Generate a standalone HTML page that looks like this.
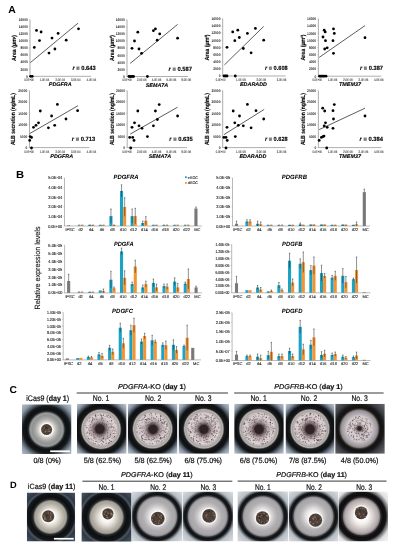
<!DOCTYPE html>
<html><head><meta charset="utf-8"><style>
html,body{margin:0;padding:0;background:#fff;}
svg{display:block;will-change:transform;}
text{font-family:"Liberation Sans", sans-serif;text-rendering:geometricPrecision;}
</style></head><body>
<svg width="397" height="550" viewBox="0 0 397 550">
<defs><filter id="soft" x="-10%" y="-10%" width="120%" height="120%"><feGaussianBlur stdDeviation="0.35"/></filter><radialGradient id="gc1" cx="46.60" cy="429.60" r="35.14" gradientUnits="userSpaceOnUse"><stop offset="0.0000" stop-color="#f8f6f4"/><stop offset="0.1268" stop-color="#f6f4f0"/><stop offset="0.1972" stop-color="#e6e4e0"/><stop offset="0.2676" stop-color="#c0beba"/><stop offset="0.3380" stop-color="#a2a2a0"/><stop offset="0.4085" stop-color="#909292"/><stop offset="0.4577" stop-color="#9c9e9e"/><stop offset="0.4930" stop-color="#6a6e70"/><stop offset="0.5211" stop-color="#222426"/><stop offset="0.5775" stop-color="#0c0e10"/><stop offset="0.6690" stop-color="#16191c"/><stop offset="0.7324" stop-color="#46505a"/><stop offset="0.8310" stop-color="#8a96a4"/><stop offset="1.0000" stop-color="#b8c4d0"/></radialGradient><clipPath id="clipc1"><rect x="22" y="404.3" width="49.50" height="49.70"/></clipPath><radialGradient id="gc2" cx="101.00" cy="429.20" r="35.22" gradientUnits="userSpaceOnUse"><stop offset="0.0000" stop-color="#b8acac"/><stop offset="0.1761" stop-color="#d4c8c8"/><stop offset="0.4225" stop-color="#dcd2d2"/><stop offset="0.4648" stop-color="#c0b8b6"/><stop offset="0.5070" stop-color="#a8a2a0"/><stop offset="0.5423" stop-color="#b8b4b2"/><stop offset="0.5634" stop-color="#5a5a5a"/><stop offset="0.5845" stop-color="#1a1b1c"/><stop offset="0.6690" stop-color="#0e0f10"/><stop offset="0.7183" stop-color="#16191c"/><stop offset="0.7746" stop-color="#4a525c"/><stop offset="0.8592" stop-color="#8a96a4"/><stop offset="1.0000" stop-color="#c0c8d0"/></radialGradient><clipPath id="clipc2"><rect x="77" y="403.8" width="49.60" height="50.00"/></clipPath><radialGradient id="hc2" cx="99.80" cy="429.00" r="12.32" gradientUnits="userSpaceOnUse"><stop offset="0" stop-color="#3a2e2e" stop-opacity="1"/><stop offset="0.4" stop-color="#4a3c3c" stop-opacity="0.9"/><stop offset="0.7" stop-color="#7a6868" stop-opacity="0.35"/><stop offset="1" stop-color="#8a7a7a" stop-opacity="0"/></radialGradient><radialGradient id="gc3" cx="152.60" cy="428.80" r="35.22" gradientUnits="userSpaceOnUse"><stop offset="0.0000" stop-color="#b8acac"/><stop offset="0.1761" stop-color="#d4c8c8"/><stop offset="0.4225" stop-color="#dcd2d2"/><stop offset="0.4648" stop-color="#c0b8b6"/><stop offset="0.5070" stop-color="#a8a2a0"/><stop offset="0.5423" stop-color="#b8b4b2"/><stop offset="0.5634" stop-color="#5a5a5a"/><stop offset="0.5845" stop-color="#1a1b1c"/><stop offset="0.6690" stop-color="#0e0f10"/><stop offset="0.7183" stop-color="#16191c"/><stop offset="0.7746" stop-color="#4a525c"/><stop offset="0.8592" stop-color="#8a96a4"/><stop offset="1.0000" stop-color="#c0c8d0"/></radialGradient><clipPath id="clipc3"><rect x="127.8" y="403.8" width="49.60" height="50.00"/></clipPath><radialGradient id="hc3" cx="153.00" cy="429.30" r="11.88" gradientUnits="userSpaceOnUse"><stop offset="0" stop-color="#3a2e2e" stop-opacity="1"/><stop offset="0.4" stop-color="#4a3c3c" stop-opacity="0.9"/><stop offset="0.7" stop-color="#7a6868" stop-opacity="0.35"/><stop offset="1" stop-color="#8a7a7a" stop-opacity="0"/></radialGradient><radialGradient id="gc4" cx="203.80" cy="428.80" r="35.50" gradientUnits="userSpaceOnUse"><stop offset="0.0000" stop-color="#b8acac"/><stop offset="0.1761" stop-color="#d4c8c8"/><stop offset="0.4225" stop-color="#dcd2d2"/><stop offset="0.4648" stop-color="#c0b8b6"/><stop offset="0.5070" stop-color="#a8a2a0"/><stop offset="0.5423" stop-color="#b8b4b2"/><stop offset="0.5634" stop-color="#5a5a5a"/><stop offset="0.5845" stop-color="#1a1b1c"/><stop offset="0.6690" stop-color="#0e0f10"/><stop offset="0.7183" stop-color="#16191c"/><stop offset="0.7746" stop-color="#4a525c"/><stop offset="0.8592" stop-color="#8a96a4"/><stop offset="1.0000" stop-color="#c0c8d0"/></radialGradient><clipPath id="clipc4"><rect x="178.6" y="403.8" width="50.40" height="50.00"/></clipPath><radialGradient id="hc4" cx="203.80" cy="429.30" r="11.88" gradientUnits="userSpaceOnUse"><stop offset="0" stop-color="#3a2e2e" stop-opacity="1"/><stop offset="0.4" stop-color="#4a3c3c" stop-opacity="0.9"/><stop offset="0.7" stop-color="#7a6868" stop-opacity="0.35"/><stop offset="1" stop-color="#8a7a7a" stop-opacity="0"/></radialGradient><radialGradient id="gc5" cx="259.00" cy="428.80" r="35.22" gradientUnits="userSpaceOnUse"><stop offset="0.0000" stop-color="#b8acac"/><stop offset="0.1761" stop-color="#d4c8c8"/><stop offset="0.4225" stop-color="#dcd2d2"/><stop offset="0.4648" stop-color="#c0b8b6"/><stop offset="0.5070" stop-color="#a8a2a0"/><stop offset="0.5423" stop-color="#b8b4b2"/><stop offset="0.5634" stop-color="#5a5a5a"/><stop offset="0.5845" stop-color="#1a1b1c"/><stop offset="0.6690" stop-color="#0e0f10"/><stop offset="0.7183" stop-color="#16191c"/><stop offset="0.7746" stop-color="#4a525c"/><stop offset="0.8592" stop-color="#8a96a4"/><stop offset="1.0000" stop-color="#c0c8d0"/></radialGradient><clipPath id="clipc5"><rect x="234.2" y="403.8" width="49.60" height="50.00"/></clipPath><radialGradient id="hc5" cx="259.00" cy="429.30" r="12.32" gradientUnits="userSpaceOnUse"><stop offset="0" stop-color="#3a2e2e" stop-opacity="1"/><stop offset="0.4" stop-color="#4a3c3c" stop-opacity="0.9"/><stop offset="0.7" stop-color="#7a6868" stop-opacity="0.35"/><stop offset="1" stop-color="#8a7a7a" stop-opacity="0"/></radialGradient><radialGradient id="gc6" cx="310.00" cy="428.80" r="34.79" gradientUnits="userSpaceOnUse"><stop offset="0.0000" stop-color="#b8acac"/><stop offset="0.1761" stop-color="#d4c8c8"/><stop offset="0.4225" stop-color="#dcd2d2"/><stop offset="0.4648" stop-color="#c0b8b6"/><stop offset="0.5070" stop-color="#a8a2a0"/><stop offset="0.5423" stop-color="#b8b4b2"/><stop offset="0.5634" stop-color="#5a5a5a"/><stop offset="0.5845" stop-color="#1a1b1c"/><stop offset="0.6690" stop-color="#0e0f10"/><stop offset="0.7183" stop-color="#16191c"/><stop offset="0.7746" stop-color="#4a525c"/><stop offset="0.8592" stop-color="#8a96a4"/><stop offset="1.0000" stop-color="#c0c8d0"/></radialGradient><clipPath id="clipc6"><rect x="285.5" y="403.8" width="49.00" height="50.00"/></clipPath><radialGradient id="hc6" cx="310.00" cy="429.30" r="12.32" gradientUnits="userSpaceOnUse"><stop offset="0" stop-color="#3a2e2e" stop-opacity="1"/><stop offset="0.4" stop-color="#4a3c3c" stop-opacity="0.9"/><stop offset="0.7" stop-color="#7a6868" stop-opacity="0.35"/><stop offset="1" stop-color="#8a7a7a" stop-opacity="0"/></radialGradient><radialGradient id="gc7" cx="359.30" cy="428.80" r="35.22" gradientUnits="userSpaceOnUse"><stop offset="0.0000" stop-color="#c8c0c0"/><stop offset="0.2113" stop-color="#dcd4d4"/><stop offset="0.3521" stop-color="#d6cece"/><stop offset="0.4085" stop-color="#bab4b8"/><stop offset="0.4789" stop-color="#a29eaa"/><stop offset="0.5282" stop-color="#8e8884"/><stop offset="0.5634" stop-color="#3a3430"/><stop offset="0.6056" stop-color="#121110"/><stop offset="0.6901" stop-color="#1a1a1c"/><stop offset="0.7746" stop-color="#3a3c40"/><stop offset="1.0000" stop-color="#6a6c70"/></radialGradient><clipPath id="clipc7"><rect x="335.2" y="403.8" width="49.60" height="50.00"/></clipPath><radialGradient id="hc7" cx="359.50" cy="428.50" r="5.50" gradientUnits="userSpaceOnUse"><stop offset="0" stop-color="#3a2e2e" stop-opacity="1"/><stop offset="0.4" stop-color="#4a3c3c" stop-opacity="0.9"/><stop offset="0.7" stop-color="#7a6868" stop-opacity="0.35"/><stop offset="1" stop-color="#8a7a7a" stop-opacity="0"/></radialGradient><radialGradient id="gd1" cx="50.50" cy="516.90" r="34.36" gradientUnits="userSpaceOnUse"><stop offset="0.0000" stop-color="#fafafa"/><stop offset="0.1549" stop-color="#f6f4f0"/><stop offset="0.2394" stop-color="#e2ded6"/><stop offset="0.3239" stop-color="#c8c2b8"/><stop offset="0.4085" stop-color="#aca89e"/><stop offset="0.4507" stop-color="#a8a49c"/><stop offset="0.4789" stop-color="#7a7a76"/><stop offset="0.5070" stop-color="#2a2c2e"/><stop offset="0.5775" stop-color="#0c0e10"/><stop offset="0.6901" stop-color="#15191d"/><stop offset="0.7394" stop-color="#4c5560"/><stop offset="0.8028" stop-color="#2e3844"/><stop offset="1.0000" stop-color="#485868"/></radialGradient><clipPath id="clipd1"><rect x="26.8" y="492.5" width="48.40" height="49.00"/></clipPath><radialGradient id="gd2" cx="106.50" cy="517.20" r="34.93" gradientUnits="userSpaceOnUse"><stop offset="0.0000" stop-color="#fafafa"/><stop offset="0.1549" stop-color="#f6f4f0"/><stop offset="0.2394" stop-color="#e2ded6"/><stop offset="0.3239" stop-color="#c8c2b8"/><stop offset="0.4085" stop-color="#aca89e"/><stop offset="0.4507" stop-color="#a8a49c"/><stop offset="0.4789" stop-color="#7a7a76"/><stop offset="0.5070" stop-color="#2a2c2e"/><stop offset="0.5775" stop-color="#0c0e10"/><stop offset="0.6901" stop-color="#15191d"/><stop offset="0.7394" stop-color="#4c5560"/><stop offset="0.8028" stop-color="#2e3844"/><stop offset="1.0000" stop-color="#485868"/></radialGradient><clipPath id="clipd2"><rect x="81.4" y="492.5" width="50.20" height="49.20"/></clipPath><radialGradient id="gd3" cx="157.10" cy="516.45" r="35.43" gradientUnits="userSpaceOnUse"><stop offset="0.0000" stop-color="#fafafa"/><stop offset="0.1408" stop-color="#f4f2f2"/><stop offset="0.2254" stop-color="#e2e0e0"/><stop offset="0.3169" stop-color="#c4c2c2"/><stop offset="0.4085" stop-color="#aeacae"/><stop offset="0.5070" stop-color="#a8a6a8"/><stop offset="0.5493" stop-color="#8a8a8c"/><stop offset="0.5775" stop-color="#3a3c3e"/><stop offset="0.6197" stop-color="#0e1012"/><stop offset="0.6761" stop-color="#1a1d20"/><stop offset="0.7183" stop-color="#6a7078"/><stop offset="0.7746" stop-color="#b8bec4"/><stop offset="1.0000" stop-color="#dcdfe2"/></radialGradient><clipPath id="clipd3"><rect x="131.8" y="491.5" width="50.60" height="49.90"/></clipPath><radialGradient id="gd4" cx="207.80" cy="516.45" r="35.43" gradientUnits="userSpaceOnUse"><stop offset="0.0000" stop-color="#fafafa"/><stop offset="0.1408" stop-color="#f4f2f2"/><stop offset="0.2254" stop-color="#e2e0e0"/><stop offset="0.3169" stop-color="#c4c2c2"/><stop offset="0.4085" stop-color="#aeacae"/><stop offset="0.5070" stop-color="#a8a6a8"/><stop offset="0.5493" stop-color="#8a8a8c"/><stop offset="0.5775" stop-color="#3a3c3e"/><stop offset="0.6197" stop-color="#0e1012"/><stop offset="0.6761" stop-color="#1a1d20"/><stop offset="0.7183" stop-color="#6a7078"/><stop offset="0.7746" stop-color="#b8bec4"/><stop offset="1.0000" stop-color="#dcdfe2"/></radialGradient><clipPath id="clipd4"><rect x="182.6" y="491.5" width="50.40" height="49.90"/></clipPath><radialGradient id="gd5" cx="262.80" cy="516.45" r="35.71" gradientUnits="userSpaceOnUse"><stop offset="0.0000" stop-color="#fafafa"/><stop offset="0.1408" stop-color="#f4f2f2"/><stop offset="0.2254" stop-color="#e2e0e0"/><stop offset="0.3169" stop-color="#c4c2c2"/><stop offset="0.4085" stop-color="#aeacae"/><stop offset="0.5070" stop-color="#a8a6a8"/><stop offset="0.5493" stop-color="#8a8a8c"/><stop offset="0.5775" stop-color="#3a3c3e"/><stop offset="0.6197" stop-color="#0e1012"/><stop offset="0.6761" stop-color="#1a1d20"/><stop offset="0.7183" stop-color="#6a7078"/><stop offset="0.7746" stop-color="#b8bec4"/><stop offset="1.0000" stop-color="#dcdfe2"/></radialGradient><clipPath id="clipd5"><rect x="237.4" y="491.3" width="50.80" height="50.30"/></clipPath><radialGradient id="gd6" cx="313.50" cy="516.45" r="35.36" gradientUnits="userSpaceOnUse"><stop offset="0.0000" stop-color="#fafafa"/><stop offset="0.1408" stop-color="#f4f2f2"/><stop offset="0.2254" stop-color="#e2e0e0"/><stop offset="0.3169" stop-color="#c4c2c2"/><stop offset="0.4085" stop-color="#aeacae"/><stop offset="0.5070" stop-color="#a8a6a8"/><stop offset="0.5493" stop-color="#8a8a8c"/><stop offset="0.5775" stop-color="#3a3c3e"/><stop offset="0.6197" stop-color="#0e1012"/><stop offset="0.6761" stop-color="#1a1d20"/><stop offset="0.7183" stop-color="#6a7078"/><stop offset="0.7746" stop-color="#b8bec4"/><stop offset="1.0000" stop-color="#dcdfe2"/></radialGradient><clipPath id="clipd6"><rect x="288.6" y="491.3" width="49.80" height="50.30"/></clipPath><radialGradient id="gd7" cx="361.60" cy="516.40" r="35.22" gradientUnits="userSpaceOnUse"><stop offset="0.0000" stop-color="#ffffff"/><stop offset="0.1972" stop-color="#f6f4f2"/><stop offset="0.2958" stop-color="#e0dad6"/><stop offset="0.3944" stop-color="#c6bebe"/><stop offset="0.4789" stop-color="#aea6a8"/><stop offset="0.5211" stop-color="#7a7476"/><stop offset="0.5493" stop-color="#2a2628"/><stop offset="0.6056" stop-color="#0e0d0e"/><stop offset="0.6901" stop-color="#151516"/><stop offset="0.7394" stop-color="#6a6a6e"/><stop offset="0.8451" stop-color="#e0e0e2"/><stop offset="1.0000" stop-color="#f4f4f6"/></radialGradient><clipPath id="clipd7"><rect x="338.4" y="491.5" width="49.60" height="50.00"/></clipPath></defs>
<rect width="397" height="550" fill="#fff"/>
<text x="8.2" y="13.0" font-size="10.2" text-anchor="start" font-weight="bold" font-style="normal" fill="#000" textLength="7.5" lengthAdjust="spacingAndGlyphs" >A</text>
<text x="15.9" y="178.3" font-size="10.2" text-anchor="start" font-weight="bold" font-style="normal" fill="#000" textLength="8.1" lengthAdjust="spacingAndGlyphs" >B</text>
<text x="9.6" y="392.7" font-size="9.92" text-anchor="start" font-weight="bold" font-style="normal" fill="#000" textLength="7.4" lengthAdjust="spacingAndGlyphs" >C</text>
<text x="10.0" y="488.1" font-size="9.22" text-anchor="start" font-weight="bold" font-style="normal" fill="#000" textLength="6.7" lengthAdjust="spacingAndGlyphs" >D</text>
<line x1="30" y1="19.6" x2="30" y2="76.3" stroke="#777" stroke-width="0.6"/>
<line x1="30" y1="76.3" x2="91.2" y2="76.3" stroke="#777" stroke-width="0.6"/>
<line x1="29" y1="19.60" x2="30" y2="19.60" stroke="#999" stroke-width="0.4"/>
<text x="27.8" y="20.95" font-size="3.8" text-anchor="end" font-weight="bold" font-style="normal" fill="#2a2a2a" textLength="9.1" lengthAdjust="spacingAndGlyphs" >16000</text>
<line x1="29" y1="26.69" x2="30" y2="26.69" stroke="#999" stroke-width="0.4"/>
<text x="27.8" y="28.04" font-size="3.8" text-anchor="end" font-weight="bold" font-style="normal" fill="#2a2a2a" textLength="9.1" lengthAdjust="spacingAndGlyphs" >14000</text>
<line x1="29" y1="33.77" x2="30" y2="33.77" stroke="#999" stroke-width="0.4"/>
<text x="27.8" y="35.12" font-size="3.8" text-anchor="end" font-weight="bold" font-style="normal" fill="#2a2a2a" textLength="9.1" lengthAdjust="spacingAndGlyphs" >12000</text>
<line x1="29" y1="40.86" x2="30" y2="40.86" stroke="#999" stroke-width="0.4"/>
<text x="27.8" y="42.21" font-size="3.8" text-anchor="end" font-weight="bold" font-style="normal" fill="#2a2a2a" textLength="9.1" lengthAdjust="spacingAndGlyphs" >10000</text>
<line x1="29" y1="47.95" x2="30" y2="47.95" stroke="#999" stroke-width="0.4"/>
<text x="27.8" y="49.3" font-size="3.8" text-anchor="end" font-weight="bold" font-style="normal" fill="#2a2a2a" textLength="7.28" lengthAdjust="spacingAndGlyphs" >8000</text>
<line x1="29" y1="55.04" x2="30" y2="55.04" stroke="#999" stroke-width="0.4"/>
<text x="27.8" y="56.39" font-size="3.8" text-anchor="end" font-weight="bold" font-style="normal" fill="#2a2a2a" textLength="7.28" lengthAdjust="spacingAndGlyphs" >6000</text>
<line x1="29" y1="62.12" x2="30" y2="62.12" stroke="#999" stroke-width="0.4"/>
<text x="27.8" y="63.48" font-size="3.8" text-anchor="end" font-weight="bold" font-style="normal" fill="#2a2a2a" textLength="7.28" lengthAdjust="spacingAndGlyphs" >4000</text>
<line x1="29" y1="69.21" x2="30" y2="69.21" stroke="#999" stroke-width="0.4"/>
<text x="27.8" y="70.56" font-size="3.8" text-anchor="end" font-weight="bold" font-style="normal" fill="#2a2a2a" textLength="7.28" lengthAdjust="spacingAndGlyphs" >2000</text>
<line x1="29" y1="76.30" x2="30" y2="76.30" stroke="#999" stroke-width="0.4"/>
<text x="27.8" y="77.65" font-size="3.8" text-anchor="end" font-weight="bold" font-style="normal" fill="#2a2a2a" textLength="1.82" lengthAdjust="spacingAndGlyphs" >0</text>
<text x="29.0" y="81.2" font-size="3.7" text-anchor="middle" font-weight="normal" font-style="normal" fill="#333" textLength="9.6" lengthAdjust="spacingAndGlyphs" stroke="#333" stroke-width="0.08">0.0E+00</text>
<text x="44.6" y="81.2" font-size="3.7" text-anchor="middle" font-weight="normal" font-style="normal" fill="#333" textLength="9.6" lengthAdjust="spacingAndGlyphs" stroke="#333" stroke-width="0.08">1.0E-04</text>
<text x="60.2" y="81.2" font-size="3.7" text-anchor="middle" font-weight="normal" font-style="normal" fill="#333" textLength="9.6" lengthAdjust="spacingAndGlyphs" stroke="#333" stroke-width="0.08">2.0E-04</text>
<text x="75.8" y="81.2" font-size="3.7" text-anchor="middle" font-weight="normal" font-style="normal" fill="#333" textLength="9.6" lengthAdjust="spacingAndGlyphs" stroke="#333" stroke-width="0.08">3.0E-04</text>
<text x="91.4" y="81.2" font-size="3.7" text-anchor="middle" font-weight="normal" font-style="normal" fill="#333" textLength="9.6" lengthAdjust="spacingAndGlyphs" stroke="#333" stroke-width="0.08">4.0E-04</text>
<line x1="30.4" y1="62.6" x2="78" y2="23.2" stroke="#333" stroke-width="0.8"/>
<circle cx="36.5" cy="30.4" r="1.4" fill="#000"/>
<circle cx="41.1" cy="32" r="1.4" fill="#000"/>
<circle cx="34.3" cy="47.4" r="1.4" fill="#000"/>
<circle cx="39.5" cy="40.6" r="1.4" fill="#000"/>
<circle cx="52" cy="38.1" r="1.4" fill="#000"/>
<circle cx="58.1" cy="33.4" r="1.4" fill="#000"/>
<circle cx="49" cy="53.1" r="1.4" fill="#000"/>
<circle cx="54.9" cy="49" r="1.4" fill="#000"/>
<circle cx="66.2" cy="40.2" r="1.4" fill="#000"/>
<circle cx="78.5" cy="28.8" r="1.4" fill="#000"/>
<circle cx="30.6" cy="76.3" r="1.4" fill="#000"/>
<circle cx="32.2" cy="76.3" r="1.4" fill="#000"/>
<text x="72.4" y="70.3" font-size="6.0" text-anchor="start" font-weight="bold" font-style="normal" fill="#000" textLength="23.3" lengthAdjust="spacingAndGlyphs" stroke="#000" stroke-width="0.12"><tspan font-style="italic">r</tspan> = 0.643</text>
<text x="60.2" y="86.3" font-size="5.4" text-anchor="middle" font-weight="bold" font-style="italic" fill="#000" stroke="#000" stroke-width="0.1">PDGFRA</text>
<text transform="translate(14.2,47.95) rotate(-90)" x="0" y="2.1" font-size="6.0" text-anchor="middle" font-weight="bold" fill="#000" stroke="#000" stroke-width="0.12" textLength="26" lengthAdjust="spacingAndGlyphs">Area (&#956;m<tspan font-size="3" dy="-1.5">2</tspan><tspan dy="1.5">)</tspan></text>
<line x1="127" y1="19.6" x2="127" y2="76.5" stroke="#777" stroke-width="0.6"/>
<line x1="127" y1="76.5" x2="188" y2="76.5" stroke="#777" stroke-width="0.6"/>
<line x1="126" y1="19.60" x2="127" y2="19.60" stroke="#999" stroke-width="0.4"/>
<text x="124.8" y="20.95" font-size="3.8" text-anchor="end" font-weight="bold" font-style="normal" fill="#2a2a2a" textLength="9.1" lengthAdjust="spacingAndGlyphs" >16000</text>
<line x1="126" y1="26.71" x2="127" y2="26.71" stroke="#999" stroke-width="0.4"/>
<text x="124.8" y="28.06" font-size="3.8" text-anchor="end" font-weight="bold" font-style="normal" fill="#2a2a2a" textLength="9.1" lengthAdjust="spacingAndGlyphs" >14000</text>
<line x1="126" y1="33.83" x2="127" y2="33.83" stroke="#999" stroke-width="0.4"/>
<text x="124.8" y="35.18" font-size="3.8" text-anchor="end" font-weight="bold" font-style="normal" fill="#2a2a2a" textLength="9.1" lengthAdjust="spacingAndGlyphs" >12000</text>
<line x1="126" y1="40.94" x2="127" y2="40.94" stroke="#999" stroke-width="0.4"/>
<text x="124.8" y="42.29" font-size="3.8" text-anchor="end" font-weight="bold" font-style="normal" fill="#2a2a2a" textLength="9.1" lengthAdjust="spacingAndGlyphs" >10000</text>
<line x1="126" y1="48.05" x2="127" y2="48.05" stroke="#999" stroke-width="0.4"/>
<text x="124.8" y="49.4" font-size="3.8" text-anchor="end" font-weight="bold" font-style="normal" fill="#2a2a2a" textLength="7.28" lengthAdjust="spacingAndGlyphs" >8000</text>
<line x1="126" y1="55.16" x2="127" y2="55.16" stroke="#999" stroke-width="0.4"/>
<text x="124.8" y="56.51" font-size="3.8" text-anchor="end" font-weight="bold" font-style="normal" fill="#2a2a2a" textLength="7.28" lengthAdjust="spacingAndGlyphs" >6000</text>
<line x1="126" y1="62.27" x2="127" y2="62.27" stroke="#999" stroke-width="0.4"/>
<text x="124.8" y="63.62" font-size="3.8" text-anchor="end" font-weight="bold" font-style="normal" fill="#2a2a2a" textLength="7.28" lengthAdjust="spacingAndGlyphs" >4000</text>
<line x1="126" y1="69.39" x2="127" y2="69.39" stroke="#999" stroke-width="0.4"/>
<text x="124.8" y="70.74" font-size="3.8" text-anchor="end" font-weight="bold" font-style="normal" fill="#2a2a2a" textLength="7.28" lengthAdjust="spacingAndGlyphs" >2000</text>
<line x1="126" y1="76.50" x2="127" y2="76.50" stroke="#999" stroke-width="0.4"/>
<text x="124.8" y="77.85" font-size="3.8" text-anchor="end" font-weight="bold" font-style="normal" fill="#2a2a2a" textLength="1.82" lengthAdjust="spacingAndGlyphs" >0</text>
<text x="127.0" y="81.4" font-size="3.7" text-anchor="middle" font-weight="normal" font-style="normal" fill="#333" textLength="9.6" lengthAdjust="spacingAndGlyphs" stroke="#333" stroke-width="0.08">0.0E+00</text>
<text x="141.8" y="81.4" font-size="3.7" text-anchor="middle" font-weight="normal" font-style="normal" fill="#333" textLength="9.6" lengthAdjust="spacingAndGlyphs" stroke="#333" stroke-width="0.08">2.0E-06</text>
<text x="156.6" y="81.4" font-size="3.7" text-anchor="middle" font-weight="normal" font-style="normal" fill="#333" textLength="9.6" lengthAdjust="spacingAndGlyphs" stroke="#333" stroke-width="0.08">4.0E-06</text>
<text x="171.4" y="81.4" font-size="3.7" text-anchor="middle" font-weight="normal" font-style="normal" fill="#333" textLength="9.6" lengthAdjust="spacingAndGlyphs" stroke="#333" stroke-width="0.08">6.0E-06</text>
<text x="186.2" y="81.4" font-size="3.7" text-anchor="middle" font-weight="normal" font-style="normal" fill="#333" textLength="9.6" lengthAdjust="spacingAndGlyphs" stroke="#333" stroke-width="0.08">8.0E-06</text>
<line x1="130.2" y1="63.4" x2="177.6" y2="24.4" stroke="#333" stroke-width="0.8"/>
<circle cx="132" cy="48.3" r="1.4" fill="#000"/>
<circle cx="134.5" cy="41" r="1.4" fill="#000"/>
<circle cx="137.8" cy="32.2" r="1.4" fill="#000"/>
<circle cx="139" cy="49" r="1.4" fill="#000"/>
<circle cx="141.6" cy="53.3" r="1.4" fill="#000"/>
<circle cx="153.4" cy="30.7" r="1.4" fill="#000"/>
<circle cx="155.4" cy="28.9" r="1.4" fill="#000"/>
<circle cx="159.7" cy="33.9" r="1.4" fill="#000"/>
<circle cx="157.2" cy="40.2" r="1.4" fill="#000"/>
<circle cx="177.6" cy="38.2" r="1.4" fill="#000"/>
<circle cx="129" cy="76.5" r="1.4" fill="#000"/>
<circle cx="130.5" cy="76.5" r="1.4" fill="#000"/>
<circle cx="132" cy="76.5" r="1.4" fill="#000"/>
<circle cx="133.5" cy="76.5" r="1.4" fill="#000"/>
<circle cx="147.4" cy="76.5" r="1.4" fill="#000"/>
<text x="168.5" y="71.1" font-size="6.0" text-anchor="start" font-weight="bold" font-style="normal" fill="#000" textLength="23.5" lengthAdjust="spacingAndGlyphs" stroke="#000" stroke-width="0.12"><tspan font-style="italic">r</tspan> = 0.587</text>
<text x="157" y="86.5" font-size="5.4" text-anchor="middle" font-weight="bold" font-style="italic" fill="#000" stroke="#000" stroke-width="0.1">SEMA7A</text>
<text transform="translate(111.5,48.05) rotate(-90)" x="0" y="2.1" font-size="6.0" text-anchor="middle" font-weight="bold" fill="#000" stroke="#000" stroke-width="0.12" textLength="26" lengthAdjust="spacingAndGlyphs">Area (&#956;m<tspan font-size="3" dy="-1.5">2</tspan><tspan dy="1.5">)</tspan></text>
<line x1="222.7" y1="18.8" x2="222.7" y2="76.0" stroke="#777" stroke-width="0.6"/>
<line x1="222.7" y1="76.0" x2="285.6" y2="76.0" stroke="#777" stroke-width="0.6"/>
<line x1="221.7" y1="18.80" x2="222.7" y2="18.80" stroke="#999" stroke-width="0.4"/>
<text x="220.5" y="20.15" font-size="3.8" text-anchor="end" font-weight="bold" font-style="normal" fill="#2a2a2a" textLength="9.1" lengthAdjust="spacingAndGlyphs" >16000</text>
<line x1="221.7" y1="25.95" x2="222.7" y2="25.95" stroke="#999" stroke-width="0.4"/>
<text x="220.5" y="27.3" font-size="3.8" text-anchor="end" font-weight="bold" font-style="normal" fill="#2a2a2a" textLength="9.1" lengthAdjust="spacingAndGlyphs" >14000</text>
<line x1="221.7" y1="33.10" x2="222.7" y2="33.10" stroke="#999" stroke-width="0.4"/>
<text x="220.5" y="34.45" font-size="3.8" text-anchor="end" font-weight="bold" font-style="normal" fill="#2a2a2a" textLength="9.1" lengthAdjust="spacingAndGlyphs" >12000</text>
<line x1="221.7" y1="40.25" x2="222.7" y2="40.25" stroke="#999" stroke-width="0.4"/>
<text x="220.5" y="41.6" font-size="3.8" text-anchor="end" font-weight="bold" font-style="normal" fill="#2a2a2a" textLength="9.1" lengthAdjust="spacingAndGlyphs" >10000</text>
<line x1="221.7" y1="47.40" x2="222.7" y2="47.40" stroke="#999" stroke-width="0.4"/>
<text x="220.5" y="48.75" font-size="3.8" text-anchor="end" font-weight="bold" font-style="normal" fill="#2a2a2a" textLength="7.28" lengthAdjust="spacingAndGlyphs" >8000</text>
<line x1="221.7" y1="54.55" x2="222.7" y2="54.55" stroke="#999" stroke-width="0.4"/>
<text x="220.5" y="55.9" font-size="3.8" text-anchor="end" font-weight="bold" font-style="normal" fill="#2a2a2a" textLength="7.28" lengthAdjust="spacingAndGlyphs" >6000</text>
<line x1="221.7" y1="61.70" x2="222.7" y2="61.70" stroke="#999" stroke-width="0.4"/>
<text x="220.5" y="63.05" font-size="3.8" text-anchor="end" font-weight="bold" font-style="normal" fill="#2a2a2a" textLength="7.28" lengthAdjust="spacingAndGlyphs" >4000</text>
<line x1="221.7" y1="68.85" x2="222.7" y2="68.85" stroke="#999" stroke-width="0.4"/>
<text x="220.5" y="70.2" font-size="3.8" text-anchor="end" font-weight="bold" font-style="normal" fill="#2a2a2a" textLength="7.28" lengthAdjust="spacingAndGlyphs" >2000</text>
<line x1="221.7" y1="76.00" x2="222.7" y2="76.00" stroke="#999" stroke-width="0.4"/>
<text x="220.5" y="77.35" font-size="3.8" text-anchor="end" font-weight="bold" font-style="normal" fill="#2a2a2a" textLength="1.82" lengthAdjust="spacingAndGlyphs" >0</text>
<text x="220.6" y="80.9" font-size="3.7" text-anchor="middle" font-weight="normal" font-style="normal" fill="#333" textLength="9.6" lengthAdjust="spacingAndGlyphs" stroke="#333" stroke-width="0.08">0.0E+00</text>
<text x="240.9" y="80.9" font-size="3.7" text-anchor="middle" font-weight="normal" font-style="normal" fill="#333" textLength="9.6" lengthAdjust="spacingAndGlyphs" stroke="#333" stroke-width="0.08">1.0E-05</text>
<text x="261.2" y="80.9" font-size="3.7" text-anchor="middle" font-weight="normal" font-style="normal" fill="#333" textLength="9.6" lengthAdjust="spacingAndGlyphs" stroke="#333" stroke-width="0.08">2.0E-05</text>
<text x="281.5" y="80.9" font-size="3.7" text-anchor="middle" font-weight="normal" font-style="normal" fill="#333" textLength="9.6" lengthAdjust="spacingAndGlyphs" stroke="#333" stroke-width="0.08">3.0E-05</text>
<line x1="224.4" y1="64.9" x2="263.7" y2="26.4" stroke="#333" stroke-width="0.8"/>
<circle cx="227" cy="47.3" r="1.4" fill="#000"/>
<circle cx="232.7" cy="31.9" r="1.4" fill="#000"/>
<circle cx="234.8" cy="40.7" r="1.4" fill="#000"/>
<circle cx="237.8" cy="30.2" r="1.4" fill="#000"/>
<circle cx="239.3" cy="37.5" r="1.4" fill="#000"/>
<circle cx="243.3" cy="48.5" r="1.4" fill="#000"/>
<circle cx="247.4" cy="33.4" r="1.4" fill="#000"/>
<circle cx="251.1" cy="52.8" r="1.4" fill="#000"/>
<circle cx="255.4" cy="28.4" r="1.4" fill="#000"/>
<circle cx="263.7" cy="40.2" r="1.4" fill="#000"/>
<circle cx="224" cy="76" r="1.4" fill="#000"/>
<circle cx="225.5" cy="76" r="1.4" fill="#000"/>
<circle cx="227" cy="76" r="1.4" fill="#000"/>
<circle cx="235.3" cy="76" r="1.4" fill="#000"/>
<text x="265" y="70.1" font-size="6.0" text-anchor="start" font-weight="bold" font-style="normal" fill="#000" textLength="22.7" lengthAdjust="spacingAndGlyphs" stroke="#000" stroke-width="0.12"><tspan font-style="italic">r</tspan> = 0.608</text>
<text x="253.5" y="86.0" font-size="5.4" text-anchor="middle" font-weight="bold" font-style="italic" fill="#000" stroke="#000" stroke-width="0.1">EDARADD</text>
<text transform="translate(206.8,47.40) rotate(-90)" x="0" y="2.1" font-size="6.0" text-anchor="middle" font-weight="bold" fill="#000" stroke="#000" stroke-width="0.12" textLength="26" lengthAdjust="spacingAndGlyphs">Area (&#956;m<tspan font-size="3" dy="-1.5">2</tspan><tspan dy="1.5">)</tspan></text>
<line x1="318.4" y1="18.8" x2="318.4" y2="76.2" stroke="#777" stroke-width="0.6"/>
<line x1="318.4" y1="76.2" x2="381.4" y2="76.2" stroke="#777" stroke-width="0.6"/>
<line x1="317.4" y1="18.80" x2="318.4" y2="18.80" stroke="#999" stroke-width="0.4"/>
<text x="316.2" y="20.15" font-size="3.8" text-anchor="end" font-weight="bold" font-style="normal" fill="#2a2a2a" textLength="9.1" lengthAdjust="spacingAndGlyphs" >16000</text>
<line x1="317.4" y1="25.98" x2="318.4" y2="25.98" stroke="#999" stroke-width="0.4"/>
<text x="316.2" y="27.33" font-size="3.8" text-anchor="end" font-weight="bold" font-style="normal" fill="#2a2a2a" textLength="9.1" lengthAdjust="spacingAndGlyphs" >14000</text>
<line x1="317.4" y1="33.15" x2="318.4" y2="33.15" stroke="#999" stroke-width="0.4"/>
<text x="316.2" y="34.5" font-size="3.8" text-anchor="end" font-weight="bold" font-style="normal" fill="#2a2a2a" textLength="9.1" lengthAdjust="spacingAndGlyphs" >12000</text>
<line x1="317.4" y1="40.33" x2="318.4" y2="40.33" stroke="#999" stroke-width="0.4"/>
<text x="316.2" y="41.68" font-size="3.8" text-anchor="end" font-weight="bold" font-style="normal" fill="#2a2a2a" textLength="9.1" lengthAdjust="spacingAndGlyphs" >10000</text>
<line x1="317.4" y1="47.50" x2="318.4" y2="47.50" stroke="#999" stroke-width="0.4"/>
<text x="316.2" y="48.85" font-size="3.8" text-anchor="end" font-weight="bold" font-style="normal" fill="#2a2a2a" textLength="7.28" lengthAdjust="spacingAndGlyphs" >8000</text>
<line x1="317.4" y1="54.67" x2="318.4" y2="54.67" stroke="#999" stroke-width="0.4"/>
<text x="316.2" y="56.02" font-size="3.8" text-anchor="end" font-weight="bold" font-style="normal" fill="#2a2a2a" textLength="7.28" lengthAdjust="spacingAndGlyphs" >6000</text>
<line x1="317.4" y1="61.85" x2="318.4" y2="61.85" stroke="#999" stroke-width="0.4"/>
<text x="316.2" y="63.2" font-size="3.8" text-anchor="end" font-weight="bold" font-style="normal" fill="#2a2a2a" textLength="7.28" lengthAdjust="spacingAndGlyphs" >4000</text>
<line x1="317.4" y1="69.03" x2="318.4" y2="69.03" stroke="#999" stroke-width="0.4"/>
<text x="316.2" y="70.38" font-size="3.8" text-anchor="end" font-weight="bold" font-style="normal" fill="#2a2a2a" textLength="7.28" lengthAdjust="spacingAndGlyphs" >2000</text>
<line x1="317.4" y1="76.20" x2="318.4" y2="76.20" stroke="#999" stroke-width="0.4"/>
<text x="316.2" y="77.55" font-size="3.8" text-anchor="end" font-weight="bold" font-style="normal" fill="#2a2a2a" textLength="1.82" lengthAdjust="spacingAndGlyphs" >0</text>
<text x="317.2" y="81.10000000000001" font-size="3.7" text-anchor="middle" font-weight="normal" font-style="normal" fill="#333" textLength="9.6" lengthAdjust="spacingAndGlyphs" stroke="#333" stroke-width="0.08">0.0E+00</text>
<text x="332.6" y="81.10000000000001" font-size="3.7" text-anchor="middle" font-weight="normal" font-style="normal" fill="#333" textLength="9.6" lengthAdjust="spacingAndGlyphs" stroke="#333" stroke-width="0.08">1.0E-06</text>
<text x="348.0" y="81.10000000000001" font-size="3.7" text-anchor="middle" font-weight="normal" font-style="normal" fill="#333" textLength="9.6" lengthAdjust="spacingAndGlyphs" stroke="#333" stroke-width="0.08">2.0E-06</text>
<text x="363.4" y="81.10000000000001" font-size="3.7" text-anchor="middle" font-weight="normal" font-style="normal" fill="#333" textLength="9.6" lengthAdjust="spacingAndGlyphs" stroke="#333" stroke-width="0.08">3.0E-06</text>
<text x="378.8" y="81.10000000000001" font-size="3.7" text-anchor="middle" font-weight="normal" font-style="normal" fill="#333" textLength="9.6" lengthAdjust="spacingAndGlyphs" stroke="#333" stroke-width="0.08">4.0E-06</text>
<line x1="319.2" y1="57.4" x2="365" y2="25.6" stroke="#333" stroke-width="0.8"/>
<circle cx="323" cy="37" r="1.4" fill="#000"/>
<circle cx="324.2" cy="30.2" r="1.4" fill="#000"/>
<circle cx="325.2" cy="31.9" r="1.4" fill="#000"/>
<circle cx="325.5" cy="40.7" r="1.4" fill="#000"/>
<circle cx="324.7" cy="49" r="1.4" fill="#000"/>
<circle cx="327.2" cy="47.8" r="1.4" fill="#000"/>
<circle cx="333.5" cy="28.9" r="1.4" fill="#000"/>
<circle cx="334.3" cy="33.4" r="1.4" fill="#000"/>
<circle cx="333" cy="40.7" r="1.4" fill="#000"/>
<circle cx="333.5" cy="53.3" r="1.4" fill="#000"/>
<circle cx="365" cy="37.7" r="1.4" fill="#000"/>
<circle cx="319.5" cy="76.2" r="1.4" fill="#000"/>
<circle cx="321" cy="76.2" r="1.4" fill="#000"/>
<circle cx="322.5" cy="76.2" r="1.4" fill="#000"/>
<circle cx="324" cy="76.2" r="1.4" fill="#000"/>
<circle cx="326" cy="76.2" r="1.4" fill="#000"/>
<text x="360" y="70.1" font-size="6.0" text-anchor="start" font-weight="bold" font-style="normal" fill="#000" textLength="23" lengthAdjust="spacingAndGlyphs" stroke="#000" stroke-width="0.12"><tspan font-style="italic">r</tspan> = 0.387</text>
<text x="350" y="86.2" font-size="5.4" text-anchor="middle" font-weight="bold" font-style="italic" fill="#000" stroke="#000" stroke-width="0.1">TMEM37</text>
<text transform="translate(302.8,47.50) rotate(-90)" x="0" y="2.1" font-size="6.0" text-anchor="middle" font-weight="bold" fill="#000" stroke="#000" stroke-width="0.12" textLength="26" lengthAdjust="spacingAndGlyphs">Area (&#956;m<tspan font-size="3" dy="-1.5">2</tspan><tspan dy="1.5">)</tspan></text>
<line x1="29.5" y1="90.6" x2="29.5" y2="147.6" stroke="#777" stroke-width="0.6"/>
<line x1="29.5" y1="147.6" x2="89.4" y2="147.6" stroke="#777" stroke-width="0.6"/>
<line x1="28.5" y1="90.60" x2="29.5" y2="90.60" stroke="#999" stroke-width="0.4"/>
<text x="27.3" y="91.95" font-size="3.8" text-anchor="end" font-weight="bold" font-style="normal" fill="#2a2a2a" textLength="9.1" lengthAdjust="spacingAndGlyphs" >25000</text>
<line x1="28.5" y1="102.00" x2="29.5" y2="102.00" stroke="#999" stroke-width="0.4"/>
<text x="27.3" y="103.35" font-size="3.8" text-anchor="end" font-weight="bold" font-style="normal" fill="#2a2a2a" textLength="9.1" lengthAdjust="spacingAndGlyphs" >20000</text>
<line x1="28.5" y1="113.40" x2="29.5" y2="113.40" stroke="#999" stroke-width="0.4"/>
<text x="27.3" y="114.75" font-size="3.8" text-anchor="end" font-weight="bold" font-style="normal" fill="#2a2a2a" textLength="9.1" lengthAdjust="spacingAndGlyphs" >15000</text>
<line x1="28.5" y1="124.80" x2="29.5" y2="124.80" stroke="#999" stroke-width="0.4"/>
<text x="27.3" y="126.15" font-size="3.8" text-anchor="end" font-weight="bold" font-style="normal" fill="#2a2a2a" textLength="9.1" lengthAdjust="spacingAndGlyphs" >10000</text>
<line x1="28.5" y1="136.20" x2="29.5" y2="136.20" stroke="#999" stroke-width="0.4"/>
<text x="27.3" y="137.55" font-size="3.8" text-anchor="end" font-weight="bold" font-style="normal" fill="#2a2a2a" textLength="7.28" lengthAdjust="spacingAndGlyphs" >5000</text>
<line x1="28.5" y1="147.60" x2="29.5" y2="147.60" stroke="#999" stroke-width="0.4"/>
<text x="27.3" y="148.95" font-size="3.8" text-anchor="end" font-weight="bold" font-style="normal" fill="#2a2a2a" textLength="1.82" lengthAdjust="spacingAndGlyphs" >0</text>
<text x="29.0" y="152.5" font-size="3.7" text-anchor="middle" font-weight="normal" font-style="normal" fill="#333" textLength="9.6" lengthAdjust="spacingAndGlyphs" stroke="#333" stroke-width="0.08">0.0E+00</text>
<text x="44.6" y="152.5" font-size="3.7" text-anchor="middle" font-weight="normal" font-style="normal" fill="#333" textLength="9.6" lengthAdjust="spacingAndGlyphs" stroke="#333" stroke-width="0.08">1.0E-04</text>
<text x="60.2" y="152.5" font-size="3.7" text-anchor="middle" font-weight="normal" font-style="normal" fill="#333" textLength="9.6" lengthAdjust="spacingAndGlyphs" stroke="#333" stroke-width="0.08">2.0E-04</text>
<text x="75.8" y="152.5" font-size="3.7" text-anchor="middle" font-weight="normal" font-style="normal" fill="#333" textLength="9.6" lengthAdjust="spacingAndGlyphs" stroke="#333" stroke-width="0.08">3.0E-04</text>
<text x="91.4" y="152.5" font-size="3.7" text-anchor="middle" font-weight="normal" font-style="normal" fill="#333" textLength="9.6" lengthAdjust="spacingAndGlyphs" stroke="#333" stroke-width="0.08">4.0E-04</text>
<line x1="29.7" y1="133.6" x2="78" y2="105.7" stroke="#333" stroke-width="0.8"/>
<circle cx="30.2" cy="136.6" r="1.4" fill="#000"/>
<circle cx="31.5" cy="137.4" r="1.4" fill="#000"/>
<circle cx="29.7" cy="140.4" r="1.4" fill="#000"/>
<circle cx="31.5" cy="148" r="1.4" fill="#000"/>
<circle cx="33.5" cy="127.3" r="1.4" fill="#000"/>
<circle cx="36" cy="125.3" r="1.4" fill="#000"/>
<circle cx="38.5" cy="122.8" r="1.4" fill="#000"/>
<circle cx="40.3" cy="111" r="1.4" fill="#000"/>
<circle cx="48.4" cy="127.8" r="1.4" fill="#000"/>
<circle cx="51.6" cy="116" r="1.4" fill="#000"/>
<circle cx="54.7" cy="125.3" r="1.4" fill="#000"/>
<circle cx="57.4" cy="104.4" r="1.4" fill="#000"/>
<circle cx="66" cy="119" r="1.4" fill="#000"/>
<circle cx="77.6" cy="110.7" r="1.4" fill="#000"/>
<text x="71.8" y="140.79999999999998" font-size="6.0" text-anchor="start" font-weight="bold" font-style="normal" fill="#000" textLength="23.4" lengthAdjust="spacingAndGlyphs" stroke="#000" stroke-width="0.12"><tspan font-style="italic">r</tspan> = 0.713</text>
<text x="61.7" y="157.6" font-size="5.4" text-anchor="middle" font-weight="bold" font-style="italic" fill="#000" stroke="#000" stroke-width="0.1">PDGFRA</text>
<text transform="translate(13.3,119.10) rotate(-90)" x="0" y="2.1" font-size="6.0" text-anchor="middle" font-weight="bold" fill="#000" stroke="#000" stroke-width="0.12" textLength="52" lengthAdjust="spacingAndGlyphs">ALB secretion (ng/mL)</text>
<line x1="127.2" y1="90.6" x2="127.2" y2="147.6" stroke="#777" stroke-width="0.6"/>
<line x1="127.2" y1="147.6" x2="187" y2="147.6" stroke="#777" stroke-width="0.6"/>
<line x1="126.2" y1="90.60" x2="127.2" y2="90.60" stroke="#999" stroke-width="0.4"/>
<text x="125.0" y="91.95" font-size="3.8" text-anchor="end" font-weight="bold" font-style="normal" fill="#2a2a2a" textLength="9.1" lengthAdjust="spacingAndGlyphs" >25000</text>
<line x1="126.2" y1="102.00" x2="127.2" y2="102.00" stroke="#999" stroke-width="0.4"/>
<text x="125.0" y="103.35" font-size="3.8" text-anchor="end" font-weight="bold" font-style="normal" fill="#2a2a2a" textLength="9.1" lengthAdjust="spacingAndGlyphs" >20000</text>
<line x1="126.2" y1="113.40" x2="127.2" y2="113.40" stroke="#999" stroke-width="0.4"/>
<text x="125.0" y="114.75" font-size="3.8" text-anchor="end" font-weight="bold" font-style="normal" fill="#2a2a2a" textLength="9.1" lengthAdjust="spacingAndGlyphs" >15000</text>
<line x1="126.2" y1="124.80" x2="127.2" y2="124.80" stroke="#999" stroke-width="0.4"/>
<text x="125.0" y="126.15" font-size="3.8" text-anchor="end" font-weight="bold" font-style="normal" fill="#2a2a2a" textLength="9.1" lengthAdjust="spacingAndGlyphs" >10000</text>
<line x1="126.2" y1="136.20" x2="127.2" y2="136.20" stroke="#999" stroke-width="0.4"/>
<text x="125.0" y="137.55" font-size="3.8" text-anchor="end" font-weight="bold" font-style="normal" fill="#2a2a2a" textLength="7.28" lengthAdjust="spacingAndGlyphs" >5000</text>
<line x1="126.2" y1="147.60" x2="127.2" y2="147.60" stroke="#999" stroke-width="0.4"/>
<text x="125.0" y="148.95" font-size="3.8" text-anchor="end" font-weight="bold" font-style="normal" fill="#2a2a2a" textLength="1.82" lengthAdjust="spacingAndGlyphs" >0</text>
<text x="127.0" y="152.5" font-size="3.7" text-anchor="middle" font-weight="normal" font-style="normal" fill="#333" textLength="9.6" lengthAdjust="spacingAndGlyphs" stroke="#333" stroke-width="0.08">0.0E+00</text>
<text x="141.8" y="152.5" font-size="3.7" text-anchor="middle" font-weight="normal" font-style="normal" fill="#333" textLength="9.6" lengthAdjust="spacingAndGlyphs" stroke="#333" stroke-width="0.08">2.0E-06</text>
<text x="156.6" y="152.5" font-size="3.7" text-anchor="middle" font-weight="normal" font-style="normal" fill="#333" textLength="9.6" lengthAdjust="spacingAndGlyphs" stroke="#333" stroke-width="0.08">4.0E-06</text>
<text x="171.4" y="152.5" font-size="3.7" text-anchor="middle" font-weight="normal" font-style="normal" fill="#333" textLength="9.6" lengthAdjust="spacingAndGlyphs" stroke="#333" stroke-width="0.08">6.0E-06</text>
<text x="186.2" y="152.5" font-size="3.7" text-anchor="middle" font-weight="normal" font-style="normal" fill="#333" textLength="9.6" lengthAdjust="spacingAndGlyphs" stroke="#333" stroke-width="0.08">8.0E-06</text>
<line x1="130.2" y1="134.1" x2="177.6" y2="107.2" stroke="#333" stroke-width="0.8"/>
<circle cx="129.7" cy="137.4" r="1.4" fill="#000"/>
<circle cx="132.7" cy="137.4" r="1.4" fill="#000"/>
<circle cx="134" cy="140.4" r="1.4" fill="#000"/>
<circle cx="130.7" cy="148" r="1.4" fill="#000"/>
<circle cx="132" cy="127.3" r="1.4" fill="#000"/>
<circle cx="134.5" cy="122.8" r="1.4" fill="#000"/>
<circle cx="137.8" cy="111" r="1.4" fill="#000"/>
<circle cx="139" cy="125.8" r="1.4" fill="#000"/>
<circle cx="142" cy="128.3" r="1.4" fill="#000"/>
<circle cx="147.4" cy="136.6" r="1.4" fill="#000"/>
<circle cx="153.4" cy="125.8" r="1.4" fill="#000"/>
<circle cx="155.4" cy="111" r="1.4" fill="#000"/>
<circle cx="157.4" cy="119.5" r="1.4" fill="#000"/>
<circle cx="159.2" cy="104.6" r="1.4" fill="#000"/>
<circle cx="177.6" cy="116" r="1.4" fill="#000"/>
<text x="169.3" y="141.29999999999998" font-size="6.0" text-anchor="start" font-weight="bold" font-style="normal" fill="#000" textLength="23.4" lengthAdjust="spacingAndGlyphs" stroke="#000" stroke-width="0.12"><tspan font-style="italic">r</tspan> = 0.635</text>
<text x="160" y="157.6" font-size="5.4" text-anchor="middle" font-weight="bold" font-style="italic" fill="#000" stroke="#000" stroke-width="0.1">SEMA7A</text>
<text transform="translate(111.5,119.10) rotate(-90)" x="0" y="2.1" font-size="6.0" text-anchor="middle" font-weight="bold" fill="#000" stroke="#000" stroke-width="0.12" textLength="52" lengthAdjust="spacingAndGlyphs">ALB secretion (ng/mL)</text>
<line x1="222.7" y1="90.6" x2="222.7" y2="147.6" stroke="#777" stroke-width="0.6"/>
<line x1="222.7" y1="147.6" x2="285.6" y2="147.6" stroke="#777" stroke-width="0.6"/>
<line x1="221.7" y1="90.60" x2="222.7" y2="90.60" stroke="#999" stroke-width="0.4"/>
<text x="220.5" y="91.95" font-size="3.8" text-anchor="end" font-weight="bold" font-style="normal" fill="#2a2a2a" textLength="9.1" lengthAdjust="spacingAndGlyphs" >25000</text>
<line x1="221.7" y1="102.00" x2="222.7" y2="102.00" stroke="#999" stroke-width="0.4"/>
<text x="220.5" y="103.35" font-size="3.8" text-anchor="end" font-weight="bold" font-style="normal" fill="#2a2a2a" textLength="9.1" lengthAdjust="spacingAndGlyphs" >20000</text>
<line x1="221.7" y1="113.40" x2="222.7" y2="113.40" stroke="#999" stroke-width="0.4"/>
<text x="220.5" y="114.75" font-size="3.8" text-anchor="end" font-weight="bold" font-style="normal" fill="#2a2a2a" textLength="9.1" lengthAdjust="spacingAndGlyphs" >15000</text>
<line x1="221.7" y1="124.80" x2="222.7" y2="124.80" stroke="#999" stroke-width="0.4"/>
<text x="220.5" y="126.15" font-size="3.8" text-anchor="end" font-weight="bold" font-style="normal" fill="#2a2a2a" textLength="9.1" lengthAdjust="spacingAndGlyphs" >10000</text>
<line x1="221.7" y1="136.20" x2="222.7" y2="136.20" stroke="#999" stroke-width="0.4"/>
<text x="220.5" y="137.55" font-size="3.8" text-anchor="end" font-weight="bold" font-style="normal" fill="#2a2a2a" textLength="7.28" lengthAdjust="spacingAndGlyphs" >5000</text>
<line x1="221.7" y1="147.60" x2="222.7" y2="147.60" stroke="#999" stroke-width="0.4"/>
<text x="220.5" y="148.95" font-size="3.8" text-anchor="end" font-weight="bold" font-style="normal" fill="#2a2a2a" textLength="1.82" lengthAdjust="spacingAndGlyphs" >0</text>
<text x="220.6" y="152.5" font-size="3.7" text-anchor="middle" font-weight="normal" font-style="normal" fill="#333" textLength="9.6" lengthAdjust="spacingAndGlyphs" stroke="#333" stroke-width="0.08">0.0E+00</text>
<text x="240.9" y="152.5" font-size="3.7" text-anchor="middle" font-weight="normal" font-style="normal" fill="#333" textLength="9.6" lengthAdjust="spacingAndGlyphs" stroke="#333" stroke-width="0.08">1.0E-05</text>
<text x="261.2" y="152.5" font-size="3.7" text-anchor="middle" font-weight="normal" font-style="normal" fill="#333" textLength="9.6" lengthAdjust="spacingAndGlyphs" stroke="#333" stroke-width="0.08">2.0E-05</text>
<text x="281.5" y="152.5" font-size="3.7" text-anchor="middle" font-weight="normal" font-style="normal" fill="#333" textLength="9.6" lengthAdjust="spacingAndGlyphs" stroke="#333" stroke-width="0.08">3.0E-05</text>
<line x1="224" y1="134.6" x2="264.2" y2="109.4" stroke="#333" stroke-width="0.8"/>
<circle cx="223.9" cy="137.4" r="1.4" fill="#000"/>
<circle cx="226" cy="137.4" r="1.4" fill="#000"/>
<circle cx="227.2" cy="140.4" r="1.4" fill="#000"/>
<circle cx="226" cy="148" r="1.4" fill="#000"/>
<circle cx="227" cy="127.3" r="1.4" fill="#000"/>
<circle cx="233.2" cy="111" r="1.4" fill="#000"/>
<circle cx="234.8" cy="122.8" r="1.4" fill="#000"/>
<circle cx="235.3" cy="136.6" r="1.4" fill="#000"/>
<circle cx="238.3" cy="125.3" r="1.4" fill="#000"/>
<circle cx="239.5" cy="116" r="1.4" fill="#000"/>
<circle cx="243.3" cy="125.8" r="1.4" fill="#000"/>
<circle cx="247.4" cy="104.4" r="1.4" fill="#000"/>
<circle cx="251.1" cy="127.8" r="1.4" fill="#000"/>
<circle cx="256" cy="110.7" r="1.4" fill="#000"/>
<circle cx="263.7" cy="119" r="1.4" fill="#000"/>
<text x="265" y="141.29999999999998" font-size="6.0" text-anchor="start" font-weight="bold" font-style="normal" fill="#000" textLength="22.7" lengthAdjust="spacingAndGlyphs" stroke="#000" stroke-width="0.12"><tspan font-style="italic">r</tspan> = 0.628</text>
<text x="252.9" y="157.6" font-size="5.4" text-anchor="middle" font-weight="bold" font-style="italic" fill="#000" stroke="#000" stroke-width="0.1">EDARADD</text>
<text transform="translate(207.3,119.10) rotate(-90)" x="0" y="2.1" font-size="6.0" text-anchor="middle" font-weight="bold" fill="#000" stroke="#000" stroke-width="0.12" textLength="52" lengthAdjust="spacingAndGlyphs">ALB secretion (ng/mL)</text>
<line x1="318.4" y1="90.6" x2="318.4" y2="147.6" stroke="#777" stroke-width="0.6"/>
<line x1="318.4" y1="147.6" x2="381.4" y2="147.6" stroke="#777" stroke-width="0.6"/>
<line x1="317.4" y1="90.60" x2="318.4" y2="90.60" stroke="#999" stroke-width="0.4"/>
<text x="316.2" y="91.95" font-size="3.8" text-anchor="end" font-weight="bold" font-style="normal" fill="#2a2a2a" textLength="9.1" lengthAdjust="spacingAndGlyphs" >25000</text>
<line x1="317.4" y1="102.00" x2="318.4" y2="102.00" stroke="#999" stroke-width="0.4"/>
<text x="316.2" y="103.35" font-size="3.8" text-anchor="end" font-weight="bold" font-style="normal" fill="#2a2a2a" textLength="9.1" lengthAdjust="spacingAndGlyphs" >20000</text>
<line x1="317.4" y1="113.40" x2="318.4" y2="113.40" stroke="#999" stroke-width="0.4"/>
<text x="316.2" y="114.75" font-size="3.8" text-anchor="end" font-weight="bold" font-style="normal" fill="#2a2a2a" textLength="9.1" lengthAdjust="spacingAndGlyphs" >15000</text>
<line x1="317.4" y1="124.80" x2="318.4" y2="124.80" stroke="#999" stroke-width="0.4"/>
<text x="316.2" y="126.15" font-size="3.8" text-anchor="end" font-weight="bold" font-style="normal" fill="#2a2a2a" textLength="9.1" lengthAdjust="spacingAndGlyphs" >10000</text>
<line x1="317.4" y1="136.20" x2="318.4" y2="136.20" stroke="#999" stroke-width="0.4"/>
<text x="316.2" y="137.55" font-size="3.8" text-anchor="end" font-weight="bold" font-style="normal" fill="#2a2a2a" textLength="7.28" lengthAdjust="spacingAndGlyphs" >5000</text>
<line x1="317.4" y1="147.60" x2="318.4" y2="147.60" stroke="#999" stroke-width="0.4"/>
<text x="316.2" y="148.95" font-size="3.8" text-anchor="end" font-weight="bold" font-style="normal" fill="#2a2a2a" textLength="1.82" lengthAdjust="spacingAndGlyphs" >0</text>
<text x="317.2" y="152.5" font-size="3.7" text-anchor="middle" font-weight="normal" font-style="normal" fill="#333" textLength="9.6" lengthAdjust="spacingAndGlyphs" stroke="#333" stroke-width="0.08">0.0E+00</text>
<text x="332.6" y="152.5" font-size="3.7" text-anchor="middle" font-weight="normal" font-style="normal" fill="#333" textLength="9.6" lengthAdjust="spacingAndGlyphs" stroke="#333" stroke-width="0.08">1.0E-06</text>
<text x="348.0" y="152.5" font-size="3.7" text-anchor="middle" font-weight="normal" font-style="normal" fill="#333" textLength="9.6" lengthAdjust="spacingAndGlyphs" stroke="#333" stroke-width="0.08">2.0E-06</text>
<text x="363.4" y="152.5" font-size="3.7" text-anchor="middle" font-weight="normal" font-style="normal" fill="#333" textLength="9.6" lengthAdjust="spacingAndGlyphs" stroke="#333" stroke-width="0.08">3.0E-06</text>
<text x="378.8" y="152.5" font-size="3.7" text-anchor="middle" font-weight="normal" font-style="normal" fill="#333" textLength="9.6" lengthAdjust="spacingAndGlyphs" stroke="#333" stroke-width="0.08">4.0E-06</text>
<line x1="319.2" y1="129.6" x2="365" y2="108.2" stroke="#333" stroke-width="0.8"/>
<circle cx="319.2" cy="140.4" r="1.4" fill="#000"/>
<circle cx="321.4" cy="137.4" r="1.4" fill="#000"/>
<circle cx="323" cy="136.6" r="1.4" fill="#000"/>
<circle cx="324" cy="136.1" r="1.4" fill="#000"/>
<circle cx="322.7" cy="108.2" r="1.4" fill="#000"/>
<circle cx="324.7" cy="111" r="1.4" fill="#000"/>
<circle cx="324.2" cy="125.8" r="1.4" fill="#000"/>
<circle cx="325.5" cy="122.8" r="1.4" fill="#000"/>
<circle cx="327.2" cy="127.3" r="1.4" fill="#000"/>
<circle cx="326.7" cy="148" r="1.4" fill="#000"/>
<circle cx="333" cy="110.7" r="1.4" fill="#000"/>
<circle cx="334.3" cy="104.6" r="1.4" fill="#000"/>
<circle cx="333.5" cy="119" r="1.4" fill="#000"/>
<circle cx="333" cy="128.3" r="1.4" fill="#000"/>
<circle cx="365" cy="116" r="1.4" fill="#000"/>
<text x="359.5" y="141.29999999999998" font-size="6.0" text-anchor="start" font-weight="bold" font-style="normal" fill="#000" textLength="23.5" lengthAdjust="spacingAndGlyphs" stroke="#000" stroke-width="0.12"><tspan font-style="italic">r</tspan> = 0.384</text>
<text x="350" y="157.6" font-size="5.4" text-anchor="middle" font-weight="bold" font-style="italic" fill="#000" stroke="#000" stroke-width="0.1">TMEM37</text>
<text transform="translate(303.3,119.10) rotate(-90)" x="0" y="2.1" font-size="6.0" text-anchor="middle" font-weight="bold" fill="#000" stroke="#000" stroke-width="0.12" textLength="52" lengthAdjust="spacingAndGlyphs">ALB secretion (ng/mL)</text>
<text x="113.6" y="178.9" font-size="6.1" text-anchor="start" font-weight="bold" font-style="italic" fill="#000" textLength="24.9" lengthAdjust="spacingAndGlyphs" >PDGFRA</text>
<line x1="64.5" y1="177.9" x2="64.5" y2="226.0" stroke="#777" stroke-width="0.5"/>
<line x1="64.5" y1="226.0" x2="202" y2="226.0" stroke="#777" stroke-width="0.5"/>
<line x1="63.5" y1="177.90" x2="64.5" y2="177.90" stroke="#888" stroke-width="0.4"/>
<text x="62.2" y="179.45" font-size="4.4" text-anchor="end" font-weight="normal" font-style="normal" fill="#222" textLength="14" lengthAdjust="spacingAndGlyphs" stroke="#222" stroke-width="0.12">5.0E-04</text>
<line x1="63.5" y1="187.52" x2="64.5" y2="187.52" stroke="#888" stroke-width="0.4"/>
<text x="62.2" y="189.07" font-size="4.4" text-anchor="end" font-weight="normal" font-style="normal" fill="#222" textLength="14" lengthAdjust="spacingAndGlyphs" stroke="#222" stroke-width="0.12">4.0E-04</text>
<line x1="63.5" y1="197.14" x2="64.5" y2="197.14" stroke="#888" stroke-width="0.4"/>
<text x="62.2" y="198.69" font-size="4.4" text-anchor="end" font-weight="normal" font-style="normal" fill="#222" textLength="14" lengthAdjust="spacingAndGlyphs" stroke="#222" stroke-width="0.12">3.0E-04</text>
<line x1="63.5" y1="206.76" x2="64.5" y2="206.76" stroke="#888" stroke-width="0.4"/>
<text x="62.2" y="208.31" font-size="4.4" text-anchor="end" font-weight="normal" font-style="normal" fill="#222" textLength="14" lengthAdjust="spacingAndGlyphs" stroke="#222" stroke-width="0.12">2.0E-04</text>
<line x1="63.5" y1="216.38" x2="64.5" y2="216.38" stroke="#888" stroke-width="0.4"/>
<text x="62.2" y="217.93" font-size="4.4" text-anchor="end" font-weight="normal" font-style="normal" fill="#222" textLength="14" lengthAdjust="spacingAndGlyphs" stroke="#222" stroke-width="0.12">1.0E-04</text>
<line x1="63.5" y1="226.00" x2="64.5" y2="226.00" stroke="#888" stroke-width="0.4"/>
<text x="62.2" y="227.55" font-size="4.4" text-anchor="end" font-weight="normal" font-style="normal" fill="#222" textLength="14" lengthAdjust="spacingAndGlyphs" stroke="#222" stroke-width="0.12">0.0E+00</text>
<text x="70.1" y="230.8" font-size="4.0" text-anchor="middle" font-weight="normal" font-style="normal" fill="#222" stroke="#222" stroke-width="0.1">iPSC</text>
<text x="80.7" y="230.8" font-size="4.0" text-anchor="middle" font-weight="normal" font-style="normal" fill="#222" stroke="#222" stroke-width="0.1">d2</text>
<text x="91.3" y="230.8" font-size="4.0" text-anchor="middle" font-weight="normal" font-style="normal" fill="#222" stroke="#222" stroke-width="0.1">d4</text>
<text x="101.9" y="230.8" font-size="4.0" text-anchor="middle" font-weight="normal" font-style="normal" fill="#222" stroke="#222" stroke-width="0.1">d6</text>
<text x="112.5" y="230.8" font-size="4.0" text-anchor="middle" font-weight="normal" font-style="normal" fill="#222" stroke="#222" stroke-width="0.1">d8</text>
<text x="123.1" y="230.8" font-size="4.0" text-anchor="middle" font-weight="normal" font-style="normal" fill="#222" stroke="#222" stroke-width="0.1">d10</text>
<text x="133.7" y="230.8" font-size="4.0" text-anchor="middle" font-weight="normal" font-style="normal" fill="#222" stroke="#222" stroke-width="0.1">d12</text>
<text x="144.3" y="230.8" font-size="4.0" text-anchor="middle" font-weight="normal" font-style="normal" fill="#222" stroke="#222" stroke-width="0.1">d14</text>
<text x="154.9" y="230.8" font-size="4.0" text-anchor="middle" font-weight="normal" font-style="normal" fill="#222" stroke="#222" stroke-width="0.1">d16</text>
<text x="165.5" y="230.8" font-size="4.0" text-anchor="middle" font-weight="normal" font-style="normal" fill="#222" stroke="#222" stroke-width="0.1">d18</text>
<text x="176.1" y="230.8" font-size="4.0" text-anchor="middle" font-weight="normal" font-style="normal" fill="#222" stroke="#222" stroke-width="0.1">d20</text>
<text x="186.7" y="230.8" font-size="4.0" text-anchor="middle" font-weight="normal" font-style="normal" fill="#222" stroke="#222" stroke-width="0.1">d22</text>
<text x="197.3" y="230.8" font-size="4.0" text-anchor="middle" font-weight="normal" font-style="normal" fill="#222" stroke="#222" stroke-width="0.1">MC</text>
<rect x="67.20" y="225.3" width="3.1" height="0.70" fill="#787878"/>
<rect x="194.40" y="208.5" width="3.1" height="17.50" fill="#787878"/>
<line x1="195.95" y1="207" x2="195.95" y2="208.5" stroke="#222" stroke-width="0.5"/>
<line x1="195.25" y1="207" x2="196.65" y2="207" stroke="#222" stroke-width="0.5"/>
<rect x="77.60" y="225.5" width="3.1" height="0.50" fill="#1ba3c6"/>
<rect x="78.10" y="224.70" width="2.10" height="0.7" fill="#222" opacity="0.7"/>
<rect x="80.70" y="225.5" width="3.1" height="0.50" fill="#f39433"/>
<rect x="81.20" y="224.70" width="2.10" height="0.7" fill="#222" opacity="0.7"/>
<rect x="88.20" y="224.9" width="3.1" height="1.10" fill="#1ba3c6"/>
<rect x="88.70" y="224.70" width="2.10" height="0.7" fill="#222" opacity="0.7"/>
<rect x="91.30" y="225.1" width="3.1" height="0.90" fill="#f39433"/>
<rect x="91.80" y="224.70" width="2.10" height="0.7" fill="#222" opacity="0.7"/>
<rect x="98.80" y="225.3" width="3.1" height="0.70" fill="#1ba3c6"/>
<rect x="99.30" y="224.70" width="2.10" height="0.7" fill="#222" opacity="0.7"/>
<rect x="101.90" y="225.4" width="3.1" height="0.60" fill="#f39433"/>
<rect x="102.40" y="224.70" width="2.10" height="0.7" fill="#222" opacity="0.7"/>
<rect x="109.40" y="216.1" width="3.1" height="9.90" fill="#1ba3c6"/>
<line x1="110.95" y1="209" x2="110.95" y2="223.20" stroke="#222" stroke-width="0.5"/>
<line x1="110.25" y1="209" x2="111.65" y2="209" stroke="#222" stroke-width="0.5"/>
<rect x="112.50" y="225.0" width="3.1" height="1.00" fill="#f39433"/>
<rect x="113.00" y="224.70" width="2.10" height="0.7" fill="#222" opacity="0.7"/>
<rect x="120.00" y="190.9" width="3.1" height="35.10" fill="#1ba3c6"/>
<line x1="121.55" y1="184.8" x2="121.55" y2="197.00" stroke="#222" stroke-width="0.5"/>
<line x1="120.85" y1="184.8" x2="122.25" y2="184.8" stroke="#222" stroke-width="0.5"/>
<rect x="123.10" y="207" width="3.1" height="19.00" fill="#f39433"/>
<line x1="124.65" y1="197.7" x2="124.65" y2="216.30" stroke="#222" stroke-width="0.5"/>
<line x1="123.95" y1="197.7" x2="125.35" y2="197.7" stroke="#222" stroke-width="0.5"/>
<rect x="130.60" y="216.1" width="3.1" height="9.90" fill="#1ba3c6"/>
<line x1="132.15" y1="209" x2="132.15" y2="223.20" stroke="#222" stroke-width="0.5"/>
<line x1="131.45" y1="209" x2="132.85" y2="209" stroke="#222" stroke-width="0.5"/>
<rect x="133.70" y="216.1" width="3.1" height="9.90" fill="#f39433"/>
<line x1="135.25" y1="208.3" x2="135.25" y2="223.90" stroke="#222" stroke-width="0.5"/>
<line x1="134.55" y1="208.3" x2="135.95" y2="208.3" stroke="#222" stroke-width="0.5"/>
<rect x="141.20" y="223" width="3.1" height="3.00" fill="#1ba3c6"/>
<line x1="142.75" y1="221" x2="142.75" y2="225.00" stroke="#222" stroke-width="0.5"/>
<line x1="142.05" y1="221" x2="143.45" y2="221" stroke="#222" stroke-width="0.5"/>
<rect x="144.30" y="220.7" width="3.1" height="5.30" fill="#f39433"/>
<line x1="145.85" y1="216.6" x2="145.85" y2="224.80" stroke="#222" stroke-width="0.5"/>
<line x1="145.15" y1="216.6" x2="146.55" y2="216.6" stroke="#222" stroke-width="0.5"/>
<rect x="151.80" y="225.3" width="3.1" height="0.70" fill="#1ba3c6"/>
<rect x="152.30" y="224.70" width="2.10" height="0.7" fill="#222" opacity="0.7"/>
<rect x="154.90" y="225.4" width="3.1" height="0.60" fill="#f39433"/>
<rect x="155.40" y="224.70" width="2.10" height="0.7" fill="#222" opacity="0.7"/>
<rect x="162.40" y="225.3" width="3.1" height="0.70" fill="#1ba3c6"/>
<rect x="162.90" y="224.70" width="2.10" height="0.7" fill="#222" opacity="0.7"/>
<rect x="165.50" y="225.4" width="3.1" height="0.60" fill="#f39433"/>
<rect x="166.00" y="224.70" width="2.10" height="0.7" fill="#222" opacity="0.7"/>
<rect x="173.00" y="225.4" width="3.1" height="0.60" fill="#1ba3c6"/>
<rect x="173.50" y="224.70" width="2.10" height="0.7" fill="#222" opacity="0.7"/>
<rect x="176.10" y="225.5" width="3.1" height="0.50" fill="#f39433"/>
<rect x="176.60" y="224.70" width="2.10" height="0.7" fill="#222" opacity="0.7"/>
<rect x="183.60" y="225.5" width="3.1" height="0.50" fill="#1ba3c6"/>
<rect x="184.10" y="224.70" width="2.10" height="0.7" fill="#222" opacity="0.7"/>
<rect x="186.70" y="225.5" width="3.1" height="0.50" fill="#f39433"/>
<rect x="187.20" y="224.70" width="2.10" height="0.7" fill="#222" opacity="0.7"/>
<text x="281.8" y="178.9" font-size="6.1" text-anchor="start" font-weight="bold" font-style="italic" fill="#000" textLength="25.2" lengthAdjust="spacingAndGlyphs" >PDGFRB</text>
<line x1="232.5" y1="177.9" x2="232.5" y2="226.0" stroke="#777" stroke-width="0.5"/>
<line x1="232.5" y1="226.0" x2="370" y2="226.0" stroke="#777" stroke-width="0.5"/>
<line x1="231.5" y1="177.90" x2="232.5" y2="177.90" stroke="#888" stroke-width="0.4"/>
<text x="230.2" y="179.45" font-size="4.4" text-anchor="end" font-weight="normal" font-style="normal" fill="#222" textLength="14" lengthAdjust="spacingAndGlyphs" stroke="#222" stroke-width="0.12">5.0E-05</text>
<line x1="231.5" y1="187.52" x2="232.5" y2="187.52" stroke="#888" stroke-width="0.4"/>
<text x="230.2" y="189.07" font-size="4.4" text-anchor="end" font-weight="normal" font-style="normal" fill="#222" textLength="14" lengthAdjust="spacingAndGlyphs" stroke="#222" stroke-width="0.12">4.0E-05</text>
<line x1="231.5" y1="197.14" x2="232.5" y2="197.14" stroke="#888" stroke-width="0.4"/>
<text x="230.2" y="198.69" font-size="4.4" text-anchor="end" font-weight="normal" font-style="normal" fill="#222" textLength="14" lengthAdjust="spacingAndGlyphs" stroke="#222" stroke-width="0.12">3.0E-05</text>
<line x1="231.5" y1="206.76" x2="232.5" y2="206.76" stroke="#888" stroke-width="0.4"/>
<text x="230.2" y="208.31" font-size="4.4" text-anchor="end" font-weight="normal" font-style="normal" fill="#222" textLength="14" lengthAdjust="spacingAndGlyphs" stroke="#222" stroke-width="0.12">2.0E-05</text>
<line x1="231.5" y1="216.38" x2="232.5" y2="216.38" stroke="#888" stroke-width="0.4"/>
<text x="230.2" y="217.93" font-size="4.4" text-anchor="end" font-weight="normal" font-style="normal" fill="#222" textLength="14" lengthAdjust="spacingAndGlyphs" stroke="#222" stroke-width="0.12">1.0E-05</text>
<line x1="231.5" y1="226.00" x2="232.5" y2="226.00" stroke="#888" stroke-width="0.4"/>
<text x="230.2" y="227.55" font-size="4.4" text-anchor="end" font-weight="normal" font-style="normal" fill="#222" textLength="14" lengthAdjust="spacingAndGlyphs" stroke="#222" stroke-width="0.12">0.0E+00</text>
<text x="237.85" y="230.8" font-size="4.0" text-anchor="middle" font-weight="normal" font-style="normal" fill="#222" stroke="#222" stroke-width="0.1">iPSC</text>
<text x="248.5" y="230.8" font-size="4.0" text-anchor="middle" font-weight="normal" font-style="normal" fill="#222" stroke="#222" stroke-width="0.1">d2</text>
<text x="259.15" y="230.8" font-size="4.0" text-anchor="middle" font-weight="normal" font-style="normal" fill="#222" stroke="#222" stroke-width="0.1">d4</text>
<text x="269.8" y="230.8" font-size="4.0" text-anchor="middle" font-weight="normal" font-style="normal" fill="#222" stroke="#222" stroke-width="0.1">d6</text>
<text x="280.45" y="230.8" font-size="4.0" text-anchor="middle" font-weight="normal" font-style="normal" fill="#222" stroke="#222" stroke-width="0.1">d8</text>
<text x="291.1" y="230.8" font-size="4.0" text-anchor="middle" font-weight="normal" font-style="normal" fill="#222" stroke="#222" stroke-width="0.1">d10</text>
<text x="301.75" y="230.8" font-size="4.0" text-anchor="middle" font-weight="normal" font-style="normal" fill="#222" stroke="#222" stroke-width="0.1">d12</text>
<text x="312.4" y="230.8" font-size="4.0" text-anchor="middle" font-weight="normal" font-style="normal" fill="#222" stroke="#222" stroke-width="0.1">d14</text>
<text x="323.05" y="230.8" font-size="4.0" text-anchor="middle" font-weight="normal" font-style="normal" fill="#222" stroke="#222" stroke-width="0.1">d16</text>
<text x="333.7" y="230.8" font-size="4.0" text-anchor="middle" font-weight="normal" font-style="normal" fill="#222" stroke="#222" stroke-width="0.1">d18</text>
<text x="344.35" y="230.8" font-size="4.0" text-anchor="middle" font-weight="normal" font-style="normal" fill="#222" stroke="#222" stroke-width="0.1">d20</text>
<text x="355.0" y="230.8" font-size="4.0" text-anchor="middle" font-weight="normal" font-style="normal" fill="#222" stroke="#222" stroke-width="0.1">d22</text>
<text x="365.65" y="230.8" font-size="4.0" text-anchor="middle" font-weight="normal" font-style="normal" fill="#222" stroke="#222" stroke-width="0.1">MC</text>
<rect x="234.95" y="223.8" width="3.1" height="2.20" fill="#787878"/>
<line x1="236.50" y1="221.1" x2="236.50" y2="223.8" stroke="#222" stroke-width="0.5"/>
<line x1="235.80" y1="221.1" x2="237.20" y2="221.1" stroke="#222" stroke-width="0.5"/>
<rect x="362.75" y="192.1" width="3.1" height="33.90" fill="#787878"/>
<line x1="364.30" y1="189.2" x2="364.30" y2="192.1" stroke="#222" stroke-width="0.5"/>
<line x1="363.60" y1="189.2" x2="365.00" y2="189.2" stroke="#222" stroke-width="0.5"/>
<rect x="245.40" y="221.5" width="3.1" height="4.50" fill="#1ba3c6"/>
<line x1="246.95" y1="219.7" x2="246.95" y2="223.30" stroke="#222" stroke-width="0.5"/>
<line x1="246.25" y1="219.7" x2="247.65" y2="219.7" stroke="#222" stroke-width="0.5"/>
<rect x="248.50" y="221.5" width="3.1" height="4.50" fill="#f39433"/>
<line x1="250.05" y1="219.7" x2="250.05" y2="223.30" stroke="#222" stroke-width="0.5"/>
<line x1="249.35" y1="219.7" x2="250.75" y2="219.7" stroke="#222" stroke-width="0.5"/>
<rect x="256.05" y="223.8" width="3.1" height="2.20" fill="#1ba3c6"/>
<line x1="257.60" y1="221.1" x2="257.60" y2="226.00" stroke="#222" stroke-width="0.5"/>
<line x1="256.90" y1="221.1" x2="258.30" y2="221.1" stroke="#222" stroke-width="0.5"/>
<rect x="259.15" y="224.3" width="3.1" height="1.70" fill="#f39433"/>
<line x1="260.70" y1="222" x2="260.70" y2="226.00" stroke="#222" stroke-width="0.5"/>
<line x1="260.00" y1="222" x2="261.40" y2="222" stroke="#222" stroke-width="0.5"/>
<rect x="266.70" y="225.3" width="3.1" height="0.70" fill="#1ba3c6"/>
<rect x="267.20" y="224.70" width="2.10" height="0.7" fill="#222" opacity="0.7"/>
<rect x="269.80" y="225.4" width="3.1" height="0.60" fill="#f39433"/>
<rect x="270.30" y="224.70" width="2.10" height="0.7" fill="#222" opacity="0.7"/>
<rect x="277.35" y="225.3" width="3.1" height="0.70" fill="#1ba3c6"/>
<rect x="277.85" y="224.70" width="2.10" height="0.7" fill="#222" opacity="0.7"/>
<rect x="280.45" y="225.4" width="3.1" height="0.60" fill="#f39433"/>
<rect x="280.95" y="224.70" width="2.10" height="0.7" fill="#222" opacity="0.7"/>
<rect x="288.00" y="225" width="3.1" height="1.00" fill="#1ba3c6"/>
<rect x="288.50" y="224.70" width="2.10" height="0.7" fill="#222" opacity="0.7"/>
<rect x="291.10" y="225.1" width="3.1" height="0.90" fill="#f39433"/>
<rect x="291.60" y="224.70" width="2.10" height="0.7" fill="#222" opacity="0.7"/>
<rect x="298.65" y="224.6" width="3.1" height="1.40" fill="#1ba3c6"/>
<rect x="299.15" y="224.70" width="2.10" height="0.7" fill="#222" opacity="0.7"/>
<line x1="300.20" y1="223" x2="300.20" y2="226.00" stroke="#222" stroke-width="0.5"/>
<line x1="299.50" y1="223" x2="300.90" y2="223" stroke="#222" stroke-width="0.5"/>
<rect x="301.75" y="225.1" width="3.1" height="0.90" fill="#f39433"/>
<rect x="302.25" y="224.70" width="2.10" height="0.7" fill="#222" opacity="0.7"/>
<rect x="309.30" y="224.6" width="3.1" height="1.40" fill="#1ba3c6"/>
<rect x="309.80" y="224.70" width="2.10" height="0.7" fill="#222" opacity="0.7"/>
<rect x="312.40" y="224.6" width="3.1" height="1.40" fill="#f39433"/>
<rect x="312.90" y="224.70" width="2.10" height="0.7" fill="#222" opacity="0.7"/>
<rect x="319.95" y="224.6" width="3.1" height="1.40" fill="#1ba3c6"/>
<rect x="320.45" y="224.70" width="2.10" height="0.7" fill="#222" opacity="0.7"/>
<rect x="323.05" y="224.6" width="3.1" height="1.40" fill="#f39433"/>
<rect x="323.55" y="224.70" width="2.10" height="0.7" fill="#222" opacity="0.7"/>
<rect x="330.60" y="225.1" width="3.1" height="0.90" fill="#1ba3c6"/>
<rect x="331.10" y="224.70" width="2.10" height="0.7" fill="#222" opacity="0.7"/>
<rect x="333.70" y="225.1" width="3.1" height="0.90" fill="#f39433"/>
<rect x="334.20" y="224.70" width="2.10" height="0.7" fill="#222" opacity="0.7"/>
<rect x="341.25" y="224.6" width="3.1" height="1.40" fill="#1ba3c6"/>
<rect x="341.75" y="224.70" width="2.10" height="0.7" fill="#222" opacity="0.7"/>
<rect x="344.35" y="224.8" width="3.1" height="1.20" fill="#f39433"/>
<rect x="344.85" y="224.70" width="2.10" height="0.7" fill="#222" opacity="0.7"/>
<rect x="351.90" y="225.0" width="3.1" height="1.00" fill="#1ba3c6"/>
<rect x="352.40" y="224.70" width="2.10" height="0.7" fill="#222" opacity="0.7"/>
<rect x="355.00" y="224.2" width="3.1" height="1.80" fill="#f39433"/>
<line x1="356.55" y1="222" x2="356.55" y2="226.00" stroke="#222" stroke-width="0.5"/>
<line x1="355.85" y1="222" x2="357.25" y2="222" stroke="#222" stroke-width="0.5"/>
<text x="113.9" y="245.8" font-size="6.1" text-anchor="start" font-weight="bold" font-style="italic" fill="#000" textLength="19.6" lengthAdjust="spacingAndGlyphs" >PDGFA</text>
<line x1="64.6" y1="245.1" x2="64.6" y2="292.9" stroke="#777" stroke-width="0.5"/>
<line x1="64.6" y1="292.9" x2="202" y2="292.9" stroke="#777" stroke-width="0.5"/>
<line x1="63.599999999999994" y1="245.10" x2="64.6" y2="245.10" stroke="#888" stroke-width="0.4"/>
<text x="62.3" y="246.65" font-size="4.4" text-anchor="end" font-weight="normal" font-style="normal" fill="#222" textLength="14" lengthAdjust="spacingAndGlyphs" stroke="#222" stroke-width="0.12">6.0E-05</text>
<line x1="63.599999999999994" y1="253.07" x2="64.6" y2="253.07" stroke="#888" stroke-width="0.4"/>
<text x="62.3" y="254.62" font-size="4.4" text-anchor="end" font-weight="normal" font-style="normal" fill="#222" textLength="14" lengthAdjust="spacingAndGlyphs" stroke="#222" stroke-width="0.12">5.0E-05</text>
<line x1="63.599999999999994" y1="261.03" x2="64.6" y2="261.03" stroke="#888" stroke-width="0.4"/>
<text x="62.3" y="262.58" font-size="4.4" text-anchor="end" font-weight="normal" font-style="normal" fill="#222" textLength="14" lengthAdjust="spacingAndGlyphs" stroke="#222" stroke-width="0.12">4.0E-05</text>
<line x1="63.599999999999994" y1="269.00" x2="64.6" y2="269.00" stroke="#888" stroke-width="0.4"/>
<text x="62.3" y="270.55" font-size="4.4" text-anchor="end" font-weight="normal" font-style="normal" fill="#222" textLength="14" lengthAdjust="spacingAndGlyphs" stroke="#222" stroke-width="0.12">3.0E-05</text>
<line x1="63.599999999999994" y1="276.97" x2="64.6" y2="276.97" stroke="#888" stroke-width="0.4"/>
<text x="62.3" y="278.52" font-size="4.4" text-anchor="end" font-weight="normal" font-style="normal" fill="#222" textLength="14" lengthAdjust="spacingAndGlyphs" stroke="#222" stroke-width="0.12">2.0E-05</text>
<line x1="63.599999999999994" y1="284.93" x2="64.6" y2="284.93" stroke="#888" stroke-width="0.4"/>
<text x="62.3" y="286.48" font-size="4.4" text-anchor="end" font-weight="normal" font-style="normal" fill="#222" textLength="14" lengthAdjust="spacingAndGlyphs" stroke="#222" stroke-width="0.12">1.0E-05</text>
<line x1="63.599999999999994" y1="292.90" x2="64.6" y2="292.90" stroke="#888" stroke-width="0.4"/>
<text x="62.3" y="294.45" font-size="4.4" text-anchor="end" font-weight="normal" font-style="normal" fill="#222" textLength="14" lengthAdjust="spacingAndGlyphs" stroke="#222" stroke-width="0.12">0.0E+00</text>
<text x="70.0" y="297.8" font-size="4.0" text-anchor="middle" font-weight="normal" font-style="normal" fill="#222" stroke="#222" stroke-width="0.1">iPSC</text>
<text x="80.62" y="297.8" font-size="4.0" text-anchor="middle" font-weight="normal" font-style="normal" fill="#222" stroke="#222" stroke-width="0.1">d2</text>
<text x="91.24" y="297.8" font-size="4.0" text-anchor="middle" font-weight="normal" font-style="normal" fill="#222" stroke="#222" stroke-width="0.1">d4</text>
<text x="101.86" y="297.8" font-size="4.0" text-anchor="middle" font-weight="normal" font-style="normal" fill="#222" stroke="#222" stroke-width="0.1">d6</text>
<text x="112.48" y="297.8" font-size="4.0" text-anchor="middle" font-weight="normal" font-style="normal" fill="#222" stroke="#222" stroke-width="0.1">d8</text>
<text x="123.1" y="297.8" font-size="4.0" text-anchor="middle" font-weight="normal" font-style="normal" fill="#222" stroke="#222" stroke-width="0.1">d10</text>
<text x="133.72" y="297.8" font-size="4.0" text-anchor="middle" font-weight="normal" font-style="normal" fill="#222" stroke="#222" stroke-width="0.1">d12</text>
<text x="144.34" y="297.8" font-size="4.0" text-anchor="middle" font-weight="normal" font-style="normal" fill="#222" stroke="#222" stroke-width="0.1">d14</text>
<text x="154.96" y="297.8" font-size="4.0" text-anchor="middle" font-weight="normal" font-style="normal" fill="#222" stroke="#222" stroke-width="0.1">d16</text>
<text x="165.58" y="297.8" font-size="4.0" text-anchor="middle" font-weight="normal" font-style="normal" fill="#222" stroke="#222" stroke-width="0.1">d18</text>
<text x="176.2" y="297.8" font-size="4.0" text-anchor="middle" font-weight="normal" font-style="normal" fill="#222" stroke="#222" stroke-width="0.1">d20</text>
<text x="186.82" y="297.8" font-size="4.0" text-anchor="middle" font-weight="normal" font-style="normal" fill="#222" stroke="#222" stroke-width="0.1">d22</text>
<text x="197.44" y="297.8" font-size="4.0" text-anchor="middle" font-weight="normal" font-style="normal" fill="#222" stroke="#222" stroke-width="0.1">MC</text>
<rect x="67.10" y="281" width="3.1" height="11.90" fill="#787878"/>
<line x1="68.65" y1="274.3" x2="68.65" y2="281" stroke="#222" stroke-width="0.5"/>
<line x1="67.95" y1="274.3" x2="69.35" y2="274.3" stroke="#222" stroke-width="0.5"/>
<rect x="194.54" y="287.4" width="3.1" height="5.50" fill="#787878"/>
<line x1="196.09" y1="286" x2="196.09" y2="287.4" stroke="#222" stroke-width="0.5"/>
<line x1="195.39" y1="286" x2="196.79" y2="286" stroke="#222" stroke-width="0.5"/>
<rect x="77.52" y="292.4" width="3.1" height="0.50" fill="#1ba3c6"/>
<rect x="78.02" y="291.60" width="2.10" height="0.7" fill="#222" opacity="0.7"/>
<rect x="80.62" y="292.5" width="3.1" height="0.40" fill="#f39433"/>
<rect x="81.12" y="291.60" width="2.10" height="0.7" fill="#222" opacity="0.7"/>
<rect x="88.14" y="292.1" width="3.1" height="0.80" fill="#1ba3c6"/>
<rect x="88.64" y="291.60" width="2.10" height="0.7" fill="#222" opacity="0.7"/>
<rect x="91.24" y="292.3" width="3.1" height="0.60" fill="#f39433"/>
<rect x="91.74" y="291.60" width="2.10" height="0.7" fill="#222" opacity="0.7"/>
<rect x="98.76" y="290.4" width="3.1" height="2.50" fill="#1ba3c6"/>
<rect x="101.86" y="291" width="3.1" height="1.90" fill="#f39433"/>
<line x1="103.41" y1="289" x2="103.41" y2="292.90" stroke="#222" stroke-width="0.5"/>
<line x1="102.71" y1="289" x2="104.11" y2="289" stroke="#222" stroke-width="0.5"/>
<rect x="109.38" y="279.7" width="3.1" height="13.20" fill="#1ba3c6"/>
<line x1="110.93" y1="271.3" x2="110.93" y2="288.10" stroke="#222" stroke-width="0.5"/>
<line x1="110.23" y1="271.3" x2="111.63" y2="271.3" stroke="#222" stroke-width="0.5"/>
<rect x="112.48" y="288.4" width="3.1" height="4.50" fill="#f39433"/>
<line x1="114.03" y1="287" x2="114.03" y2="289.80" stroke="#222" stroke-width="0.5"/>
<line x1="113.33" y1="287" x2="114.73" y2="287" stroke="#222" stroke-width="0.5"/>
<rect x="120.00" y="251.4" width="3.1" height="41.50" fill="#1ba3c6"/>
<line x1="121.55" y1="248.1" x2="121.55" y2="254.70" stroke="#222" stroke-width="0.5"/>
<line x1="120.85" y1="248.1" x2="122.25" y2="248.1" stroke="#222" stroke-width="0.5"/>
<rect x="123.10" y="277.8" width="3.1" height="15.10" fill="#f39433"/>
<line x1="124.65" y1="270.8" x2="124.65" y2="284.80" stroke="#222" stroke-width="0.5"/>
<line x1="123.95" y1="270.8" x2="125.35" y2="270.8" stroke="#222" stroke-width="0.5"/>
<rect x="130.62" y="284.1" width="3.1" height="8.80" fill="#1ba3c6"/>
<line x1="132.17" y1="282" x2="132.17" y2="286.20" stroke="#222" stroke-width="0.5"/>
<line x1="131.47" y1="282" x2="132.87" y2="282" stroke="#222" stroke-width="0.5"/>
<rect x="133.72" y="266.5" width="3.1" height="26.40" fill="#f39433"/>
<line x1="135.27" y1="260.2" x2="135.27" y2="272.80" stroke="#222" stroke-width="0.5"/>
<line x1="134.57" y1="260.2" x2="135.97" y2="260.2" stroke="#222" stroke-width="0.5"/>
<rect x="141.24" y="287.4" width="3.1" height="5.50" fill="#1ba3c6"/>
<line x1="142.79" y1="285" x2="142.79" y2="289.80" stroke="#222" stroke-width="0.5"/>
<line x1="142.09" y1="285" x2="143.49" y2="285" stroke="#222" stroke-width="0.5"/>
<rect x="144.34" y="284.1" width="3.1" height="8.80" fill="#f39433"/>
<line x1="145.89" y1="281.1" x2="145.89" y2="287.10" stroke="#222" stroke-width="0.5"/>
<line x1="145.19" y1="281.1" x2="146.59" y2="281.1" stroke="#222" stroke-width="0.5"/>
<rect x="151.86" y="282.9" width="3.1" height="10.00" fill="#1ba3c6"/>
<line x1="153.41" y1="279" x2="153.41" y2="286.80" stroke="#222" stroke-width="0.5"/>
<line x1="152.71" y1="279" x2="154.11" y2="279" stroke="#222" stroke-width="0.5"/>
<rect x="154.96" y="287.4" width="3.1" height="5.50" fill="#f39433"/>
<line x1="156.51" y1="284.1" x2="156.51" y2="290.70" stroke="#222" stroke-width="0.5"/>
<line x1="155.81" y1="284.1" x2="157.21" y2="284.1" stroke="#222" stroke-width="0.5"/>
<rect x="162.48" y="286.1" width="3.1" height="6.80" fill="#1ba3c6"/>
<line x1="164.03" y1="284" x2="164.03" y2="288.20" stroke="#222" stroke-width="0.5"/>
<line x1="163.33" y1="284" x2="164.73" y2="284" stroke="#222" stroke-width="0.5"/>
<rect x="165.58" y="286.6" width="3.1" height="6.30" fill="#f39433"/>
<line x1="167.13" y1="284" x2="167.13" y2="289.20" stroke="#222" stroke-width="0.5"/>
<line x1="166.43" y1="284" x2="167.83" y2="284" stroke="#222" stroke-width="0.5"/>
<rect x="173.10" y="281.6" width="3.1" height="11.30" fill="#1ba3c6"/>
<line x1="174.65" y1="277.8" x2="174.65" y2="285.40" stroke="#222" stroke-width="0.5"/>
<line x1="173.95" y1="277.8" x2="175.35" y2="277.8" stroke="#222" stroke-width="0.5"/>
<rect x="176.20" y="287.4" width="3.1" height="5.50" fill="#f39433"/>
<line x1="177.75" y1="283.4" x2="177.75" y2="291.40" stroke="#222" stroke-width="0.5"/>
<line x1="177.05" y1="283.4" x2="178.45" y2="283.4" stroke="#222" stroke-width="0.5"/>
<rect x="183.72" y="283.6" width="3.1" height="9.30" fill="#1ba3c6"/>
<line x1="185.27" y1="282" x2="185.27" y2="285.20" stroke="#222" stroke-width="0.5"/>
<line x1="184.57" y1="282" x2="185.97" y2="282" stroke="#222" stroke-width="0.5"/>
<rect x="186.82" y="279" width="3.1" height="13.90" fill="#f39433"/>
<line x1="188.37" y1="269" x2="188.37" y2="289.00" stroke="#222" stroke-width="0.5"/>
<line x1="187.67" y1="269" x2="189.07" y2="269" stroke="#222" stroke-width="0.5"/>
<text x="282.1" y="245.8" font-size="6.1" text-anchor="start" font-weight="bold" font-style="italic" fill="#000" textLength="20.4" lengthAdjust="spacingAndGlyphs" >PDGFB</text>
<line x1="231.7" y1="244.6" x2="231.7" y2="292.8" stroke="#777" stroke-width="0.5"/>
<line x1="231.7" y1="292.8" x2="370.5" y2="292.8" stroke="#777" stroke-width="0.5"/>
<line x1="230.7" y1="244.60" x2="231.7" y2="244.60" stroke="#888" stroke-width="0.4"/>
<text x="229.39999999999998" y="246.15" font-size="4.4" text-anchor="end" font-weight="normal" font-style="normal" fill="#222" textLength="14" lengthAdjust="spacingAndGlyphs" stroke="#222" stroke-width="0.12">1.40E-05</text>
<line x1="230.7" y1="251.49" x2="231.7" y2="251.49" stroke="#888" stroke-width="0.4"/>
<text x="229.39999999999998" y="253.04" font-size="4.4" text-anchor="end" font-weight="normal" font-style="normal" fill="#222" textLength="14" lengthAdjust="spacingAndGlyphs" stroke="#222" stroke-width="0.12">1.20E-05</text>
<line x1="230.7" y1="258.37" x2="231.7" y2="258.37" stroke="#888" stroke-width="0.4"/>
<text x="229.39999999999998" y="259.92" font-size="4.4" text-anchor="end" font-weight="normal" font-style="normal" fill="#222" textLength="14" lengthAdjust="spacingAndGlyphs" stroke="#222" stroke-width="0.12">1.00E-05</text>
<line x1="230.7" y1="265.26" x2="231.7" y2="265.26" stroke="#888" stroke-width="0.4"/>
<text x="229.39999999999998" y="266.81" font-size="4.4" text-anchor="end" font-weight="normal" font-style="normal" fill="#222" textLength="14" lengthAdjust="spacingAndGlyphs" stroke="#222" stroke-width="0.12">8.00E-06</text>
<line x1="230.7" y1="272.14" x2="231.7" y2="272.14" stroke="#888" stroke-width="0.4"/>
<text x="229.39999999999998" y="273.69" font-size="4.4" text-anchor="end" font-weight="normal" font-style="normal" fill="#222" textLength="14" lengthAdjust="spacingAndGlyphs" stroke="#222" stroke-width="0.12">6.00E-06</text>
<line x1="230.7" y1="279.03" x2="231.7" y2="279.03" stroke="#888" stroke-width="0.4"/>
<text x="229.39999999999998" y="280.58" font-size="4.4" text-anchor="end" font-weight="normal" font-style="normal" fill="#222" textLength="14" lengthAdjust="spacingAndGlyphs" stroke="#222" stroke-width="0.12">4.00E-06</text>
<line x1="230.7" y1="285.91" x2="231.7" y2="285.91" stroke="#888" stroke-width="0.4"/>
<text x="229.39999999999998" y="287.46" font-size="4.4" text-anchor="end" font-weight="normal" font-style="normal" fill="#222" textLength="14" lengthAdjust="spacingAndGlyphs" stroke="#222" stroke-width="0.12">2.00E-06</text>
<line x1="230.7" y1="292.80" x2="231.7" y2="292.80" stroke="#888" stroke-width="0.4"/>
<text x="229.39999999999998" y="294.35" font-size="4.4" text-anchor="end" font-weight="normal" font-style="normal" fill="#222" textLength="14" lengthAdjust="spacingAndGlyphs" stroke="#222" stroke-width="0.12">0.00E+00</text>
<text x="237.85" y="297.8" font-size="4.0" text-anchor="middle" font-weight="normal" font-style="normal" fill="#222" stroke="#222" stroke-width="0.1">iPSC</text>
<text x="248.5" y="297.8" font-size="4.0" text-anchor="middle" font-weight="normal" font-style="normal" fill="#222" stroke="#222" stroke-width="0.1">d2</text>
<text x="259.15" y="297.8" font-size="4.0" text-anchor="middle" font-weight="normal" font-style="normal" fill="#222" stroke="#222" stroke-width="0.1">d4</text>
<text x="269.8" y="297.8" font-size="4.0" text-anchor="middle" font-weight="normal" font-style="normal" fill="#222" stroke="#222" stroke-width="0.1">d6</text>
<text x="280.45" y="297.8" font-size="4.0" text-anchor="middle" font-weight="normal" font-style="normal" fill="#222" stroke="#222" stroke-width="0.1">d8</text>
<text x="291.1" y="297.8" font-size="4.0" text-anchor="middle" font-weight="normal" font-style="normal" fill="#222" stroke="#222" stroke-width="0.1">d10</text>
<text x="301.75" y="297.8" font-size="4.0" text-anchor="middle" font-weight="normal" font-style="normal" fill="#222" stroke="#222" stroke-width="0.1">d12</text>
<text x="312.4" y="297.8" font-size="4.0" text-anchor="middle" font-weight="normal" font-style="normal" fill="#222" stroke="#222" stroke-width="0.1">d14</text>
<text x="323.05" y="297.8" font-size="4.0" text-anchor="middle" font-weight="normal" font-style="normal" fill="#222" stroke="#222" stroke-width="0.1">d16</text>
<text x="333.7" y="297.8" font-size="4.0" text-anchor="middle" font-weight="normal" font-style="normal" fill="#222" stroke="#222" stroke-width="0.1">d18</text>
<text x="344.35" y="297.8" font-size="4.0" text-anchor="middle" font-weight="normal" font-style="normal" fill="#222" stroke="#222" stroke-width="0.1">d20</text>
<text x="355.0" y="297.8" font-size="4.0" text-anchor="middle" font-weight="normal" font-style="normal" fill="#222" stroke="#222" stroke-width="0.1">d22</text>
<text x="365.65" y="297.8" font-size="4.0" text-anchor="middle" font-weight="normal" font-style="normal" fill="#222" stroke="#222" stroke-width="0.1">MC</text>
<rect x="234.95" y="283.2" width="3.1" height="9.60" fill="#787878"/>
<line x1="236.50" y1="276.3" x2="236.50" y2="283.2" stroke="#222" stroke-width="0.5"/>
<line x1="235.80" y1="276.3" x2="237.20" y2="276.3" stroke="#222" stroke-width="0.5"/>
<rect x="362.75" y="292.2" width="3.1" height="0.60" fill="#787878"/>
<rect x="245.40" y="290.2" width="3.1" height="2.60" fill="#1ba3c6"/>
<rect x="248.50" y="290.2" width="3.1" height="2.60" fill="#f39433"/>
<rect x="256.05" y="287.5" width="3.1" height="5.30" fill="#1ba3c6"/>
<line x1="257.60" y1="285.5" x2="257.60" y2="289.50" stroke="#222" stroke-width="0.5"/>
<line x1="256.90" y1="285.5" x2="258.30" y2="285.5" stroke="#222" stroke-width="0.5"/>
<rect x="259.15" y="289.6" width="3.1" height="3.20" fill="#f39433"/>
<line x1="260.70" y1="287.5" x2="260.70" y2="291.70" stroke="#222" stroke-width="0.5"/>
<line x1="260.00" y1="287.5" x2="261.40" y2="287.5" stroke="#222" stroke-width="0.5"/>
<rect x="266.70" y="291.7" width="3.1" height="1.10" fill="#1ba3c6"/>
<rect x="267.20" y="291.50" width="2.10" height="0.7" fill="#222" opacity="0.7"/>
<rect x="269.80" y="291" width="3.1" height="1.80" fill="#f39433"/>
<line x1="271.35" y1="290" x2="271.35" y2="292.00" stroke="#222" stroke-width="0.5"/>
<line x1="270.65" y1="290" x2="272.05" y2="290" stroke="#222" stroke-width="0.5"/>
<rect x="277.35" y="285.3" width="3.1" height="7.50" fill="#1ba3c6"/>
<line x1="278.90" y1="282.5" x2="278.90" y2="288.10" stroke="#222" stroke-width="0.5"/>
<line x1="278.20" y1="282.5" x2="279.60" y2="282.5" stroke="#222" stroke-width="0.5"/>
<rect x="280.45" y="290.2" width="3.1" height="2.60" fill="#f39433"/>
<line x1="282.00" y1="289" x2="282.00" y2="291.40" stroke="#222" stroke-width="0.5"/>
<line x1="281.30" y1="289" x2="282.70" y2="289" stroke="#222" stroke-width="0.5"/>
<rect x="288.00" y="260.7" width="3.1" height="32.10" fill="#1ba3c6"/>
<line x1="289.55" y1="253.2" x2="289.55" y2="268.20" stroke="#222" stroke-width="0.5"/>
<line x1="288.85" y1="253.2" x2="290.25" y2="253.2" stroke="#222" stroke-width="0.5"/>
<rect x="291.10" y="282.5" width="3.1" height="10.30" fill="#f39433"/>
<line x1="292.65" y1="278.9" x2="292.65" y2="286.10" stroke="#222" stroke-width="0.5"/>
<line x1="291.95" y1="278.9" x2="293.35" y2="278.9" stroke="#222" stroke-width="0.5"/>
<rect x="298.65" y="263.8" width="3.1" height="29.00" fill="#1ba3c6"/>
<line x1="300.20" y1="258.8" x2="300.20" y2="268.80" stroke="#222" stroke-width="0.5"/>
<line x1="299.50" y1="258.8" x2="300.90" y2="258.8" stroke="#222" stroke-width="0.5"/>
<rect x="301.75" y="262.2" width="3.1" height="30.60" fill="#f39433"/>
<line x1="303.30" y1="252" x2="303.30" y2="272.40" stroke="#222" stroke-width="0.5"/>
<line x1="302.60" y1="252" x2="304.00" y2="252" stroke="#222" stroke-width="0.5"/>
<rect x="309.30" y="270.1" width="3.1" height="22.70" fill="#1ba3c6"/>
<line x1="310.85" y1="265.6" x2="310.85" y2="274.60" stroke="#222" stroke-width="0.5"/>
<line x1="310.15" y1="265.6" x2="311.55" y2="265.6" stroke="#222" stroke-width="0.5"/>
<rect x="312.40" y="265.6" width="3.1" height="27.20" fill="#f39433"/>
<line x1="313.95" y1="257" x2="313.95" y2="274.20" stroke="#222" stroke-width="0.5"/>
<line x1="313.25" y1="257" x2="314.65" y2="257" stroke="#222" stroke-width="0.5"/>
<rect x="319.95" y="273.1" width="3.1" height="19.70" fill="#1ba3c6"/>
<line x1="321.50" y1="265.2" x2="321.50" y2="281.00" stroke="#222" stroke-width="0.5"/>
<line x1="320.80" y1="265.2" x2="322.20" y2="265.2" stroke="#222" stroke-width="0.5"/>
<rect x="323.05" y="275.8" width="3.1" height="17.00" fill="#f39433"/>
<line x1="324.60" y1="273.5" x2="324.60" y2="278.10" stroke="#222" stroke-width="0.5"/>
<line x1="323.90" y1="273.5" x2="325.30" y2="273.5" stroke="#222" stroke-width="0.5"/>
<rect x="330.60" y="277.6" width="3.1" height="15.20" fill="#1ba3c6"/>
<line x1="332.15" y1="275.4" x2="332.15" y2="279.80" stroke="#222" stroke-width="0.5"/>
<line x1="331.45" y1="275.4" x2="332.85" y2="275.4" stroke="#222" stroke-width="0.5"/>
<rect x="333.70" y="275.8" width="3.1" height="17.00" fill="#f39433"/>
<line x1="335.25" y1="271.3" x2="335.25" y2="280.30" stroke="#222" stroke-width="0.5"/>
<line x1="334.55" y1="271.3" x2="335.95" y2="271.3" stroke="#222" stroke-width="0.5"/>
<rect x="341.25" y="275.8" width="3.1" height="17.00" fill="#1ba3c6"/>
<line x1="342.80" y1="268.6" x2="342.80" y2="283.00" stroke="#222" stroke-width="0.5"/>
<line x1="342.10" y1="268.6" x2="343.50" y2="268.6" stroke="#222" stroke-width="0.5"/>
<rect x="344.35" y="282.2" width="3.1" height="10.60" fill="#f39433"/>
<line x1="345.90" y1="276.5" x2="345.90" y2="287.90" stroke="#222" stroke-width="0.5"/>
<line x1="345.20" y1="276.5" x2="346.60" y2="276.5" stroke="#222" stroke-width="0.5"/>
<rect x="351.90" y="279.2" width="3.1" height="13.60" fill="#1ba3c6"/>
<line x1="353.45" y1="278" x2="353.45" y2="280.40" stroke="#222" stroke-width="0.5"/>
<line x1="352.75" y1="278" x2="354.15" y2="278" stroke="#222" stroke-width="0.5"/>
<rect x="355.00" y="270.1" width="3.1" height="22.70" fill="#f39433"/>
<line x1="356.55" y1="257" x2="356.55" y2="283.20" stroke="#222" stroke-width="0.5"/>
<line x1="355.85" y1="257" x2="357.25" y2="257" stroke="#222" stroke-width="0.5"/>
<text x="112.1" y="313.3" font-size="6.1" text-anchor="start" font-weight="bold" font-style="italic" fill="#000" textLength="20.9" lengthAdjust="spacingAndGlyphs" >PDGFC</text>
<line x1="63.2" y1="312.5" x2="63.2" y2="359.9" stroke="#777" stroke-width="0.5"/>
<line x1="63.2" y1="359.9" x2="201" y2="359.9" stroke="#777" stroke-width="0.5"/>
<line x1="62.2" y1="312.50" x2="63.2" y2="312.50" stroke="#888" stroke-width="0.4"/>
<text x="60.900000000000006" y="314.05" font-size="4.4" text-anchor="end" font-weight="normal" font-style="normal" fill="#222" textLength="14" lengthAdjust="spacingAndGlyphs" stroke="#222" stroke-width="0.12">1.40E-05</text>
<line x1="62.2" y1="319.27" x2="63.2" y2="319.27" stroke="#888" stroke-width="0.4"/>
<text x="60.900000000000006" y="320.82" font-size="4.4" text-anchor="end" font-weight="normal" font-style="normal" fill="#222" textLength="14" lengthAdjust="spacingAndGlyphs" stroke="#222" stroke-width="0.12">1.20E-05</text>
<line x1="62.2" y1="326.04" x2="63.2" y2="326.04" stroke="#888" stroke-width="0.4"/>
<text x="60.900000000000006" y="327.59" font-size="4.4" text-anchor="end" font-weight="normal" font-style="normal" fill="#222" textLength="14" lengthAdjust="spacingAndGlyphs" stroke="#222" stroke-width="0.12">1.00E-05</text>
<line x1="62.2" y1="332.81" x2="63.2" y2="332.81" stroke="#888" stroke-width="0.4"/>
<text x="60.900000000000006" y="334.36" font-size="4.4" text-anchor="end" font-weight="normal" font-style="normal" fill="#222" textLength="14" lengthAdjust="spacingAndGlyphs" stroke="#222" stroke-width="0.12">8.0E-06</text>
<line x1="62.2" y1="339.59" x2="63.2" y2="339.59" stroke="#888" stroke-width="0.4"/>
<text x="60.900000000000006" y="341.14" font-size="4.4" text-anchor="end" font-weight="normal" font-style="normal" fill="#222" textLength="14" lengthAdjust="spacingAndGlyphs" stroke="#222" stroke-width="0.12">6.0E-06</text>
<line x1="62.2" y1="346.36" x2="63.2" y2="346.36" stroke="#888" stroke-width="0.4"/>
<text x="60.900000000000006" y="347.91" font-size="4.4" text-anchor="end" font-weight="normal" font-style="normal" fill="#222" textLength="14" lengthAdjust="spacingAndGlyphs" stroke="#222" stroke-width="0.12">4.0E-06</text>
<line x1="62.2" y1="353.13" x2="63.2" y2="353.13" stroke="#888" stroke-width="0.4"/>
<text x="60.900000000000006" y="354.68" font-size="4.4" text-anchor="end" font-weight="normal" font-style="normal" fill="#222" textLength="14" lengthAdjust="spacingAndGlyphs" stroke="#222" stroke-width="0.12">2.0E-06</text>
<line x1="62.2" y1="359.90" x2="63.2" y2="359.90" stroke="#888" stroke-width="0.4"/>
<text x="60.900000000000006" y="361.45" font-size="4.4" text-anchor="end" font-weight="normal" font-style="normal" fill="#222" textLength="14" lengthAdjust="spacingAndGlyphs" stroke="#222" stroke-width="0.12">0.0E+00</text>
<text x="68.67" y="365.4" font-size="4.0" text-anchor="middle" font-weight="normal" font-style="normal" fill="#222" stroke="#222" stroke-width="0.1">iPSC</text>
<text x="79.3" y="365.4" font-size="4.0" text-anchor="middle" font-weight="normal" font-style="normal" fill="#222" stroke="#222" stroke-width="0.1">d2</text>
<text x="89.93" y="365.4" font-size="4.0" text-anchor="middle" font-weight="normal" font-style="normal" fill="#222" stroke="#222" stroke-width="0.1">d4</text>
<text x="100.56" y="365.4" font-size="4.0" text-anchor="middle" font-weight="normal" font-style="normal" fill="#222" stroke="#222" stroke-width="0.1">d6</text>
<text x="111.19" y="365.4" font-size="4.0" text-anchor="middle" font-weight="normal" font-style="normal" fill="#222" stroke="#222" stroke-width="0.1">d8</text>
<text x="121.82" y="365.4" font-size="4.0" text-anchor="middle" font-weight="normal" font-style="normal" fill="#222" stroke="#222" stroke-width="0.1">d10</text>
<text x="132.45" y="365.4" font-size="4.0" text-anchor="middle" font-weight="normal" font-style="normal" fill="#222" stroke="#222" stroke-width="0.1">d12</text>
<text x="143.08" y="365.4" font-size="4.0" text-anchor="middle" font-weight="normal" font-style="normal" fill="#222" stroke="#222" stroke-width="0.1">d14</text>
<text x="153.71" y="365.4" font-size="4.0" text-anchor="middle" font-weight="normal" font-style="normal" fill="#222" stroke="#222" stroke-width="0.1">d16</text>
<text x="164.34" y="365.4" font-size="4.0" text-anchor="middle" font-weight="normal" font-style="normal" fill="#222" stroke="#222" stroke-width="0.1">d18</text>
<text x="174.97" y="365.4" font-size="4.0" text-anchor="middle" font-weight="normal" font-style="normal" fill="#222" stroke="#222" stroke-width="0.1">d20</text>
<text x="185.6" y="365.4" font-size="4.0" text-anchor="middle" font-weight="normal" font-style="normal" fill="#222" stroke="#222" stroke-width="0.1">d22</text>
<text x="196.23" y="365.4" font-size="4.0" text-anchor="middle" font-weight="normal" font-style="normal" fill="#222" stroke="#222" stroke-width="0.1">MC</text>
<rect x="65.77" y="358.4" width="3.1" height="1.50" fill="#787878"/>
<rect x="191.20" y="347.9" width="3.1" height="12.00" fill="#787878"/>
<rect x="76.20" y="358" width="3.1" height="1.90" fill="#1ba3c6"/>
<rect x="79.30" y="357.8" width="3.1" height="2.10" fill="#f39433"/>
<rect x="86.83" y="357" width="3.1" height="2.90" fill="#1ba3c6"/>
<line x1="88.38" y1="356" x2="88.38" y2="358.00" stroke="#222" stroke-width="0.5"/>
<line x1="87.68" y1="356" x2="89.08" y2="356" stroke="#222" stroke-width="0.5"/>
<rect x="89.93" y="357.4" width="3.1" height="2.50" fill="#f39433"/>
<line x1="91.48" y1="356.4" x2="91.48" y2="358.40" stroke="#222" stroke-width="0.5"/>
<line x1="90.78" y1="356.4" x2="92.18" y2="356.4" stroke="#222" stroke-width="0.5"/>
<rect x="97.46" y="354.4" width="3.1" height="5.50" fill="#1ba3c6"/>
<line x1="99.01" y1="352.4" x2="99.01" y2="356.40" stroke="#222" stroke-width="0.5"/>
<line x1="98.31" y1="352.4" x2="99.71" y2="352.4" stroke="#222" stroke-width="0.5"/>
<rect x="100.56" y="355.8" width="3.1" height="4.10" fill="#f39433"/>
<line x1="102.11" y1="353.4" x2="102.11" y2="358.20" stroke="#222" stroke-width="0.5"/>
<line x1="101.41" y1="353.4" x2="102.81" y2="353.4" stroke="#222" stroke-width="0.5"/>
<rect x="108.09" y="347.8" width="3.1" height="12.10" fill="#1ba3c6"/>
<line x1="109.64" y1="345.3" x2="109.64" y2="350.30" stroke="#222" stroke-width="0.5"/>
<line x1="108.94" y1="345.3" x2="110.34" y2="345.3" stroke="#222" stroke-width="0.5"/>
<rect x="111.19" y="351.8" width="3.1" height="8.10" fill="#f39433"/>
<line x1="112.74" y1="349" x2="112.74" y2="354.60" stroke="#222" stroke-width="0.5"/>
<line x1="112.04" y1="349" x2="113.44" y2="349" stroke="#222" stroke-width="0.5"/>
<rect x="118.72" y="327.7" width="3.1" height="32.20" fill="#1ba3c6"/>
<line x1="120.27" y1="323.2" x2="120.27" y2="332.20" stroke="#222" stroke-width="0.5"/>
<line x1="119.57" y1="323.2" x2="120.97" y2="323.2" stroke="#222" stroke-width="0.5"/>
<rect x="121.82" y="343.3" width="3.1" height="16.60" fill="#f39433"/>
<line x1="123.37" y1="338.3" x2="123.37" y2="348.30" stroke="#222" stroke-width="0.5"/>
<line x1="122.67" y1="338.3" x2="124.07" y2="338.3" stroke="#222" stroke-width="0.5"/>
<rect x="129.35" y="330.2" width="3.1" height="29.70" fill="#1ba3c6"/>
<line x1="130.90" y1="325.2" x2="130.90" y2="335.20" stroke="#222" stroke-width="0.5"/>
<line x1="130.20" y1="325.2" x2="131.60" y2="325.2" stroke="#222" stroke-width="0.5"/>
<rect x="132.45" y="325.2" width="3.1" height="34.70" fill="#f39433"/>
<line x1="134.00" y1="318.1" x2="134.00" y2="332.30" stroke="#222" stroke-width="0.5"/>
<line x1="133.30" y1="318.1" x2="134.70" y2="318.1" stroke="#222" stroke-width="0.5"/>
<rect x="139.98" y="341.6" width="3.1" height="18.30" fill="#1ba3c6"/>
<line x1="141.53" y1="339" x2="141.53" y2="344.20" stroke="#222" stroke-width="0.5"/>
<line x1="140.83" y1="339" x2="142.23" y2="339" stroke="#222" stroke-width="0.5"/>
<rect x="143.08" y="336" width="3.1" height="23.90" fill="#f39433"/>
<line x1="144.63" y1="333.2" x2="144.63" y2="338.80" stroke="#222" stroke-width="0.5"/>
<line x1="143.93" y1="333.2" x2="145.33" y2="333.2" stroke="#222" stroke-width="0.5"/>
<rect x="150.61" y="340.3" width="3.1" height="19.60" fill="#1ba3c6"/>
<line x1="152.16" y1="335.3" x2="152.16" y2="345.30" stroke="#222" stroke-width="0.5"/>
<line x1="151.46" y1="335.3" x2="152.86" y2="335.3" stroke="#222" stroke-width="0.5"/>
<rect x="153.71" y="341.6" width="3.1" height="18.30" fill="#f39433"/>
<line x1="155.26" y1="340" x2="155.26" y2="343.20" stroke="#222" stroke-width="0.5"/>
<line x1="154.56" y1="340" x2="155.96" y2="340" stroke="#222" stroke-width="0.5"/>
<rect x="161.24" y="344.8" width="3.1" height="15.10" fill="#1ba3c6"/>
<line x1="162.79" y1="342.8" x2="162.79" y2="346.80" stroke="#222" stroke-width="0.5"/>
<line x1="162.09" y1="342.8" x2="163.49" y2="342.8" stroke="#222" stroke-width="0.5"/>
<rect x="164.34" y="345.3" width="3.1" height="14.60" fill="#f39433"/>
<line x1="165.89" y1="341" x2="165.89" y2="349.60" stroke="#222" stroke-width="0.5"/>
<line x1="165.19" y1="341" x2="166.59" y2="341" stroke="#222" stroke-width="0.5"/>
<rect x="171.87" y="344.8" width="3.1" height="15.10" fill="#1ba3c6"/>
<line x1="173.42" y1="339.8" x2="173.42" y2="349.80" stroke="#222" stroke-width="0.5"/>
<line x1="172.72" y1="339.8" x2="174.12" y2="339.8" stroke="#222" stroke-width="0.5"/>
<rect x="174.97" y="349.9" width="3.1" height="10.00" fill="#f39433"/>
<line x1="176.52" y1="346.6" x2="176.52" y2="353.20" stroke="#222" stroke-width="0.5"/>
<line x1="175.82" y1="346.6" x2="177.22" y2="346.6" stroke="#222" stroke-width="0.5"/>
<rect x="182.50" y="346.1" width="3.1" height="13.80" fill="#1ba3c6"/>
<line x1="184.05" y1="345" x2="184.05" y2="347.20" stroke="#222" stroke-width="0.5"/>
<line x1="183.35" y1="345" x2="184.75" y2="345" stroke="#222" stroke-width="0.5"/>
<rect x="185.60" y="337.8" width="3.1" height="22.10" fill="#f39433"/>
<line x1="187.15" y1="325.2" x2="187.15" y2="350.40" stroke="#222" stroke-width="0.5"/>
<line x1="186.45" y1="325.2" x2="187.85" y2="325.2" stroke="#222" stroke-width="0.5"/>
<text x="281.8" y="313.3" font-size="6.1" text-anchor="start" font-weight="bold" font-style="italic" fill="#000" textLength="20.7" lengthAdjust="spacingAndGlyphs" >PDGFD</text>
<line x1="232.1" y1="312.8" x2="232.1" y2="360.5" stroke="#777" stroke-width="0.5"/>
<line x1="232.1" y1="360.5" x2="370.5" y2="360.5" stroke="#777" stroke-width="0.5"/>
<line x1="231.1" y1="312.80" x2="232.1" y2="312.80" stroke="#888" stroke-width="0.4"/>
<text x="229.79999999999998" y="314.35" font-size="4.4" text-anchor="end" font-weight="normal" font-style="normal" fill="#222" textLength="14" lengthAdjust="spacingAndGlyphs" stroke="#222" stroke-width="0.12">2.5E-06</text>
<line x1="231.1" y1="322.34" x2="232.1" y2="322.34" stroke="#888" stroke-width="0.4"/>
<text x="229.79999999999998" y="323.89" font-size="4.4" text-anchor="end" font-weight="normal" font-style="normal" fill="#222" textLength="14" lengthAdjust="spacingAndGlyphs" stroke="#222" stroke-width="0.12">2.0E-06</text>
<line x1="231.1" y1="331.88" x2="232.1" y2="331.88" stroke="#888" stroke-width="0.4"/>
<text x="229.79999999999998" y="333.43" font-size="4.4" text-anchor="end" font-weight="normal" font-style="normal" fill="#222" textLength="14" lengthAdjust="spacingAndGlyphs" stroke="#222" stroke-width="0.12">1.5E-06</text>
<line x1="231.1" y1="341.42" x2="232.1" y2="341.42" stroke="#888" stroke-width="0.4"/>
<text x="229.79999999999998" y="342.97" font-size="4.4" text-anchor="end" font-weight="normal" font-style="normal" fill="#222" textLength="14" lengthAdjust="spacingAndGlyphs" stroke="#222" stroke-width="0.12">1.0E-06</text>
<line x1="231.1" y1="350.96" x2="232.1" y2="350.96" stroke="#888" stroke-width="0.4"/>
<text x="229.79999999999998" y="352.51" font-size="4.4" text-anchor="end" font-weight="normal" font-style="normal" fill="#222" textLength="14" lengthAdjust="spacingAndGlyphs" stroke="#222" stroke-width="0.12">5.0E-07</text>
<line x1="231.1" y1="360.50" x2="232.1" y2="360.50" stroke="#888" stroke-width="0.4"/>
<text x="229.79999999999998" y="362.05" font-size="4.4" text-anchor="end" font-weight="normal" font-style="normal" fill="#222" textLength="14" lengthAdjust="spacingAndGlyphs" stroke="#222" stroke-width="0.12">0.0E+00</text>
<text x="237.85" y="365.4" font-size="4.0" text-anchor="middle" font-weight="normal" font-style="normal" fill="#222" stroke="#222" stroke-width="0.1">iPSC</text>
<text x="248.5" y="365.4" font-size="4.0" text-anchor="middle" font-weight="normal" font-style="normal" fill="#222" stroke="#222" stroke-width="0.1">d2</text>
<text x="259.15" y="365.4" font-size="4.0" text-anchor="middle" font-weight="normal" font-style="normal" fill="#222" stroke="#222" stroke-width="0.1">d4</text>
<text x="269.8" y="365.4" font-size="4.0" text-anchor="middle" font-weight="normal" font-style="normal" fill="#222" stroke="#222" stroke-width="0.1">d6</text>
<text x="280.45" y="365.4" font-size="4.0" text-anchor="middle" font-weight="normal" font-style="normal" fill="#222" stroke="#222" stroke-width="0.1">d8</text>
<text x="291.1" y="365.4" font-size="4.0" text-anchor="middle" font-weight="normal" font-style="normal" fill="#222" stroke="#222" stroke-width="0.1">d10</text>
<text x="301.75" y="365.4" font-size="4.0" text-anchor="middle" font-weight="normal" font-style="normal" fill="#222" stroke="#222" stroke-width="0.1">d12</text>
<text x="312.4" y="365.4" font-size="4.0" text-anchor="middle" font-weight="normal" font-style="normal" fill="#222" stroke="#222" stroke-width="0.1">d14</text>
<text x="323.05" y="365.4" font-size="4.0" text-anchor="middle" font-weight="normal" font-style="normal" fill="#222" stroke="#222" stroke-width="0.1">d16</text>
<text x="333.7" y="365.4" font-size="4.0" text-anchor="middle" font-weight="normal" font-style="normal" fill="#222" stroke="#222" stroke-width="0.1">d18</text>
<text x="344.35" y="365.4" font-size="4.0" text-anchor="middle" font-weight="normal" font-style="normal" fill="#222" stroke="#222" stroke-width="0.1">d20</text>
<text x="355.0" y="365.4" font-size="4.0" text-anchor="middle" font-weight="normal" font-style="normal" fill="#222" stroke="#222" stroke-width="0.1">d22</text>
<text x="365.65" y="365.4" font-size="4.0" text-anchor="middle" font-weight="normal" font-style="normal" fill="#222" stroke="#222" stroke-width="0.1">MC</text>
<rect x="234.95" y="354.6" width="3.1" height="5.90" fill="#787878"/>
<line x1="236.50" y1="351.4" x2="236.50" y2="354.6" stroke="#222" stroke-width="0.5"/>
<line x1="235.80" y1="351.4" x2="237.20" y2="351.4" stroke="#222" stroke-width="0.5"/>
<rect x="362.75" y="359.8" width="3.1" height="0.70" fill="#787878"/>
<rect x="245.40" y="356.1" width="3.1" height="4.40" fill="#1ba3c6"/>
<line x1="246.95" y1="355" x2="246.95" y2="357.20" stroke="#222" stroke-width="0.5"/>
<line x1="246.25" y1="355" x2="247.65" y2="355" stroke="#222" stroke-width="0.5"/>
<rect x="248.50" y="356.1" width="3.1" height="4.40" fill="#f39433"/>
<line x1="250.05" y1="355" x2="250.05" y2="357.20" stroke="#222" stroke-width="0.5"/>
<line x1="249.35" y1="355" x2="250.75" y2="355" stroke="#222" stroke-width="0.5"/>
<rect x="256.05" y="356.7" width="3.1" height="3.80" fill="#1ba3c6"/>
<line x1="257.60" y1="354" x2="257.60" y2="359.40" stroke="#222" stroke-width="0.5"/>
<line x1="256.90" y1="354" x2="258.30" y2="354" stroke="#222" stroke-width="0.5"/>
<rect x="259.15" y="358.2" width="3.1" height="2.30" fill="#f39433"/>
<line x1="260.70" y1="355.2" x2="260.70" y2="360.50" stroke="#222" stroke-width="0.5"/>
<line x1="260.00" y1="355.2" x2="261.40" y2="355.2" stroke="#222" stroke-width="0.5"/>
<rect x="266.70" y="355.2" width="3.1" height="5.30" fill="#1ba3c6"/>
<line x1="268.25" y1="351.4" x2="268.25" y2="359.00" stroke="#222" stroke-width="0.5"/>
<line x1="267.55" y1="351.4" x2="268.95" y2="351.4" stroke="#222" stroke-width="0.5"/>
<rect x="269.80" y="351.8" width="3.1" height="8.70" fill="#f39433"/>
<line x1="271.35" y1="342.4" x2="271.35" y2="360.50" stroke="#222" stroke-width="0.5"/>
<line x1="270.65" y1="342.4" x2="272.05" y2="342.4" stroke="#222" stroke-width="0.5"/>
<rect x="277.35" y="356.1" width="3.1" height="4.40" fill="#1ba3c6"/>
<line x1="278.90" y1="354" x2="278.90" y2="358.20" stroke="#222" stroke-width="0.5"/>
<line x1="278.20" y1="354" x2="279.60" y2="354" stroke="#222" stroke-width="0.5"/>
<rect x="280.45" y="356.1" width="3.1" height="4.40" fill="#f39433"/>
<line x1="282.00" y1="354" x2="282.00" y2="358.20" stroke="#222" stroke-width="0.5"/>
<line x1="281.30" y1="354" x2="282.70" y2="354" stroke="#222" stroke-width="0.5"/>
<rect x="288.00" y="351" width="3.1" height="9.50" fill="#1ba3c6"/>
<line x1="289.55" y1="348.2" x2="289.55" y2="353.80" stroke="#222" stroke-width="0.5"/>
<line x1="288.85" y1="348.2" x2="290.25" y2="348.2" stroke="#222" stroke-width="0.5"/>
<rect x="291.10" y="356.1" width="3.1" height="4.40" fill="#f39433"/>
<line x1="292.65" y1="354" x2="292.65" y2="358.20" stroke="#222" stroke-width="0.5"/>
<line x1="291.95" y1="354" x2="293.35" y2="354" stroke="#222" stroke-width="0.5"/>
<rect x="298.65" y="326.8" width="3.1" height="33.70" fill="#1ba3c6"/>
<line x1="300.20" y1="320.4" x2="300.20" y2="333.20" stroke="#222" stroke-width="0.5"/>
<line x1="299.50" y1="320.4" x2="300.90" y2="320.4" stroke="#222" stroke-width="0.5"/>
<rect x="301.75" y="349.4" width="3.1" height="11.10" fill="#f39433"/>
<line x1="303.30" y1="344.2" x2="303.30" y2="354.60" stroke="#222" stroke-width="0.5"/>
<line x1="302.60" y1="344.2" x2="304.00" y2="344.2" stroke="#222" stroke-width="0.5"/>
<rect x="309.30" y="344.7" width="3.1" height="15.80" fill="#1ba3c6"/>
<line x1="310.85" y1="340.4" x2="310.85" y2="349.00" stroke="#222" stroke-width="0.5"/>
<line x1="310.15" y1="340.4" x2="311.55" y2="340.4" stroke="#222" stroke-width="0.5"/>
<rect x="312.40" y="337.4" width="3.1" height="23.10" fill="#f39433"/>
<line x1="313.95" y1="329" x2="313.95" y2="345.80" stroke="#222" stroke-width="0.5"/>
<line x1="313.25" y1="329" x2="314.65" y2="329" stroke="#222" stroke-width="0.5"/>
<rect x="319.95" y="354.9" width="3.1" height="5.60" fill="#1ba3c6"/>
<line x1="321.50" y1="351.7" x2="321.50" y2="358.10" stroke="#222" stroke-width="0.5"/>
<line x1="320.80" y1="351.7" x2="322.20" y2="351.7" stroke="#222" stroke-width="0.5"/>
<rect x="323.05" y="353.7" width="3.1" height="6.80" fill="#f39433"/>
<line x1="324.60" y1="350.3" x2="324.60" y2="357.10" stroke="#222" stroke-width="0.5"/>
<line x1="323.90" y1="350.3" x2="325.30" y2="350.3" stroke="#222" stroke-width="0.5"/>
<rect x="330.60" y="354.9" width="3.1" height="5.60" fill="#1ba3c6"/>
<line x1="332.15" y1="353" x2="332.15" y2="356.80" stroke="#222" stroke-width="0.5"/>
<line x1="331.45" y1="353" x2="332.85" y2="353" stroke="#222" stroke-width="0.5"/>
<rect x="333.70" y="354" width="3.1" height="6.50" fill="#f39433"/>
<line x1="335.25" y1="352" x2="335.25" y2="356.00" stroke="#222" stroke-width="0.5"/>
<line x1="334.55" y1="352" x2="335.95" y2="352" stroke="#222" stroke-width="0.5"/>
<rect x="341.25" y="356.7" width="3.1" height="3.80" fill="#1ba3c6"/>
<line x1="342.80" y1="355" x2="342.80" y2="358.40" stroke="#222" stroke-width="0.5"/>
<line x1="342.10" y1="355" x2="343.50" y2="355" stroke="#222" stroke-width="0.5"/>
<rect x="344.35" y="357.8" width="3.1" height="2.70" fill="#f39433"/>
<line x1="345.90" y1="356.5" x2="345.90" y2="359.10" stroke="#222" stroke-width="0.5"/>
<line x1="345.20" y1="356.5" x2="346.60" y2="356.5" stroke="#222" stroke-width="0.5"/>
<rect x="351.90" y="357.1" width="3.1" height="3.40" fill="#1ba3c6"/>
<line x1="353.45" y1="356" x2="353.45" y2="358.20" stroke="#222" stroke-width="0.5"/>
<line x1="352.75" y1="356" x2="354.15" y2="356" stroke="#222" stroke-width="0.5"/>
<rect x="355.00" y="355.5" width="3.1" height="5.00" fill="#f39433"/>
<line x1="356.55" y1="352.1" x2="356.55" y2="358.90" stroke="#222" stroke-width="0.5"/>
<line x1="355.85" y1="352.1" x2="357.25" y2="352.1" stroke="#222" stroke-width="0.5"/>
<rect x="185.0" y="176.3" width="1.8" height="1.8" fill="#1ba3c6"/>
<rect x="185.0" y="182.0" width="1.8" height="1.8" fill="#f39433"/>
<text x="187.8" y="178.6" font-size="3.8" text-anchor="start" font-weight="normal" font-style="normal" fill="#222" textLength="10.2" lengthAdjust="spacingAndGlyphs" stroke="#222" stroke-width="0.1">eKOC</text>
<text x="187.8" y="184.3" font-size="3.8" text-anchor="start" font-weight="normal" font-style="normal" fill="#222" textLength="10.2" lengthAdjust="spacingAndGlyphs" stroke="#222" stroke-width="0.1">dKOC</text>
<text transform="translate(37.4,268) rotate(-90)" x="0" y="2.6" font-size="7.6" text-anchor="middle" fill="#111" stroke="#111" stroke-width="0.12" textLength="83" lengthAdjust="spacingAndGlyphs">Relative expression levels</text>
<g clip-path="url(#clipc1)">
<rect x="22" y="404.3" width="49.50" height="49.70" fill="url(#gc1)"/>
<g filter="url(#soft)">
<circle cx="46.60" cy="429.60" r="7.00" fill="#ffffff" opacity="0.6"/>
<circle cx="46.60" cy="429.60" r="5.5" fill="#4e4038"/>
<circle cx="45.79" cy="431.22" r="0.73" fill="#8a7262" opacity="0.8"/>
<circle cx="47.22" cy="428.31" r="0.69" fill="#2e2420" opacity="0.8"/>
<circle cx="46.90" cy="430.94" r="0.61" fill="#8a7262" opacity="0.8"/>
<circle cx="49.16" cy="431.24" r="0.81" fill="#8a7262" opacity="0.8"/>
<circle cx="50.11" cy="428.40" r="0.69" fill="#8a7262" opacity="0.8"/>
<circle cx="43.99" cy="428.23" r="0.89" fill="#8a7262" opacity="0.8"/>
<circle cx="45.00" cy="429.01" r="0.61" fill="#2e2420" opacity="0.8"/>
<circle cx="48.52" cy="431.35" r="0.81" fill="#8a7262" opacity="0.8"/>
<circle cx="49.42" cy="431.73" r="0.49" fill="#8a7262" opacity="0.8"/>
<circle cx="45.48" cy="429.25" r="0.43" fill="#8a7262" opacity="0.8"/>
<circle cx="43.19" cy="429.68" r="0.79" fill="#9a8470" opacity="0.8"/>
<circle cx="43.90" cy="427.99" r="0.55" fill="#8a7262" opacity="0.8"/>
<circle cx="45.87" cy="427.41" r="0.69" fill="#2e2420" opacity="0.8"/>
<circle cx="43.86" cy="429.68" r="0.62" fill="#2e2420" opacity="0.8"/>
<circle cx="48.19" cy="429.40" r="0.61" fill="#9a8470" opacity="0.8"/>
<circle cx="48.49" cy="432.27" r="0.42" fill="#2e2420" opacity="0.8"/>
<circle cx="49.69" cy="431.24" r="0.79" fill="#9a8470" opacity="0.8"/>
<circle cx="45.12" cy="431.93" r="0.65" fill="#9a8470" opacity="0.8"/>
<circle cx="47.90" cy="430.20" r="0.53" fill="#2e2420" opacity="0.8"/>
<circle cx="46.01" cy="428.61" r="0.75" fill="#2e2420" opacity="0.8"/>
<circle cx="43.19" cy="427.78" r="0.62" fill="#2e2420" opacity="0.8"/>
<circle cx="43.72" cy="432.11" r="0.41" fill="#9a8470" opacity="0.8"/>
</g>
</g>
<rect x="50.2" y="450.4" width="19.6" height="1.7" fill="#fff"/>
<g clip-path="url(#clipc2)">
<rect x="77" y="403.8" width="49.60" height="50.00" fill="url(#gc2)"/>
<g filter="url(#soft)">
<circle cx="93.68" cy="438.59" r="0.47" fill="#3e2c38" opacity="0.44"/>
<circle cx="97.89" cy="442.17" r="0.44" fill="#3e2c38" opacity="0.72"/>
<circle cx="95.55" cy="429.32" r="0.44" fill="#3e2c38" opacity="0.46"/>
<circle cx="107.29" cy="436.52" r="0.49" fill="#3e2c38" opacity="0.63"/>
<circle cx="113.68" cy="428.12" r="0.43" fill="#3e2c38" opacity="0.44"/>
<circle cx="105.47" cy="431.77" r="0.53" fill="#3e2c38" opacity="0.35"/>
<circle cx="103.81" cy="424.17" r="0.40" fill="#3e2c38" opacity="0.41"/>
<circle cx="89.39" cy="426.64" r="0.41" fill="#3e2c38" opacity="0.40"/>
<circle cx="110.83" cy="417.19" r="0.53" fill="#3e2c38" opacity="0.65"/>
<circle cx="86.82" cy="433.16" r="0.63" fill="#3e2c38" opacity="0.62"/>
<circle cx="92.42" cy="425.85" r="0.44" fill="#3e2c38" opacity="0.54"/>
<circle cx="96.20" cy="432.67" r="0.64" fill="#3e2c38" opacity="0.53"/>
<circle cx="110.08" cy="436.71" r="0.34" fill="#3e2c38" opacity="0.58"/>
<circle cx="85.90" cy="425.66" r="0.51" fill="#3e2c38" opacity="0.38"/>
<circle cx="103.32" cy="437.79" r="0.52" fill="#3e2c38" opacity="0.73"/>
<circle cx="92.81" cy="423.07" r="0.34" fill="#3e2c38" opacity="0.55"/>
<circle cx="111.21" cy="427.77" r="0.41" fill="#3e2c38" opacity="0.41"/>
<circle cx="100.97" cy="415.84" r="0.47" fill="#3e2c38" opacity="0.63"/>
<circle cx="94.85" cy="428.57" r="0.63" fill="#3e2c38" opacity="0.49"/>
<circle cx="95.42" cy="415.10" r="0.57" fill="#3e2c38" opacity="0.47"/>
<circle cx="98.63" cy="426.23" r="0.60" fill="#3e2c38" opacity="0.56"/>
<circle cx="108.21" cy="424.51" r="0.38" fill="#3e2c38" opacity="0.57"/>
<circle cx="88.80" cy="428.99" r="0.51" fill="#3e2c38" opacity="0.67"/>
<circle cx="101.31" cy="423.21" r="0.38" fill="#3e2c38" opacity="0.51"/>
<circle cx="103.00" cy="423.45" r="0.47" fill="#3e2c38" opacity="0.64"/>
<circle cx="114.86" cy="428.29" r="0.47" fill="#3e2c38" opacity="0.43"/>
<circle cx="94.34" cy="424.02" r="0.58" fill="#3e2c38" opacity="0.64"/>
<circle cx="91.78" cy="441.97" r="0.33" fill="#3e2c38" opacity="0.39"/>
<circle cx="92.81" cy="430.76" r="0.47" fill="#3e2c38" opacity="0.74"/>
<circle cx="100.71" cy="428.96" r="0.62" fill="#3e2c38" opacity="0.49"/>
<circle cx="92.07" cy="417.96" r="0.34" fill="#3e2c38" opacity="0.51"/>
<circle cx="99.54" cy="423.30" r="0.61" fill="#3e2c38" opacity="0.52"/>
<circle cx="98.57" cy="426.42" r="0.63" fill="#3e2c38" opacity="0.64"/>
<circle cx="87.97" cy="432.27" r="0.33" fill="#3e2c38" opacity="0.41"/>
<circle cx="102.85" cy="429.12" r="0.51" fill="#3e2c38" opacity="0.54"/>
<circle cx="94.36" cy="419.31" r="0.51" fill="#3e2c38" opacity="0.54"/>
<circle cx="105.85" cy="427.19" r="0.49" fill="#3e2c38" opacity="0.36"/>
<circle cx="105.03" cy="416.62" r="0.34" fill="#3e2c38" opacity="0.65"/>
<circle cx="111.17" cy="441.38" r="0.37" fill="#3e2c38" opacity="0.70"/>
<circle cx="107.22" cy="430.31" r="0.48" fill="#3e2c38" opacity="0.66"/>
<circle cx="95.90" cy="439.07" r="0.59" fill="#3e2c38" opacity="0.37"/>
<circle cx="100.05" cy="414.23" r="0.53" fill="#3e2c38" opacity="0.68"/>
<circle cx="86.80" cy="427.70" r="0.61" fill="#3e2c38" opacity="0.40"/>
<circle cx="107.18" cy="437.92" r="0.61" fill="#3e2c38" opacity="0.66"/>
<circle cx="90.33" cy="420.54" r="0.35" fill="#3e2c38" opacity="0.41"/>
<circle cx="97.71" cy="426.14" r="0.32" fill="#3e2c38" opacity="0.62"/>
<circle cx="90.86" cy="427.22" r="0.57" fill="#3e2c38" opacity="0.70"/>
<circle cx="106.56" cy="431.27" r="0.31" fill="#3e2c38" opacity="0.39"/>
<circle cx="99.22" cy="429.75" r="0.61" fill="#3e2c38" opacity="0.38"/>
<circle cx="93.80" cy="443.20" r="0.51" fill="#3e2c38" opacity="0.43"/>
<circle cx="99.19" cy="439.70" r="0.58" fill="#3e2c38" opacity="0.55"/>
<circle cx="101.16" cy="440.05" r="0.61" fill="#3e2c38" opacity="0.72"/>
<circle cx="114.22" cy="422.23" r="0.37" fill="#3e2c38" opacity="0.53"/>
<circle cx="93.10" cy="433.76" r="0.41" fill="#3e2c38" opacity="0.62"/>
<circle cx="95.31" cy="431.95" r="0.41" fill="#3e2c38" opacity="0.40"/>
<circle cx="103.60" cy="414.01" r="0.53" fill="#3e2c38" opacity="0.50"/>
<circle cx="100.91" cy="434.06" r="0.46" fill="#3e2c38" opacity="0.65"/>
<circle cx="113.34" cy="437.49" r="0.36" fill="#3e2c38" opacity="0.62"/>
<circle cx="103.14" cy="442.01" r="0.65" fill="#3e2c38" opacity="0.51"/>
<circle cx="93.41" cy="433.29" r="0.33" fill="#3e2c38" opacity="0.50"/>
<circle cx="95.74" cy="437.73" r="0.55" fill="#3e2c38" opacity="0.50"/>
<circle cx="93.35" cy="428.36" r="0.64" fill="#3e2c38" opacity="0.40"/>
<circle cx="106.75" cy="425.97" r="0.61" fill="#3e2c38" opacity="0.38"/>
<circle cx="98.93" cy="444.14" r="0.36" fill="#3e2c38" opacity="0.65"/>
<circle cx="107.16" cy="416.06" r="0.54" fill="#3e2c38" opacity="0.73"/>
<circle cx="91.85" cy="435.34" r="0.48" fill="#3e2c38" opacity="0.55"/>
<circle cx="97.54" cy="435.78" r="0.58" fill="#3e2c38" opacity="0.42"/>
<circle cx="106.76" cy="424.75" r="0.31" fill="#3e2c38" opacity="0.39"/>
<circle cx="100.21" cy="441.05" r="0.38" fill="#3e2c38" opacity="0.46"/>
<circle cx="101.79" cy="429.96" r="0.65" fill="#3e2c38" opacity="0.52"/>
<circle cx="111.37" cy="423.10" r="0.32" fill="#3e2c38" opacity="0.63"/>
<circle cx="115.53" cy="423.25" r="0.39" fill="#3e2c38" opacity="0.42"/>
<circle cx="112.03" cy="424.20" r="0.49" fill="#3e2c38" opacity="0.43"/>
<circle cx="89.12" cy="433.42" r="0.39" fill="#3e2c38" opacity="0.67"/>
<circle cx="103.21" cy="429.12" r="0.31" fill="#3e2c38" opacity="0.55"/>
<circle cx="111.63" cy="427.72" r="0.39" fill="#3e2c38" opacity="0.53"/>
<circle cx="94.27" cy="418.84" r="0.53" fill="#3e2c38" opacity="0.57"/>
<circle cx="113.03" cy="419.09" r="0.41" fill="#3e2c38" opacity="0.44"/>
<circle cx="101.78" cy="435.22" r="0.61" fill="#3e2c38" opacity="0.64"/>
<circle cx="111.16" cy="441.43" r="0.64" fill="#3e2c38" opacity="0.68"/>
<circle cx="113.03" cy="430.28" r="0.61" fill="#3e2c38" opacity="0.52"/>
<circle cx="112.78" cy="433.47" r="0.43" fill="#3e2c38" opacity="0.55"/>
<circle cx="112.57" cy="427.06" r="0.54" fill="#3e2c38" opacity="0.37"/>
<circle cx="103.88" cy="435.89" r="0.30" fill="#3e2c38" opacity="0.50"/>
<circle cx="93.46" cy="443.14" r="0.41" fill="#3e2c38" opacity="0.36"/>
<circle cx="105.74" cy="424.88" r="0.36" fill="#3e2c38" opacity="0.48"/>
<circle cx="107.43" cy="432.94" r="0.53" fill="#3e2c38" opacity="0.45"/>
<circle cx="101.62" cy="425.46" r="0.59" fill="#3e2c38" opacity="0.41"/>
<circle cx="93.18" cy="424.45" r="0.40" fill="#3e2c38" opacity="0.60"/>
<circle cx="114.44" cy="437.09" r="0.60" fill="#3e2c38" opacity="0.41"/>
<circle cx="111.81" cy="420.58" r="0.51" fill="#3e2c38" opacity="0.66"/>
<circle cx="99.08" cy="418.90" r="0.40" fill="#3e2c38" opacity="0.60"/>
<circle cx="109.75" cy="440.45" r="0.55" fill="#3e2c38" opacity="0.56"/>
<circle cx="89.33" cy="434.76" r="0.48" fill="#3e2c38" opacity="0.71"/>
<circle cx="101.21" cy="417.80" r="0.58" fill="#3e2c38" opacity="0.36"/>
<circle cx="95.57" cy="416.32" r="0.55" fill="#3e2c38" opacity="0.73"/>
<circle cx="98.73" cy="426.35" r="0.31" fill="#3e2c38" opacity="0.60"/>
<circle cx="109.62" cy="426.96" r="0.46" fill="#3e2c38" opacity="0.37"/>
<circle cx="111.87" cy="430.49" r="0.39" fill="#3e2c38" opacity="0.46"/>
<circle cx="97.87" cy="430.07" r="0.63" fill="#3e2c38" opacity="0.71"/>
<circle cx="110.12" cy="435.14" r="0.56" fill="#3e2c38" opacity="0.54"/>
<circle cx="106.26" cy="415.72" r="0.38" fill="#3e2c38" opacity="0.65"/>
<circle cx="102.49" cy="441.46" r="0.46" fill="#3e2c38" opacity="0.69"/>
<circle cx="114.40" cy="436.21" r="0.40" fill="#3e2c38" opacity="0.37"/>
<circle cx="96.93" cy="424.71" r="0.51" fill="#3e2c38" opacity="0.48"/>
<circle cx="93.55" cy="418.74" r="0.52" fill="#3e2c38" opacity="0.40"/>
<circle cx="90.69" cy="430.34" r="0.64" fill="#3e2c38" opacity="0.39"/>
<circle cx="103.10" cy="439.41" r="0.55" fill="#3e2c38" opacity="0.46"/>
<circle cx="87.66" cy="432.10" r="0.65" fill="#3e2c38" opacity="0.57"/>
<circle cx="99.61" cy="432.60" r="0.47" fill="#3e2c38" opacity="0.47"/>
<circle cx="110.44" cy="434.12" r="0.65" fill="#3e2c38" opacity="0.75"/>
<circle cx="89.49" cy="439.11" r="0.63" fill="#3e2c38" opacity="0.38"/>
<circle cx="112.33" cy="436.42" r="0.39" fill="#3e2c38" opacity="0.49"/>
<circle cx="91.33" cy="421.85" r="0.40" fill="#3e2c38" opacity="0.40"/>
<circle cx="94.03" cy="437.09" r="0.61" fill="#3e2c38" opacity="0.51"/>
<circle cx="109.39" cy="442.25" r="0.54" fill="#3e2c38" opacity="0.51"/>
<circle cx="99.65" cy="419.84" r="0.43" fill="#3e2c38" opacity="0.40"/>
<circle cx="97.02" cy="436.30" r="0.42" fill="#3e2c38" opacity="0.51"/>
<circle cx="106.59" cy="426.98" r="0.30" fill="#3e2c38" opacity="0.65"/>
<circle cx="100.94" cy="432.30" r="0.44" fill="#3e2c38" opacity="0.70"/>
<circle cx="114.55" cy="436.25" r="0.56" fill="#3e2c38" opacity="0.69"/>
<circle cx="100.48" cy="431.85" r="0.53" fill="#3e2c38" opacity="0.60"/>
<circle cx="110.33" cy="441.85" r="0.45" fill="#3e2c38" opacity="0.48"/>
<circle cx="103.01" cy="415.51" r="0.45" fill="#3e2c38" opacity="0.36"/>
<circle cx="101.68" cy="419.99" r="0.61" fill="#3e2c38" opacity="0.57"/>
<circle cx="102.02" cy="432.58" r="0.63" fill="#3e2c38" opacity="0.51"/>
<circle cx="97.33" cy="425.97" r="0.60" fill="#3e2c38" opacity="0.54"/>
<circle cx="110.51" cy="423.32" r="0.36" fill="#3e2c38" opacity="0.52"/>
<circle cx="99.60" cy="436.12" r="0.56" fill="#3e2c38" opacity="0.61"/>
<circle cx="95.37" cy="432.96" r="0.47" fill="#3e2c38" opacity="0.62"/>
<circle cx="109.96" cy="437.59" r="0.33" fill="#3e2c38" opacity="0.55"/>
<circle cx="105.24" cy="418.85" r="0.46" fill="#3e2c38" opacity="0.48"/>
<circle cx="101.56" cy="419.61" r="0.49" fill="#3e2c38" opacity="0.45"/>
<circle cx="106.13" cy="439.21" r="0.41" fill="#3e2c38" opacity="0.50"/>
<circle cx="103.23" cy="423.49" r="0.31" fill="#3e2c38" opacity="0.70"/>
<circle cx="91.06" cy="438.21" r="0.37" fill="#3e2c38" opacity="0.46"/>
<circle cx="101.14" cy="418.67" r="0.50" fill="#3e2c38" opacity="0.49"/>
<circle cx="96.77" cy="419.13" r="0.58" fill="#3e2c38" opacity="0.69"/>
<circle cx="113.52" cy="437.44" r="0.43" fill="#3e2c38" opacity="0.61"/>
<circle cx="93.76" cy="432.50" r="0.59" fill="#3e2c38" opacity="0.74"/>
<circle cx="107.68" cy="436.07" r="0.57" fill="#3e2c38" opacity="0.67"/>
<circle cx="111.22" cy="427.14" r="0.33" fill="#3e2c38" opacity="0.72"/>
<circle cx="110.81" cy="424.44" r="0.46" fill="#3e2c38" opacity="0.53"/>
<circle cx="102.35" cy="422.82" r="0.35" fill="#3e2c38" opacity="0.74"/>
<circle cx="112.05" cy="438.21" r="0.55" fill="#3e2c38" opacity="0.69"/>
<circle cx="103.88" cy="426.96" r="0.57" fill="#3e2c38" opacity="0.35"/>
<circle cx="109.04" cy="437.30" r="0.31" fill="#3e2c38" opacity="0.64"/>
<circle cx="112.75" cy="426.37" r="0.48" fill="#3e2c38" opacity="0.52"/>
<circle cx="101.35" cy="425.21" r="0.41" fill="#3e2c38" opacity="0.73"/>
<circle cx="103.56" cy="435.87" r="0.58" fill="#3e2c38" opacity="0.35"/>
<circle cx="85.48" cy="425.48" r="0.40" fill="#3e2c38" opacity="0.48"/>
<circle cx="104.64" cy="423.41" r="0.48" fill="#3e2c38" opacity="0.57"/>
<circle cx="110.24" cy="430.92" r="0.53" fill="#3e2c38" opacity="0.37"/>
<circle cx="106.11" cy="443.16" r="0.53" fill="#3e2c38" opacity="0.38"/>
<circle cx="102.33" cy="438.67" r="0.43" fill="#3e2c38" opacity="0.55"/>
<circle cx="96.62" cy="416.83" r="0.43" fill="#3e2c38" opacity="0.51"/>
<circle cx="108.64" cy="429.52" r="0.60" fill="#3e2c38" opacity="0.38"/>
<circle cx="94.90" cy="429.36" r="0.57" fill="#3e2c38" opacity="0.43"/>
<circle cx="93.96" cy="430.77" r="0.61" fill="#3e2c38" opacity="0.39"/>
<circle cx="92.52" cy="420.86" r="0.61" fill="#3e2c38" opacity="0.54"/>
<circle cx="103.41" cy="427.68" r="0.51" fill="#3e2c38" opacity="0.72"/>
<circle cx="102.59" cy="429.77" r="0.51" fill="#3e2c38" opacity="0.52"/>
<circle cx="99.55" cy="423.59" r="0.46" fill="#3e2c38" opacity="0.63"/>
<circle cx="99.30" cy="433.18" r="0.33" fill="#3e2c38" opacity="0.42"/>
<circle cx="105.51" cy="440.73" r="0.48" fill="#3e2c38" opacity="0.54"/>
<circle cx="96.00" cy="441.41" r="0.59" fill="#3e2c38" opacity="0.74"/>
<circle cx="97.04" cy="430.70" r="0.33" fill="#3e2c38" opacity="0.38"/>
<circle cx="87.96" cy="436.35" r="0.50" fill="#3e2c38" opacity="0.65"/>
<circle cx="91.03" cy="438.55" r="0.41" fill="#3e2c38" opacity="0.67"/>
<circle cx="112.05" cy="436.00" r="0.37" fill="#3e2c38" opacity="0.57"/>
<circle cx="93.33" cy="431.89" r="0.56" fill="#3e2c38" opacity="0.54"/>
<circle cx="96.31" cy="424.10" r="0.52" fill="#3e2c38" opacity="0.51"/>
<circle cx="93.84" cy="436.31" r="0.58" fill="#3e2c38" opacity="0.37"/>
<circle cx="102.03" cy="432.06" r="0.51" fill="#3e2c38" opacity="0.50"/>
<circle cx="93.09" cy="442.59" r="0.32" fill="#3e2c38" opacity="0.65"/>
<circle cx="95.34" cy="415.03" r="0.40" fill="#3e2c38" opacity="0.64"/>
<circle cx="89.40" cy="421.26" r="0.63" fill="#3e2c38" opacity="0.38"/>
<circle cx="102.93" cy="425.48" r="0.55" fill="#3e2c38" opacity="0.54"/>
<circle cx="103.29" cy="415.50" r="0.62" fill="#3e2c38" opacity="0.68"/>
<circle cx="108.06" cy="436.98" r="0.30" fill="#3e2c38" opacity="0.72"/>
<circle cx="96.78" cy="441.32" r="0.35" fill="#3e2c38" opacity="0.44"/>
<circle cx="107.47" cy="421.51" r="0.57" fill="#3e2c38" opacity="0.59"/>
<circle cx="91.91" cy="428.52" r="0.36" fill="#3e2c38" opacity="0.51"/>
<circle cx="94.91" cy="420.87" r="0.49" fill="#3e2c38" opacity="0.41"/>
<circle cx="97.29" cy="431.05" r="0.33" fill="#3e2c38" opacity="0.60"/>
<circle cx="103.46" cy="438.40" r="0.65" fill="#3e2c38" opacity="0.74"/>
<circle cx="103.21" cy="433.42" r="0.46" fill="#3e2c38" opacity="0.71"/>
<circle cx="102.04" cy="440.19" r="0.57" fill="#3e2c38" opacity="0.65"/>
<circle cx="102.43" cy="421.66" r="0.40" fill="#3e2c38" opacity="0.46"/>
<circle cx="100.82" cy="436.33" r="0.45" fill="#3e2c38" opacity="0.42"/>
<circle cx="101.68" cy="436.65" r="0.62" fill="#3e2c38" opacity="0.43"/>
<circle cx="107.42" cy="431.97" r="0.39" fill="#3e2c38" opacity="0.56"/>
<circle cx="98.62" cy="425.94" r="0.46" fill="#3e2c38" opacity="0.36"/>
<circle cx="115.84" cy="429.62" r="0.38" fill="#3e2c38" opacity="0.53"/>
<circle cx="90.62" cy="439.73" r="0.38" fill="#3e2c38" opacity="0.37"/>
<circle cx="89.47" cy="420.77" r="0.37" fill="#3e2c38" opacity="0.38"/>
<circle cx="95.34" cy="428.75" r="0.51" fill="#3e2c38" opacity="0.66"/>
<circle cx="100.61" cy="428.54" r="0.52" fill="#3e2c38" opacity="0.63"/>
<circle cx="99.69" cy="431.01" r="0.42" fill="#3e2c38" opacity="0.37"/>
<circle cx="103.26" cy="429.20" r="0.56" fill="#3e2c38" opacity="0.72"/>
<circle cx="106.62" cy="416.17" r="0.44" fill="#3e2c38" opacity="0.50"/>
<circle cx="98.49" cy="426.81" r="0.31" fill="#3e2c38" opacity="0.55"/>
<circle cx="91.70" cy="430.17" r="0.58" fill="#3e2c38" opacity="0.62"/>
<circle cx="107.20" cy="438.26" r="0.53" fill="#3e2c38" opacity="0.51"/>
<circle cx="98.89" cy="444.95" r="0.53" fill="#3e2c38" opacity="0.52"/>
<circle cx="113.72" cy="433.45" r="0.61" fill="#3e2c38" opacity="0.52"/>
<circle cx="114.55" cy="430.76" r="0.58" fill="#3e2c38" opacity="0.61"/>
<circle cx="93.81" cy="435.10" r="0.63" fill="#3e2c38" opacity="0.52"/>
<circle cx="103.40" cy="432.81" r="0.33" fill="#3e2c38" opacity="0.58"/>
<circle cx="91.95" cy="439.50" r="0.35" fill="#3e2c38" opacity="0.37"/>
<circle cx="109.79" cy="440.17" r="0.44" fill="#3e2c38" opacity="0.58"/>
<circle cx="112.96" cy="423.32" r="0.36" fill="#3e2c38" opacity="0.49"/>
<circle cx="103.93" cy="433.93" r="0.32" fill="#3e2c38" opacity="0.50"/>
<circle cx="101.31" cy="415.29" r="0.58" fill="#3e2c38" opacity="0.47"/>
<circle cx="102.27" cy="427.12" r="0.62" fill="#3e2c38" opacity="0.48"/>
<circle cx="91.49" cy="421.56" r="0.33" fill="#3e2c38" opacity="0.63"/>
<circle cx="95.35" cy="415.38" r="0.52" fill="#3e2c38" opacity="0.69"/>
<circle cx="92.34" cy="420.96" r="0.37" fill="#3e2c38" opacity="0.54"/>
<circle cx="98.82" cy="428.25" r="0.63" fill="#3e2c38" opacity="0.41"/>
<circle cx="97.76" cy="433.16" r="0.64" fill="#3e2c38" opacity="0.68"/>
<circle cx="106.24" cy="443.10" r="0.59" fill="#3e2c38" opacity="0.62"/>
<circle cx="96.98" cy="422.12" r="0.44" fill="#3e2c38" opacity="0.53"/>
<circle cx="109.02" cy="418.01" r="0.53" fill="#3e2c38" opacity="0.47"/>
<circle cx="101.04" cy="438.28" r="0.43" fill="#3e2c38" opacity="0.55"/>
<circle cx="101.23" cy="429.69" r="0.65" fill="#3e2c38" opacity="0.54"/>
<circle cx="89.67" cy="433.13" r="0.59" fill="#3e2c38" opacity="0.68"/>
<circle cx="104.43" cy="420.62" r="0.32" fill="#3e2c38" opacity="0.49"/>
<circle cx="91.71" cy="439.70" r="0.48" fill="#3e2c38" opacity="0.61"/>
<circle cx="105.56" cy="430.39" r="0.62" fill="#3e2c38" opacity="0.48"/>
<circle cx="100.35" cy="425.75" r="0.56" fill="#3e2c38" opacity="0.71"/>
<circle cx="93.07" cy="417.87" r="0.31" fill="#3e2c38" opacity="0.38"/>
<circle cx="91.33" cy="420.77" r="0.34" fill="#3e2c38" opacity="0.40"/>
<circle cx="106.71" cy="424.21" r="0.58" fill="#3e2c38" opacity="0.67"/>
<circle cx="95.86" cy="417.10" r="0.38" fill="#3e2c38" opacity="0.68"/>
<circle cx="95.62" cy="424.72" r="0.41" fill="#3e2c38" opacity="0.60"/>
<circle cx="109.27" cy="423.59" r="0.39" fill="#3e2c38" opacity="0.74"/>
<circle cx="89.41" cy="430.66" r="0.52" fill="#3e2c38" opacity="0.44"/>
<circle cx="96.78" cy="433.57" r="0.44" fill="#3e2c38" opacity="0.60"/>
<circle cx="99.56" cy="437.27" r="0.43" fill="#3e2c38" opacity="0.67"/>
<circle cx="99.77" cy="442.80" r="0.32" fill="#3e2c38" opacity="0.69"/>
<circle cx="110.73" cy="427.10" r="0.48" fill="#3e2c38" opacity="0.63"/>
<circle cx="106.56" cy="424.95" r="0.49" fill="#3e2c38" opacity="0.69"/>
<circle cx="100.33" cy="420.39" r="0.43" fill="#3e2c38" opacity="0.50"/>
<circle cx="106.00" cy="435.75" r="0.33" fill="#3e2c38" opacity="0.44"/>
<circle cx="89.33" cy="418.86" r="0.40" fill="#3e2c38" opacity="0.56"/>
<circle cx="95.22" cy="443.77" r="0.60" fill="#3e2c38" opacity="0.72"/>
<circle cx="111.53" cy="421.11" r="0.56" fill="#3e2c38" opacity="0.44"/>
<circle cx="97.93" cy="440.88" r="0.45" fill="#3e2c38" opacity="0.50"/>
<circle cx="110.94" cy="432.28" r="0.51" fill="#3e2c38" opacity="0.37"/>
<circle cx="111.73" cy="433.02" r="0.41" fill="#3e2c38" opacity="0.56"/>
<circle cx="91.80" cy="427.20" r="0.41" fill="#3e2c38" opacity="0.40"/>
<circle cx="91.47" cy="439.85" r="0.36" fill="#3e2c38" opacity="0.36"/>
<circle cx="105.13" cy="416.87" r="0.46" fill="#3e2c38" opacity="0.38"/>
<circle cx="108.70" cy="439.09" r="0.39" fill="#3e2c38" opacity="0.67"/>
<circle cx="103.78" cy="428.62" r="0.59" fill="#3e2c38" opacity="0.71"/>
<circle cx="91.46" cy="422.74" r="0.51" fill="#3e2c38" opacity="0.56"/>
<circle cx="95.58" cy="429.44" r="0.30" fill="#3e2c38" opacity="0.37"/>
<circle cx="106.75" cy="430.12" r="0.36" fill="#3e2c38" opacity="0.71"/>
<circle cx="110.43" cy="436.50" r="0.53" fill="#3e2c38" opacity="0.43"/>
<circle cx="91.78" cy="434.80" r="0.52" fill="#3e2c38" opacity="0.61"/>
<circle cx="90.72" cy="435.26" r="0.48" fill="#3e2c38" opacity="0.38"/>
<circle cx="89.80" cy="417.86" r="0.55" fill="#3e2c38" opacity="0.54"/>
<circle cx="92.37" cy="427.08" r="0.45" fill="#3e2c38" opacity="0.71"/>
<circle cx="111.86" cy="435.22" r="0.36" fill="#3e2c38" opacity="0.75"/>
<circle cx="100.12" cy="441.46" r="0.34" fill="#3e2c38" opacity="0.71"/>
<circle cx="114.77" cy="422.20" r="0.39" fill="#3e2c38" opacity="0.37"/>
<circle cx="92.66" cy="419.64" r="0.54" fill="#3e2c38" opacity="0.72"/>
<circle cx="108.58" cy="427.85" r="0.62" fill="#3e2c38" opacity="0.71"/>
<circle cx="110.15" cy="434.65" r="0.36" fill="#3e2c38" opacity="0.71"/>
<circle cx="104.35" cy="424.05" r="0.36" fill="#3e2c38" opacity="0.72"/>
<circle cx="104.24" cy="437.68" r="0.51" fill="#3e2c38" opacity="0.50"/>
<circle cx="110.10" cy="416.98" r="0.64" fill="#3e2c38" opacity="0.69"/>
<circle cx="91.07" cy="426.89" r="0.49" fill="#3e2c38" opacity="0.35"/>
<circle cx="116.36" cy="431.78" r="0.38" fill="#3e2c38" opacity="0.70"/>
<circle cx="103.22" cy="420.36" r="0.50" fill="#3e2c38" opacity="0.58"/>
<circle cx="101.98" cy="431.02" r="0.34" fill="#3e2c38" opacity="0.60"/>
<circle cx="109.30" cy="442.62" r="0.55" fill="#3e2c38" opacity="0.36"/>
<circle cx="108.92" cy="438.58" r="0.31" fill="#3e2c38" opacity="0.38"/>
<circle cx="114.96" cy="433.42" r="0.57" fill="#3e2c38" opacity="0.43"/>
<circle cx="111.54" cy="426.11" r="0.53" fill="#3e2c38" opacity="0.70"/>
<circle cx="101.47" cy="416.17" r="0.43" fill="#3e2c38" opacity="0.45"/>
<circle cx="101.61" cy="431.21" r="0.63" fill="#3e2c38" opacity="0.71"/>
<circle cx="101.09" cy="425.49" r="0.56" fill="#3e2c38" opacity="0.60"/>
<circle cx="96.29" cy="429.88" r="0.58" fill="#3e2c38" opacity="0.61"/>
<circle cx="98.70" cy="437.20" r="0.39" fill="#3e2c38" opacity="0.49"/>
<circle cx="103.35" cy="428.09" r="0.57" fill="#3e2c38" opacity="0.71"/>
<circle cx="102.42" cy="417.49" r="0.47" fill="#3e2c38" opacity="0.47"/>
<circle cx="100.62" cy="415.33" r="0.31" fill="#3e2c38" opacity="0.56"/>
<circle cx="109.28" cy="435.08" r="0.32" fill="#3e2c38" opacity="0.58"/>
<circle cx="97.83" cy="415.27" r="0.50" fill="#3e2c38" opacity="0.46"/>
<circle cx="91.01" cy="433.44" r="0.40" fill="#3e2c38" opacity="0.65"/>
<circle cx="109.01" cy="432.02" r="0.33" fill="#3e2c38" opacity="0.63"/>
<circle cx="108.15" cy="415.24" r="0.51" fill="#3e2c38" opacity="0.73"/>
<circle cx="89.54" cy="428.11" r="0.36" fill="#3e2c38" opacity="0.68"/>
<circle cx="107.16" cy="426.69" r="0.36" fill="#3e2c38" opacity="0.73"/>
<circle cx="102.10" cy="418.83" r="0.65" fill="#3e2c38" opacity="0.57"/>
<circle cx="107.47" cy="434.19" r="0.33" fill="#3e2c38" opacity="0.72"/>
<circle cx="111.43" cy="420.77" r="0.45" fill="#3e2c38" opacity="0.61"/>
<circle cx="95.58" cy="434.83" r="0.45" fill="#3e2c38" opacity="0.57"/>
<circle cx="108.53" cy="443.13" r="0.52" fill="#3e2c38" opacity="0.73"/>
<circle cx="109.18" cy="437.58" r="0.54" fill="#3e2c38" opacity="0.59"/>
<circle cx="112.30" cy="431.64" r="0.48" fill="#3e2c38" opacity="0.70"/>
<circle cx="90.32" cy="432.65" r="0.41" fill="#3e2c38" opacity="0.54"/>
<circle cx="98.35" cy="422.63" r="0.38" fill="#3e2c38" opacity="0.48"/>
<circle cx="92.96" cy="419.14" r="0.48" fill="#3e2c38" opacity="0.46"/>
<circle cx="101.42" cy="414.93" r="0.52" fill="#3e2c38" opacity="0.64"/>
<circle cx="114.01" cy="427.12" r="0.51" fill="#3e2c38" opacity="0.49"/>
<circle cx="102.35" cy="444.71" r="0.39" fill="#3e2c38" opacity="0.73"/>
<circle cx="106.42" cy="429.03" r="0.53" fill="#3e2c38" opacity="0.43"/>
<circle cx="103.97" cy="433.34" r="0.41" fill="#3e2c38" opacity="0.47"/>
<circle cx="100.37" cy="433.39" r="0.62" fill="#3e2c38" opacity="0.46"/>
<circle cx="108.58" cy="422.54" r="0.30" fill="#3e2c38" opacity="0.69"/>
<circle cx="95.02" cy="431.72" r="0.64" fill="#3e2c38" opacity="0.47"/>
<circle cx="108.02" cy="430.18" r="0.56" fill="#3e2c38" opacity="0.35"/>
<circle cx="101.70" cy="443.73" r="0.55" fill="#3e2c38" opacity="0.58"/>
<circle cx="92.29" cy="417.64" r="0.53" fill="#3e2c38" opacity="0.61"/>
<circle cx="109.81" cy="420.67" r="0.50" fill="#3e2c38" opacity="0.44"/>
<circle cx="102.91" cy="433.36" r="0.45" fill="#3e2c38" opacity="0.45"/>
<circle cx="96.43" cy="414.95" r="0.38" fill="#3e2c38" opacity="0.51"/>
<circle cx="99.78" cy="424.09" r="0.60" fill="#3e2c38" opacity="0.54"/>
<circle cx="115.49" cy="431.00" r="0.48" fill="#3e2c38" opacity="0.61"/>
<circle cx="111.45" cy="418.49" r="0.41" fill="#3e2c38" opacity="0.35"/>
<circle cx="108.43" cy="416.05" r="0.34" fill="#3e2c38" opacity="0.45"/>
<circle cx="103.62" cy="442.03" r="0.63" fill="#3e2c38" opacity="0.43"/>
<circle cx="92.62" cy="441.01" r="0.46" fill="#3e2c38" opacity="0.43"/>
<circle cx="99.67" cy="429.40" r="0.58" fill="#3e2c38" opacity="0.50"/>
<circle cx="93.63" cy="440.37" r="0.46" fill="#3e2c38" opacity="0.75"/>
<circle cx="105.34" cy="439.02" r="0.63" fill="#3e2c38" opacity="0.64"/>
<circle cx="91.79" cy="421.18" r="0.39" fill="#3e2c38" opacity="0.50"/>
<circle cx="104.14" cy="430.48" r="0.62" fill="#3e2c38" opacity="0.60"/>
<circle cx="95.75" cy="418.92" r="0.34" fill="#3e2c38" opacity="0.47"/>
<circle cx="88.39" cy="438.30" r="0.64" fill="#3e2c38" opacity="0.75"/>
<circle cx="110.77" cy="426.75" r="0.36" fill="#3e2c38" opacity="0.72"/>
<circle cx="113.69" cy="435.06" r="0.37" fill="#3e2c38" opacity="0.61"/>
<circle cx="98.41" cy="415.29" r="0.35" fill="#3e2c38" opacity="0.62"/>
<circle cx="107.77" cy="417.01" r="0.44" fill="#3e2c38" opacity="0.75"/>
<circle cx="101.77" cy="416.87" r="0.57" fill="#3e2c38" opacity="0.54"/>
<circle cx="102.39" cy="422.71" r="0.55" fill="#3e2c38" opacity="0.62"/>
<circle cx="113.61" cy="427.84" r="0.47" fill="#3e2c38" opacity="0.67"/>
<circle cx="103.61" cy="420.97" r="0.53" fill="#3e2c38" opacity="0.48"/>
<circle cx="89.00" cy="430.34" r="0.33" fill="#3e2c38" opacity="0.71"/>
<circle cx="105.49" cy="435.60" r="0.43" fill="#3e2c38" opacity="0.38"/>
<circle cx="93.51" cy="425.98" r="0.63" fill="#3e2c38" opacity="0.56"/>
<circle cx="94.49" cy="438.76" r="0.53" fill="#3e2c38" opacity="0.43"/>
<circle cx="107.89" cy="432.55" r="0.51" fill="#3e2c38" opacity="0.58"/>
<circle cx="104.55" cy="424.58" r="0.46" fill="#3e2c38" opacity="0.66"/>
<circle cx="103.39" cy="438.15" r="0.49" fill="#3e2c38" opacity="0.59"/>
<circle cx="95.01" cy="414.60" r="0.33" fill="#3e2c38" opacity="0.71"/>
<circle cx="89.36" cy="425.54" r="0.40" fill="#3e2c38" opacity="0.55"/>
<circle cx="101.80" cy="432.59" r="0.59" fill="#3e2c38" opacity="0.62"/>
<circle cx="104.30" cy="432.18" r="0.45" fill="#3e2c38" opacity="0.68"/>
<circle cx="89.89" cy="431.08" r="0.47" fill="#3e2c38" opacity="0.71"/>
<circle cx="98.88" cy="422.63" r="0.36" fill="#3e2c38" opacity="0.59"/>
<circle cx="100.48" cy="423.89" r="0.41" fill="#3e2c38" opacity="0.63"/>
<circle cx="93.28" cy="429.32" r="0.46" fill="#3e2c38" opacity="0.52"/>
<circle cx="113.65" cy="429.20" r="0.36" fill="#3e2c38" opacity="0.49"/>
<circle cx="100.06" cy="427.96" r="0.32" fill="#3e2c38" opacity="0.64"/>
<circle cx="115.08" cy="429.11" r="0.33" fill="#3e2c38" opacity="0.54"/>
<circle cx="101.23" cy="424.19" r="0.37" fill="#3e2c38" opacity="0.52"/>
<circle cx="103.71" cy="431.98" r="0.53" fill="#3e2c38" opacity="0.49"/>
<circle cx="103.00" cy="418.15" r="0.62" fill="#3e2c38" opacity="0.46"/>
<circle cx="97.18" cy="435.06" r="0.32" fill="#3e2c38" opacity="0.47"/>
<circle cx="94.57" cy="437.47" r="0.42" fill="#3e2c38" opacity="0.74"/>
<circle cx="106.90" cy="423.15" r="0.37" fill="#3e2c38" opacity="0.55"/>
<circle cx="105.39" cy="433.22" r="0.55" fill="#3e2c38" opacity="0.40"/>
<circle cx="104.66" cy="428.57" r="0.65" fill="#3e2c38" opacity="0.51"/>
<circle cx="92.22" cy="426.08" r="0.50" fill="#3e2c38" opacity="0.51"/>
<circle cx="102.97" cy="430.80" r="0.59" fill="#3e2c38" opacity="0.54"/>
<circle cx="101.30" cy="426.25" r="0.48" fill="#3e2c38" opacity="0.57"/>
<circle cx="97.39" cy="432.76" r="0.54" fill="#3e2c38" opacity="0.63"/>
<circle cx="103.56" cy="426.68" r="0.31" fill="#3e2c38" opacity="0.60"/>
<circle cx="97.05" cy="425.23" r="0.53" fill="#3e2c38" opacity="0.70"/>
<circle cx="97.45" cy="431.11" r="0.63" fill="#3e2c38" opacity="0.36"/>
<circle cx="104.39" cy="425.68" r="0.41" fill="#3e2c38" opacity="0.63"/>
<circle cx="104.77" cy="424.78" r="0.31" fill="#3e2c38" opacity="0.36"/>
<circle cx="90.47" cy="424.54" r="0.62" fill="#3e2c38" opacity="0.55"/>
<circle cx="86.88" cy="427.22" r="0.57" fill="#3e2c38" opacity="0.52"/>
<circle cx="97.89" cy="420.44" r="0.32" fill="#3e2c38" opacity="0.62"/>
<circle cx="87.76" cy="420.34" r="0.53" fill="#3e2c38" opacity="0.41"/>
<circle cx="102.39" cy="418.12" r="0.33" fill="#3e2c38" opacity="0.54"/>
<circle cx="99.80" cy="429.00" r="12.32" fill="url(#hc2)"/>
<circle cx="99.80" cy="429.00" r="4.76" fill="#2a2020" opacity="0.85"/>
</g>
</g>
<g clip-path="url(#clipc3)">
<rect x="127.8" y="403.8" width="49.60" height="50.00" fill="url(#gc3)"/>
<g filter="url(#soft)">
<circle cx="162.19" cy="421.44" r="0.45" fill="#3e2c38" opacity="0.35"/>
<circle cx="144.90" cy="414.92" r="0.60" fill="#3e2c38" opacity="0.44"/>
<circle cx="159.98" cy="435.85" r="0.40" fill="#3e2c38" opacity="0.58"/>
<circle cx="139.83" cy="432.88" r="0.62" fill="#3e2c38" opacity="0.50"/>
<circle cx="152.38" cy="415.94" r="0.35" fill="#3e2c38" opacity="0.65"/>
<circle cx="149.58" cy="439.66" r="0.47" fill="#3e2c38" opacity="0.62"/>
<circle cx="164.28" cy="419.14" r="0.32" fill="#3e2c38" opacity="0.36"/>
<circle cx="166.39" cy="434.32" r="0.54" fill="#3e2c38" opacity="0.60"/>
<circle cx="146.50" cy="433.92" r="0.51" fill="#3e2c38" opacity="0.73"/>
<circle cx="158.64" cy="418.57" r="0.41" fill="#3e2c38" opacity="0.73"/>
<circle cx="151.18" cy="418.73" r="0.36" fill="#3e2c38" opacity="0.74"/>
<circle cx="164.16" cy="439.21" r="0.36" fill="#3e2c38" opacity="0.67"/>
<circle cx="138.98" cy="430.79" r="0.46" fill="#3e2c38" opacity="0.46"/>
<circle cx="152.85" cy="420.52" r="0.40" fill="#3e2c38" opacity="0.60"/>
<circle cx="144.43" cy="417.41" r="0.51" fill="#3e2c38" opacity="0.70"/>
<circle cx="152.40" cy="427.50" r="0.35" fill="#3e2c38" opacity="0.68"/>
<circle cx="139.01" cy="420.80" r="0.39" fill="#3e2c38" opacity="0.50"/>
<circle cx="142.84" cy="438.41" r="0.38" fill="#3e2c38" opacity="0.53"/>
<circle cx="149.55" cy="421.30" r="0.39" fill="#3e2c38" opacity="0.41"/>
<circle cx="164.55" cy="422.29" r="0.57" fill="#3e2c38" opacity="0.47"/>
<circle cx="162.07" cy="440.34" r="0.65" fill="#3e2c38" opacity="0.41"/>
<circle cx="166.40" cy="426.65" r="0.49" fill="#3e2c38" opacity="0.66"/>
<circle cx="141.61" cy="428.80" r="0.49" fill="#3e2c38" opacity="0.54"/>
<circle cx="142.39" cy="438.18" r="0.55" fill="#3e2c38" opacity="0.74"/>
<circle cx="151.55" cy="431.49" r="0.44" fill="#3e2c38" opacity="0.63"/>
<circle cx="162.98" cy="423.59" r="0.30" fill="#3e2c38" opacity="0.50"/>
<circle cx="141.95" cy="426.02" r="0.42" fill="#3e2c38" opacity="0.38"/>
<circle cx="143.92" cy="435.26" r="0.39" fill="#3e2c38" opacity="0.68"/>
<circle cx="148.01" cy="438.39" r="0.37" fill="#3e2c38" opacity="0.44"/>
<circle cx="164.36" cy="436.49" r="0.40" fill="#3e2c38" opacity="0.58"/>
<circle cx="143.89" cy="439.48" r="0.60" fill="#3e2c38" opacity="0.45"/>
<circle cx="161.86" cy="423.91" r="0.60" fill="#3e2c38" opacity="0.50"/>
<circle cx="149.13" cy="429.61" r="0.41" fill="#3e2c38" opacity="0.36"/>
<circle cx="150.34" cy="440.44" r="0.33" fill="#3e2c38" opacity="0.43"/>
<circle cx="160.42" cy="420.55" r="0.51" fill="#3e2c38" opacity="0.44"/>
<circle cx="159.25" cy="425.44" r="0.33" fill="#3e2c38" opacity="0.53"/>
<circle cx="142.70" cy="422.24" r="0.35" fill="#3e2c38" opacity="0.69"/>
<circle cx="144.15" cy="442.33" r="0.43" fill="#3e2c38" opacity="0.36"/>
<circle cx="161.20" cy="430.71" r="0.55" fill="#3e2c38" opacity="0.54"/>
<circle cx="161.06" cy="416.45" r="0.60" fill="#3e2c38" opacity="0.61"/>
<circle cx="164.07" cy="422.70" r="0.33" fill="#3e2c38" opacity="0.48"/>
<circle cx="153.00" cy="432.55" r="0.62" fill="#3e2c38" opacity="0.55"/>
<circle cx="158.56" cy="442.03" r="0.43" fill="#3e2c38" opacity="0.44"/>
<circle cx="151.58" cy="423.33" r="0.63" fill="#3e2c38" opacity="0.73"/>
<circle cx="163.04" cy="432.88" r="0.31" fill="#3e2c38" opacity="0.72"/>
<circle cx="152.07" cy="439.51" r="0.56" fill="#3e2c38" opacity="0.65"/>
<circle cx="148.58" cy="429.22" r="0.41" fill="#3e2c38" opacity="0.35"/>
<circle cx="156.84" cy="441.56" r="0.51" fill="#3e2c38" opacity="0.53"/>
<circle cx="146.75" cy="420.47" r="0.43" fill="#3e2c38" opacity="0.51"/>
<circle cx="146.27" cy="435.13" r="0.45" fill="#3e2c38" opacity="0.67"/>
<circle cx="165.43" cy="421.14" r="0.46" fill="#3e2c38" opacity="0.72"/>
<circle cx="154.19" cy="423.78" r="0.59" fill="#3e2c38" opacity="0.38"/>
<circle cx="146.09" cy="422.79" r="0.56" fill="#3e2c38" opacity="0.66"/>
<circle cx="167.35" cy="424.81" r="0.43" fill="#3e2c38" opacity="0.36"/>
<circle cx="166.61" cy="435.96" r="0.41" fill="#3e2c38" opacity="0.44"/>
<circle cx="159.14" cy="434.61" r="0.42" fill="#3e2c38" opacity="0.64"/>
<circle cx="156.81" cy="437.79" r="0.61" fill="#3e2c38" opacity="0.53"/>
<circle cx="158.20" cy="436.45" r="0.39" fill="#3e2c38" opacity="0.36"/>
<circle cx="145.64" cy="425.47" r="0.58" fill="#3e2c38" opacity="0.45"/>
<circle cx="160.33" cy="435.13" r="0.47" fill="#3e2c38" opacity="0.41"/>
<circle cx="140.51" cy="427.77" r="0.58" fill="#3e2c38" opacity="0.72"/>
<circle cx="139.24" cy="423.52" r="0.34" fill="#3e2c38" opacity="0.65"/>
<circle cx="162.11" cy="427.03" r="0.39" fill="#3e2c38" opacity="0.45"/>
<circle cx="153.28" cy="437.87" r="0.45" fill="#3e2c38" opacity="0.41"/>
<circle cx="160.41" cy="415.07" r="0.35" fill="#3e2c38" opacity="0.61"/>
<circle cx="142.64" cy="432.59" r="0.48" fill="#3e2c38" opacity="0.53"/>
<circle cx="156.40" cy="413.82" r="0.40" fill="#3e2c38" opacity="0.49"/>
<circle cx="161.65" cy="431.16" r="0.40" fill="#3e2c38" opacity="0.42"/>
<circle cx="158.59" cy="419.78" r="0.38" fill="#3e2c38" opacity="0.42"/>
<circle cx="141.07" cy="420.35" r="0.61" fill="#3e2c38" opacity="0.64"/>
<circle cx="153.00" cy="423.19" r="0.35" fill="#3e2c38" opacity="0.62"/>
<circle cx="148.49" cy="424.50" r="0.41" fill="#3e2c38" opacity="0.35"/>
<circle cx="148.77" cy="418.70" r="0.59" fill="#3e2c38" opacity="0.72"/>
<circle cx="144.17" cy="427.82" r="0.40" fill="#3e2c38" opacity="0.61"/>
<circle cx="156.16" cy="427.53" r="0.44" fill="#3e2c38" opacity="0.66"/>
<circle cx="160.99" cy="438.11" r="0.39" fill="#3e2c38" opacity="0.58"/>
<circle cx="154.79" cy="428.60" r="0.55" fill="#3e2c38" opacity="0.58"/>
<circle cx="158.01" cy="422.10" r="0.63" fill="#3e2c38" opacity="0.74"/>
<circle cx="160.37" cy="432.54" r="0.39" fill="#3e2c38" opacity="0.68"/>
<circle cx="164.35" cy="421.61" r="0.60" fill="#3e2c38" opacity="0.58"/>
<circle cx="158.72" cy="424.24" r="0.34" fill="#3e2c38" opacity="0.64"/>
<circle cx="150.92" cy="429.39" r="0.58" fill="#3e2c38" opacity="0.40"/>
<circle cx="152.75" cy="432.53" r="0.52" fill="#3e2c38" opacity="0.42"/>
<circle cx="148.34" cy="439.20" r="0.63" fill="#3e2c38" opacity="0.36"/>
<circle cx="164.54" cy="422.84" r="0.39" fill="#3e2c38" opacity="0.68"/>
<circle cx="146.01" cy="421.15" r="0.38" fill="#3e2c38" opacity="0.53"/>
<circle cx="150.31" cy="431.92" r="0.36" fill="#3e2c38" opacity="0.46"/>
<circle cx="141.27" cy="431.34" r="0.57" fill="#3e2c38" opacity="0.39"/>
<circle cx="163.34" cy="439.08" r="0.49" fill="#3e2c38" opacity="0.44"/>
<circle cx="154.41" cy="441.24" r="0.46" fill="#3e2c38" opacity="0.51"/>
<circle cx="153.98" cy="428.33" r="0.52" fill="#3e2c38" opacity="0.63"/>
<circle cx="142.92" cy="422.04" r="0.31" fill="#3e2c38" opacity="0.74"/>
<circle cx="160.85" cy="431.60" r="0.44" fill="#3e2c38" opacity="0.69"/>
<circle cx="149.50" cy="414.70" r="0.50" fill="#3e2c38" opacity="0.74"/>
<circle cx="148.63" cy="437.15" r="0.50" fill="#3e2c38" opacity="0.48"/>
<circle cx="160.28" cy="438.91" r="0.42" fill="#3e2c38" opacity="0.70"/>
<circle cx="152.03" cy="427.86" r="0.34" fill="#3e2c38" opacity="0.42"/>
<circle cx="149.85" cy="434.25" r="0.53" fill="#3e2c38" opacity="0.44"/>
<circle cx="144.52" cy="433.19" r="0.65" fill="#3e2c38" opacity="0.53"/>
<circle cx="167.73" cy="433.38" r="0.64" fill="#3e2c38" opacity="0.37"/>
<circle cx="160.58" cy="419.81" r="0.62" fill="#3e2c38" opacity="0.60"/>
<circle cx="142.86" cy="418.66" r="0.31" fill="#3e2c38" opacity="0.39"/>
<circle cx="153.48" cy="429.64" r="0.38" fill="#3e2c38" opacity="0.37"/>
<circle cx="159.03" cy="434.33" r="0.36" fill="#3e2c38" opacity="0.37"/>
<circle cx="167.33" cy="424.93" r="0.62" fill="#3e2c38" opacity="0.38"/>
<circle cx="139.66" cy="420.56" r="0.45" fill="#3e2c38" opacity="0.55"/>
<circle cx="164.00" cy="418.78" r="0.50" fill="#3e2c38" opacity="0.46"/>
<circle cx="151.42" cy="415.49" r="0.40" fill="#3e2c38" opacity="0.53"/>
<circle cx="150.40" cy="422.71" r="0.44" fill="#3e2c38" opacity="0.57"/>
<circle cx="142.59" cy="439.89" r="0.41" fill="#3e2c38" opacity="0.54"/>
<circle cx="153.43" cy="426.99" r="0.42" fill="#3e2c38" opacity="0.43"/>
<circle cx="137.54" cy="424.33" r="0.44" fill="#3e2c38" opacity="0.72"/>
<circle cx="160.73" cy="442.04" r="0.41" fill="#3e2c38" opacity="0.48"/>
<circle cx="150.75" cy="443.49" r="0.38" fill="#3e2c38" opacity="0.37"/>
<circle cx="163.69" cy="430.33" r="0.51" fill="#3e2c38" opacity="0.49"/>
<circle cx="146.70" cy="419.79" r="0.59" fill="#3e2c38" opacity="0.49"/>
<circle cx="153.47" cy="418.02" r="0.65" fill="#3e2c38" opacity="0.62"/>
<circle cx="161.26" cy="424.98" r="0.53" fill="#3e2c38" opacity="0.41"/>
<circle cx="156.10" cy="440.18" r="0.40" fill="#3e2c38" opacity="0.69"/>
<circle cx="164.65" cy="437.00" r="0.62" fill="#3e2c38" opacity="0.75"/>
<circle cx="151.18" cy="440.85" r="0.52" fill="#3e2c38" opacity="0.63"/>
<circle cx="149.10" cy="430.93" r="0.44" fill="#3e2c38" opacity="0.57"/>
<circle cx="159.41" cy="434.99" r="0.65" fill="#3e2c38" opacity="0.41"/>
<circle cx="156.97" cy="422.78" r="0.52" fill="#3e2c38" opacity="0.39"/>
<circle cx="160.25" cy="418.50" r="0.40" fill="#3e2c38" opacity="0.49"/>
<circle cx="146.04" cy="437.48" r="0.51" fill="#3e2c38" opacity="0.61"/>
<circle cx="166.01" cy="429.37" r="0.65" fill="#3e2c38" opacity="0.50"/>
<circle cx="149.19" cy="439.28" r="0.58" fill="#3e2c38" opacity="0.52"/>
<circle cx="147.83" cy="433.45" r="0.59" fill="#3e2c38" opacity="0.48"/>
<circle cx="164.25" cy="426.50" r="0.38" fill="#3e2c38" opacity="0.48"/>
<circle cx="167.30" cy="426.20" r="0.63" fill="#3e2c38" opacity="0.36"/>
<circle cx="151.98" cy="443.77" r="0.40" fill="#3e2c38" opacity="0.56"/>
<circle cx="148.01" cy="439.90" r="0.45" fill="#3e2c38" opacity="0.68"/>
<circle cx="151.22" cy="419.26" r="0.46" fill="#3e2c38" opacity="0.37"/>
<circle cx="148.15" cy="419.90" r="0.30" fill="#3e2c38" opacity="0.38"/>
<circle cx="153.82" cy="438.09" r="0.48" fill="#3e2c38" opacity="0.61"/>
<circle cx="157.29" cy="426.53" r="0.37" fill="#3e2c38" opacity="0.52"/>
<circle cx="141.48" cy="436.71" r="0.61" fill="#3e2c38" opacity="0.58"/>
<circle cx="147.78" cy="416.27" r="0.33" fill="#3e2c38" opacity="0.50"/>
<circle cx="150.34" cy="431.32" r="0.41" fill="#3e2c38" opacity="0.42"/>
<circle cx="148.31" cy="422.41" r="0.42" fill="#3e2c38" opacity="0.72"/>
<circle cx="136.90" cy="427.92" r="0.52" fill="#3e2c38" opacity="0.56"/>
<circle cx="155.12" cy="423.10" r="0.61" fill="#3e2c38" opacity="0.51"/>
<circle cx="163.16" cy="432.99" r="0.34" fill="#3e2c38" opacity="0.58"/>
<circle cx="143.67" cy="419.13" r="0.54" fill="#3e2c38" opacity="0.35"/>
<circle cx="165.63" cy="429.03" r="0.49" fill="#3e2c38" opacity="0.72"/>
<circle cx="149.41" cy="431.19" r="0.31" fill="#3e2c38" opacity="0.36"/>
<circle cx="158.79" cy="440.98" r="0.50" fill="#3e2c38" opacity="0.70"/>
<circle cx="161.11" cy="422.25" r="0.35" fill="#3e2c38" opacity="0.43"/>
<circle cx="148.56" cy="425.80" r="0.48" fill="#3e2c38" opacity="0.55"/>
<circle cx="155.96" cy="429.42" r="0.63" fill="#3e2c38" opacity="0.55"/>
<circle cx="143.15" cy="430.76" r="0.58" fill="#3e2c38" opacity="0.61"/>
<circle cx="147.99" cy="418.24" r="0.35" fill="#3e2c38" opacity="0.45"/>
<circle cx="152.27" cy="430.84" r="0.52" fill="#3e2c38" opacity="0.69"/>
<circle cx="155.48" cy="427.82" r="0.37" fill="#3e2c38" opacity="0.60"/>
<circle cx="159.00" cy="429.59" r="0.44" fill="#3e2c38" opacity="0.66"/>
<circle cx="155.29" cy="429.56" r="0.38" fill="#3e2c38" opacity="0.44"/>
<circle cx="158.86" cy="438.59" r="0.36" fill="#3e2c38" opacity="0.35"/>
<circle cx="159.29" cy="421.40" r="0.45" fill="#3e2c38" opacity="0.45"/>
<circle cx="164.57" cy="418.49" r="0.32" fill="#3e2c38" opacity="0.62"/>
<circle cx="147.33" cy="418.47" r="0.44" fill="#3e2c38" opacity="0.51"/>
<circle cx="152.21" cy="427.21" r="0.60" fill="#3e2c38" opacity="0.38"/>
<circle cx="156.91" cy="436.63" r="0.30" fill="#3e2c38" opacity="0.70"/>
<circle cx="145.68" cy="434.09" r="0.42" fill="#3e2c38" opacity="0.70"/>
<circle cx="146.24" cy="439.41" r="0.64" fill="#3e2c38" opacity="0.52"/>
<circle cx="162.19" cy="422.97" r="0.44" fill="#3e2c38" opacity="0.54"/>
<circle cx="147.16" cy="436.86" r="0.40" fill="#3e2c38" opacity="0.36"/>
<circle cx="154.91" cy="422.38" r="0.35" fill="#3e2c38" opacity="0.43"/>
<circle cx="139.28" cy="424.94" r="0.49" fill="#3e2c38" opacity="0.54"/>
<circle cx="154.49" cy="422.27" r="0.43" fill="#3e2c38" opacity="0.44"/>
<circle cx="142.57" cy="435.60" r="0.50" fill="#3e2c38" opacity="0.47"/>
<circle cx="146.50" cy="429.73" r="0.60" fill="#3e2c38" opacity="0.62"/>
<circle cx="167.53" cy="423.11" r="0.51" fill="#3e2c38" opacity="0.53"/>
<circle cx="163.57" cy="428.11" r="0.44" fill="#3e2c38" opacity="0.55"/>
<circle cx="162.09" cy="438.36" r="0.54" fill="#3e2c38" opacity="0.39"/>
<circle cx="160.55" cy="418.12" r="0.57" fill="#3e2c38" opacity="0.36"/>
<circle cx="151.60" cy="423.88" r="0.31" fill="#3e2c38" opacity="0.63"/>
<circle cx="147.92" cy="415.88" r="0.38" fill="#3e2c38" opacity="0.43"/>
<circle cx="155.08" cy="426.79" r="0.62" fill="#3e2c38" opacity="0.67"/>
<circle cx="152.92" cy="422.85" r="0.55" fill="#3e2c38" opacity="0.39"/>
<circle cx="149.20" cy="442.56" r="0.44" fill="#3e2c38" opacity="0.49"/>
<circle cx="158.24" cy="420.42" r="0.52" fill="#3e2c38" opacity="0.60"/>
<circle cx="162.64" cy="417.14" r="0.36" fill="#3e2c38" opacity="0.50"/>
<circle cx="156.51" cy="416.60" r="0.61" fill="#3e2c38" opacity="0.36"/>
<circle cx="149.72" cy="419.15" r="0.65" fill="#3e2c38" opacity="0.51"/>
<circle cx="155.89" cy="426.59" r="0.40" fill="#3e2c38" opacity="0.46"/>
<circle cx="147.61" cy="424.73" r="0.54" fill="#3e2c38" opacity="0.51"/>
<circle cx="145.11" cy="422.72" r="0.56" fill="#3e2c38" opacity="0.41"/>
<circle cx="151.78" cy="417.62" r="0.52" fill="#3e2c38" opacity="0.73"/>
<circle cx="146.55" cy="426.20" r="0.47" fill="#3e2c38" opacity="0.56"/>
<circle cx="163.84" cy="423.14" r="0.50" fill="#3e2c38" opacity="0.72"/>
<circle cx="162.98" cy="437.60" r="0.53" fill="#3e2c38" opacity="0.71"/>
<circle cx="160.81" cy="420.60" r="0.54" fill="#3e2c38" opacity="0.74"/>
<circle cx="151.67" cy="426.79" r="0.41" fill="#3e2c38" opacity="0.66"/>
<circle cx="144.03" cy="441.30" r="0.45" fill="#3e2c38" opacity="0.65"/>
<circle cx="164.56" cy="428.66" r="0.38" fill="#3e2c38" opacity="0.56"/>
<circle cx="143.56" cy="441.40" r="0.45" fill="#3e2c38" opacity="0.49"/>
<circle cx="139.81" cy="428.55" r="0.59" fill="#3e2c38" opacity="0.60"/>
<circle cx="139.96" cy="428.11" r="0.37" fill="#3e2c38" opacity="0.62"/>
<circle cx="160.45" cy="417.49" r="0.47" fill="#3e2c38" opacity="0.43"/>
<circle cx="166.22" cy="424.59" r="0.50" fill="#3e2c38" opacity="0.42"/>
<circle cx="159.72" cy="440.61" r="0.38" fill="#3e2c38" opacity="0.45"/>
<circle cx="157.94" cy="427.56" r="0.42" fill="#3e2c38" opacity="0.39"/>
<circle cx="149.42" cy="425.13" r="0.54" fill="#3e2c38" opacity="0.54"/>
<circle cx="139.70" cy="430.20" r="0.30" fill="#3e2c38" opacity="0.63"/>
<circle cx="160.81" cy="437.89" r="0.54" fill="#3e2c38" opacity="0.40"/>
<circle cx="149.55" cy="417.58" r="0.38" fill="#3e2c38" opacity="0.60"/>
<circle cx="159.66" cy="435.26" r="0.63" fill="#3e2c38" opacity="0.62"/>
<circle cx="161.50" cy="441.86" r="0.59" fill="#3e2c38" opacity="0.51"/>
<circle cx="156.07" cy="441.13" r="0.30" fill="#3e2c38" opacity="0.54"/>
<circle cx="167.02" cy="432.83" r="0.41" fill="#3e2c38" opacity="0.39"/>
<circle cx="146.94" cy="443.38" r="0.36" fill="#3e2c38" opacity="0.53"/>
<circle cx="145.70" cy="425.60" r="0.50" fill="#3e2c38" opacity="0.37"/>
<circle cx="137.10" cy="431.91" r="0.47" fill="#3e2c38" opacity="0.65"/>
<circle cx="146.04" cy="440.42" r="0.39" fill="#3e2c38" opacity="0.61"/>
<circle cx="162.63" cy="426.01" r="0.57" fill="#3e2c38" opacity="0.48"/>
<circle cx="150.19" cy="431.74" r="0.40" fill="#3e2c38" opacity="0.60"/>
<circle cx="151.03" cy="415.98" r="0.53" fill="#3e2c38" opacity="0.38"/>
<circle cx="152.57" cy="427.04" r="0.44" fill="#3e2c38" opacity="0.41"/>
<circle cx="142.05" cy="440.34" r="0.48" fill="#3e2c38" opacity="0.71"/>
<circle cx="150.91" cy="425.09" r="0.55" fill="#3e2c38" opacity="0.47"/>
<circle cx="145.96" cy="422.81" r="0.53" fill="#3e2c38" opacity="0.49"/>
<circle cx="153.20" cy="433.60" r="0.62" fill="#3e2c38" opacity="0.69"/>
<circle cx="152.54" cy="431.69" r="0.34" fill="#3e2c38" opacity="0.67"/>
<circle cx="166.67" cy="421.19" r="0.44" fill="#3e2c38" opacity="0.37"/>
<circle cx="154.60" cy="438.14" r="0.56" fill="#3e2c38" opacity="0.75"/>
<circle cx="142.94" cy="421.54" r="0.35" fill="#3e2c38" opacity="0.44"/>
<circle cx="160.48" cy="438.12" r="0.44" fill="#3e2c38" opacity="0.74"/>
<circle cx="158.69" cy="420.50" r="0.38" fill="#3e2c38" opacity="0.50"/>
<circle cx="164.26" cy="431.18" r="0.59" fill="#3e2c38" opacity="0.55"/>
<circle cx="154.65" cy="431.38" r="0.32" fill="#3e2c38" opacity="0.63"/>
<circle cx="154.95" cy="426.87" r="0.30" fill="#3e2c38" opacity="0.73"/>
<circle cx="158.49" cy="440.60" r="0.43" fill="#3e2c38" opacity="0.35"/>
<circle cx="156.82" cy="416.88" r="0.50" fill="#3e2c38" opacity="0.54"/>
<circle cx="142.22" cy="425.94" r="0.45" fill="#3e2c38" opacity="0.56"/>
<circle cx="148.93" cy="425.10" r="0.44" fill="#3e2c38" opacity="0.59"/>
<circle cx="164.89" cy="435.70" r="0.55" fill="#3e2c38" opacity="0.48"/>
<circle cx="146.42" cy="419.27" r="0.45" fill="#3e2c38" opacity="0.50"/>
<circle cx="149.91" cy="424.76" r="0.60" fill="#3e2c38" opacity="0.56"/>
<circle cx="142.93" cy="418.00" r="0.38" fill="#3e2c38" opacity="0.65"/>
<circle cx="150.78" cy="424.08" r="0.50" fill="#3e2c38" opacity="0.57"/>
<circle cx="160.72" cy="425.77" r="0.38" fill="#3e2c38" opacity="0.53"/>
<circle cx="152.14" cy="435.36" r="0.64" fill="#3e2c38" opacity="0.43"/>
<circle cx="152.59" cy="422.33" r="0.59" fill="#3e2c38" opacity="0.61"/>
<circle cx="157.41" cy="440.43" r="0.55" fill="#3e2c38" opacity="0.44"/>
<circle cx="141.91" cy="431.68" r="0.54" fill="#3e2c38" opacity="0.64"/>
<circle cx="162.18" cy="422.66" r="0.60" fill="#3e2c38" opacity="0.62"/>
<circle cx="154.09" cy="424.24" r="0.48" fill="#3e2c38" opacity="0.55"/>
<circle cx="160.78" cy="415.64" r="0.52" fill="#3e2c38" opacity="0.73"/>
<circle cx="142.60" cy="427.85" r="0.54" fill="#3e2c38" opacity="0.57"/>
<circle cx="158.42" cy="427.61" r="0.47" fill="#3e2c38" opacity="0.39"/>
<circle cx="144.20" cy="437.37" r="0.44" fill="#3e2c38" opacity="0.37"/>
<circle cx="165.10" cy="432.15" r="0.63" fill="#3e2c38" opacity="0.53"/>
<circle cx="156.11" cy="432.11" r="0.62" fill="#3e2c38" opacity="0.39"/>
<circle cx="158.71" cy="428.36" r="0.34" fill="#3e2c38" opacity="0.64"/>
<circle cx="147.24" cy="435.74" r="0.59" fill="#3e2c38" opacity="0.67"/>
<circle cx="152.50" cy="427.70" r="0.39" fill="#3e2c38" opacity="0.45"/>
<circle cx="141.77" cy="427.90" r="0.42" fill="#3e2c38" opacity="0.55"/>
<circle cx="156.08" cy="420.97" r="0.42" fill="#3e2c38" opacity="0.48"/>
<circle cx="150.92" cy="427.53" r="0.62" fill="#3e2c38" opacity="0.45"/>
<circle cx="144.77" cy="438.99" r="0.31" fill="#3e2c38" opacity="0.75"/>
<circle cx="139.68" cy="433.93" r="0.47" fill="#3e2c38" opacity="0.38"/>
<circle cx="152.33" cy="433.92" r="0.63" fill="#3e2c38" opacity="0.70"/>
<circle cx="145.64" cy="416.22" r="0.51" fill="#3e2c38" opacity="0.45"/>
<circle cx="166.18" cy="428.57" r="0.39" fill="#3e2c38" opacity="0.53"/>
<circle cx="168.35" cy="431.27" r="0.47" fill="#3e2c38" opacity="0.54"/>
<circle cx="166.70" cy="431.64" r="0.33" fill="#3e2c38" opacity="0.60"/>
<circle cx="145.36" cy="419.51" r="0.60" fill="#3e2c38" opacity="0.74"/>
<circle cx="149.13" cy="419.54" r="0.38" fill="#3e2c38" opacity="0.73"/>
<circle cx="143.97" cy="427.87" r="0.48" fill="#3e2c38" opacity="0.47"/>
<circle cx="160.81" cy="437.64" r="0.37" fill="#3e2c38" opacity="0.68"/>
<circle cx="151.42" cy="420.64" r="0.46" fill="#3e2c38" opacity="0.72"/>
<circle cx="149.33" cy="436.44" r="0.47" fill="#3e2c38" opacity="0.44"/>
<circle cx="152.72" cy="443.58" r="0.51" fill="#3e2c38" opacity="0.60"/>
<circle cx="151.88" cy="423.86" r="0.43" fill="#3e2c38" opacity="0.38"/>
<circle cx="161.21" cy="428.33" r="0.50" fill="#3e2c38" opacity="0.58"/>
<circle cx="160.88" cy="438.69" r="0.62" fill="#3e2c38" opacity="0.71"/>
<circle cx="157.62" cy="432.22" r="0.45" fill="#3e2c38" opacity="0.58"/>
<circle cx="163.90" cy="436.90" r="0.58" fill="#3e2c38" opacity="0.45"/>
<circle cx="154.03" cy="424.07" r="0.33" fill="#3e2c38" opacity="0.74"/>
<circle cx="147.87" cy="436.11" r="0.60" fill="#3e2c38" opacity="0.45"/>
<circle cx="161.73" cy="419.42" r="0.42" fill="#3e2c38" opacity="0.63"/>
<circle cx="145.59" cy="415.70" r="0.57" fill="#3e2c38" opacity="0.55"/>
<circle cx="163.69" cy="420.11" r="0.65" fill="#3e2c38" opacity="0.41"/>
<circle cx="156.73" cy="443.12" r="0.53" fill="#3e2c38" opacity="0.51"/>
<circle cx="141.72" cy="437.13" r="0.63" fill="#3e2c38" opacity="0.58"/>
<circle cx="160.73" cy="439.12" r="0.39" fill="#3e2c38" opacity="0.58"/>
<circle cx="144.11" cy="415.63" r="0.33" fill="#3e2c38" opacity="0.43"/>
<circle cx="162.93" cy="423.52" r="0.41" fill="#3e2c38" opacity="0.49"/>
<circle cx="137.20" cy="431.95" r="0.54" fill="#3e2c38" opacity="0.64"/>
<circle cx="165.30" cy="422.02" r="0.41" fill="#3e2c38" opacity="0.42"/>
<circle cx="161.51" cy="422.13" r="0.57" fill="#3e2c38" opacity="0.60"/>
<circle cx="152.73" cy="430.33" r="0.32" fill="#3e2c38" opacity="0.53"/>
<circle cx="158.46" cy="424.13" r="0.48" fill="#3e2c38" opacity="0.39"/>
<circle cx="152.75" cy="431.66" r="0.35" fill="#3e2c38" opacity="0.37"/>
<circle cx="165.28" cy="435.11" r="0.50" fill="#3e2c38" opacity="0.64"/>
<circle cx="159.90" cy="429.03" r="0.52" fill="#3e2c38" opacity="0.36"/>
<circle cx="151.78" cy="430.46" r="0.41" fill="#3e2c38" opacity="0.70"/>
<circle cx="162.83" cy="430.56" r="0.51" fill="#3e2c38" opacity="0.67"/>
<circle cx="159.29" cy="441.83" r="0.58" fill="#3e2c38" opacity="0.38"/>
<circle cx="142.17" cy="419.86" r="0.65" fill="#3e2c38" opacity="0.51"/>
<circle cx="166.32" cy="423.39" r="0.31" fill="#3e2c38" opacity="0.48"/>
<circle cx="148.08" cy="422.23" r="0.45" fill="#3e2c38" opacity="0.63"/>
<circle cx="155.28" cy="424.27" r="0.31" fill="#3e2c38" opacity="0.43"/>
<circle cx="138.43" cy="426.14" r="0.43" fill="#3e2c38" opacity="0.49"/>
<circle cx="145.52" cy="439.34" r="0.60" fill="#3e2c38" opacity="0.41"/>
<circle cx="164.00" cy="427.46" r="0.38" fill="#3e2c38" opacity="0.60"/>
<circle cx="156.59" cy="419.34" r="0.31" fill="#3e2c38" opacity="0.61"/>
<circle cx="146.13" cy="419.70" r="0.55" fill="#3e2c38" opacity="0.57"/>
<circle cx="145.56" cy="437.16" r="0.40" fill="#3e2c38" opacity="0.45"/>
<circle cx="148.85" cy="427.37" r="0.58" fill="#3e2c38" opacity="0.74"/>
<circle cx="159.68" cy="438.63" r="0.44" fill="#3e2c38" opacity="0.74"/>
<circle cx="163.73" cy="424.14" r="0.34" fill="#3e2c38" opacity="0.57"/>
<circle cx="156.44" cy="442.01" r="0.39" fill="#3e2c38" opacity="0.59"/>
<circle cx="151.43" cy="413.80" r="0.60" fill="#3e2c38" opacity="0.69"/>
<circle cx="154.58" cy="418.07" r="0.42" fill="#3e2c38" opacity="0.63"/>
<circle cx="138.96" cy="434.05" r="0.37" fill="#3e2c38" opacity="0.71"/>
<circle cx="159.98" cy="423.51" r="0.37" fill="#3e2c38" opacity="0.67"/>
<circle cx="164.90" cy="430.86" r="0.31" fill="#3e2c38" opacity="0.67"/>
<circle cx="163.42" cy="422.28" r="0.42" fill="#3e2c38" opacity="0.44"/>
<circle cx="141.86" cy="439.40" r="0.43" fill="#3e2c38" opacity="0.61"/>
<circle cx="153.86" cy="427.28" r="0.31" fill="#3e2c38" opacity="0.63"/>
<circle cx="153.04" cy="437.37" r="0.41" fill="#3e2c38" opacity="0.52"/>
<circle cx="149.94" cy="443.37" r="0.47" fill="#3e2c38" opacity="0.74"/>
<circle cx="155.21" cy="418.87" r="0.63" fill="#3e2c38" opacity="0.66"/>
<circle cx="157.25" cy="427.43" r="0.41" fill="#3e2c38" opacity="0.39"/>
<circle cx="167.33" cy="429.16" r="0.39" fill="#3e2c38" opacity="0.48"/>
<circle cx="140.61" cy="418.85" r="0.37" fill="#3e2c38" opacity="0.37"/>
<circle cx="155.52" cy="414.57" r="0.56" fill="#3e2c38" opacity="0.37"/>
<circle cx="154.06" cy="419.15" r="0.45" fill="#3e2c38" opacity="0.41"/>
<circle cx="164.34" cy="423.82" r="0.58" fill="#3e2c38" opacity="0.41"/>
<circle cx="156.68" cy="426.31" r="0.41" fill="#3e2c38" opacity="0.55"/>
<circle cx="144.56" cy="439.62" r="0.46" fill="#3e2c38" opacity="0.51"/>
<circle cx="142.07" cy="435.10" r="0.53" fill="#3e2c38" opacity="0.51"/>
<circle cx="144.93" cy="441.65" r="0.50" fill="#3e2c38" opacity="0.43"/>
<circle cx="151.69" cy="427.86" r="0.35" fill="#3e2c38" opacity="0.59"/>
<circle cx="141.10" cy="422.95" r="0.55" fill="#3e2c38" opacity="0.37"/>
<circle cx="155.03" cy="426.89" r="0.34" fill="#3e2c38" opacity="0.73"/>
<circle cx="163.29" cy="426.80" r="0.30" fill="#3e2c38" opacity="0.44"/>
<circle cx="140.83" cy="425.74" r="0.49" fill="#3e2c38" opacity="0.75"/>
<circle cx="138.45" cy="426.11" r="0.64" fill="#3e2c38" opacity="0.38"/>
<circle cx="166.90" cy="426.12" r="0.64" fill="#3e2c38" opacity="0.44"/>
<circle cx="164.24" cy="434.49" r="0.31" fill="#3e2c38" opacity="0.46"/>
<circle cx="158.49" cy="427.53" r="0.32" fill="#3e2c38" opacity="0.67"/>
<circle cx="159.52" cy="426.64" r="0.41" fill="#3e2c38" opacity="0.37"/>
<circle cx="145.43" cy="430.95" r="0.42" fill="#3e2c38" opacity="0.51"/>
<circle cx="166.00" cy="428.24" r="0.39" fill="#3e2c38" opacity="0.52"/>
<circle cx="143.89" cy="426.56" r="0.35" fill="#3e2c38" opacity="0.65"/>
<circle cx="162.93" cy="419.30" r="0.61" fill="#3e2c38" opacity="0.60"/>
<circle cx="153.32" cy="439.34" r="0.65" fill="#3e2c38" opacity="0.63"/>
<circle cx="150.61" cy="413.01" r="0.59" fill="#3e2c38" opacity="0.62"/>
<circle cx="162.88" cy="435.04" r="0.31" fill="#3e2c38" opacity="0.64"/>
<circle cx="143.24" cy="435.09" r="0.54" fill="#3e2c38" opacity="0.53"/>
<circle cx="147.68" cy="420.11" r="0.50" fill="#3e2c38" opacity="0.54"/>
<circle cx="146.48" cy="420.67" r="0.42" fill="#3e2c38" opacity="0.57"/>
<circle cx="142.21" cy="438.57" r="0.58" fill="#3e2c38" opacity="0.70"/>
<circle cx="150.71" cy="431.23" r="0.64" fill="#3e2c38" opacity="0.46"/>
<circle cx="144.92" cy="416.77" r="0.33" fill="#3e2c38" opacity="0.67"/>
<circle cx="144.77" cy="415.70" r="0.57" fill="#3e2c38" opacity="0.45"/>
<circle cx="160.50" cy="416.53" r="0.42" fill="#3e2c38" opacity="0.59"/>
<circle cx="138.16" cy="421.93" r="0.32" fill="#3e2c38" opacity="0.65"/>
<circle cx="148.54" cy="433.46" r="0.36" fill="#3e2c38" opacity="0.50"/>
<circle cx="150.21" cy="424.21" r="0.53" fill="#3e2c38" opacity="0.42"/>
<circle cx="166.38" cy="424.07" r="0.53" fill="#3e2c38" opacity="0.71"/>
<circle cx="148.80" cy="436.62" r="0.60" fill="#3e2c38" opacity="0.52"/>
<circle cx="141.67" cy="435.74" r="0.43" fill="#3e2c38" opacity="0.50"/>
<circle cx="146.97" cy="419.54" r="0.41" fill="#3e2c38" opacity="0.61"/>
<circle cx="151.41" cy="436.33" r="0.46" fill="#3e2c38" opacity="0.39"/>
<circle cx="143.81" cy="418.88" r="0.36" fill="#3e2c38" opacity="0.56"/>
<circle cx="157.31" cy="428.98" r="0.47" fill="#3e2c38" opacity="0.61"/>
<circle cx="144.82" cy="421.24" r="0.58" fill="#3e2c38" opacity="0.45"/>
<circle cx="152.39" cy="428.72" r="0.39" fill="#3e2c38" opacity="0.59"/>
<circle cx="148.73" cy="439.22" r="0.62" fill="#3e2c38" opacity="0.45"/>
<circle cx="151.66" cy="438.51" r="0.48" fill="#3e2c38" opacity="0.55"/>
<circle cx="156.56" cy="431.27" r="0.64" fill="#3e2c38" opacity="0.47"/>
<circle cx="155.55" cy="413.86" r="0.55" fill="#3e2c38" opacity="0.50"/>
<circle cx="165.63" cy="432.30" r="0.64" fill="#3e2c38" opacity="0.52"/>
<circle cx="147.08" cy="424.38" r="0.38" fill="#3e2c38" opacity="0.69"/>
<circle cx="160.84" cy="437.52" r="0.64" fill="#3e2c38" opacity="0.69"/>
<circle cx="149.92" cy="427.32" r="0.37" fill="#3e2c38" opacity="0.69"/>
<circle cx="153.00" cy="429.30" r="11.88" fill="url(#hc3)"/>
<circle cx="153.00" cy="429.30" r="4.59" fill="#2a2020" opacity="0.85"/>
</g>
</g>
<g clip-path="url(#clipc4)">
<rect x="178.6" y="403.8" width="50.40" height="50.00" fill="url(#gc4)"/>
<g filter="url(#soft)">
<circle cx="212.43" cy="433.54" r="0.44" fill="#3e2c38" opacity="0.52"/>
<circle cx="215.09" cy="423.98" r="0.58" fill="#3e2c38" opacity="0.39"/>
<circle cx="189.64" cy="422.83" r="0.55" fill="#3e2c38" opacity="0.52"/>
<circle cx="209.44" cy="428.62" r="0.32" fill="#3e2c38" opacity="0.51"/>
<circle cx="212.71" cy="438.94" r="0.30" fill="#3e2c38" opacity="0.44"/>
<circle cx="207.21" cy="439.34" r="0.62" fill="#3e2c38" opacity="0.47"/>
<circle cx="199.43" cy="436.73" r="0.46" fill="#3e2c38" opacity="0.39"/>
<circle cx="210.40" cy="419.46" r="0.31" fill="#3e2c38" opacity="0.55"/>
<circle cx="207.49" cy="423.60" r="0.46" fill="#3e2c38" opacity="0.68"/>
<circle cx="206.38" cy="436.70" r="0.60" fill="#3e2c38" opacity="0.57"/>
<circle cx="203.61" cy="414.35" r="0.35" fill="#3e2c38" opacity="0.51"/>
<circle cx="215.29" cy="432.54" r="0.41" fill="#3e2c38" opacity="0.43"/>
<circle cx="209.60" cy="428.15" r="0.49" fill="#3e2c38" opacity="0.56"/>
<circle cx="211.50" cy="433.46" r="0.53" fill="#3e2c38" opacity="0.47"/>
<circle cx="192.06" cy="437.93" r="0.54" fill="#3e2c38" opacity="0.47"/>
<circle cx="203.88" cy="437.76" r="0.45" fill="#3e2c38" opacity="0.57"/>
<circle cx="202.19" cy="433.26" r="0.37" fill="#3e2c38" opacity="0.61"/>
<circle cx="215.13" cy="423.68" r="0.55" fill="#3e2c38" opacity="0.41"/>
<circle cx="211.41" cy="425.24" r="0.46" fill="#3e2c38" opacity="0.63"/>
<circle cx="196.98" cy="417.45" r="0.30" fill="#3e2c38" opacity="0.38"/>
<circle cx="217.38" cy="424.52" r="0.31" fill="#3e2c38" opacity="0.44"/>
<circle cx="198.14" cy="431.08" r="0.37" fill="#3e2c38" opacity="0.74"/>
<circle cx="196.65" cy="422.83" r="0.55" fill="#3e2c38" opacity="0.43"/>
<circle cx="205.46" cy="434.28" r="0.60" fill="#3e2c38" opacity="0.40"/>
<circle cx="213.46" cy="440.04" r="0.59" fill="#3e2c38" opacity="0.55"/>
<circle cx="216.90" cy="429.97" r="0.56" fill="#3e2c38" opacity="0.42"/>
<circle cx="206.20" cy="441.72" r="0.56" fill="#3e2c38" opacity="0.67"/>
<circle cx="198.62" cy="427.66" r="0.57" fill="#3e2c38" opacity="0.64"/>
<circle cx="193.74" cy="427.77" r="0.37" fill="#3e2c38" opacity="0.39"/>
<circle cx="209.99" cy="430.83" r="0.59" fill="#3e2c38" opacity="0.63"/>
<circle cx="194.85" cy="432.19" r="0.60" fill="#3e2c38" opacity="0.72"/>
<circle cx="207.37" cy="432.76" r="0.46" fill="#3e2c38" opacity="0.65"/>
<circle cx="213.66" cy="418.91" r="0.55" fill="#3e2c38" opacity="0.64"/>
<circle cx="201.21" cy="435.41" r="0.49" fill="#3e2c38" opacity="0.44"/>
<circle cx="215.60" cy="424.60" r="0.38" fill="#3e2c38" opacity="0.74"/>
<circle cx="201.34" cy="433.44" r="0.40" fill="#3e2c38" opacity="0.61"/>
<circle cx="201.72" cy="423.11" r="0.35" fill="#3e2c38" opacity="0.42"/>
<circle cx="199.18" cy="436.82" r="0.31" fill="#3e2c38" opacity="0.49"/>
<circle cx="200.35" cy="423.55" r="0.53" fill="#3e2c38" opacity="0.56"/>
<circle cx="213.15" cy="433.41" r="0.31" fill="#3e2c38" opacity="0.66"/>
<circle cx="215.44" cy="419.10" r="0.37" fill="#3e2c38" opacity="0.46"/>
<circle cx="200.02" cy="439.75" r="0.56" fill="#3e2c38" opacity="0.43"/>
<circle cx="190.38" cy="431.32" r="0.57" fill="#3e2c38" opacity="0.71"/>
<circle cx="196.97" cy="425.11" r="0.50" fill="#3e2c38" opacity="0.39"/>
<circle cx="209.79" cy="428.85" r="0.35" fill="#3e2c38" opacity="0.47"/>
<circle cx="207.81" cy="436.32" r="0.47" fill="#3e2c38" opacity="0.48"/>
<circle cx="201.01" cy="432.00" r="0.59" fill="#3e2c38" opacity="0.67"/>
<circle cx="202.16" cy="418.96" r="0.56" fill="#3e2c38" opacity="0.40"/>
<circle cx="208.63" cy="436.56" r="0.31" fill="#3e2c38" opacity="0.37"/>
<circle cx="195.53" cy="424.31" r="0.54" fill="#3e2c38" opacity="0.52"/>
<circle cx="205.58" cy="425.88" r="0.55" fill="#3e2c38" opacity="0.64"/>
<circle cx="195.87" cy="438.46" r="0.33" fill="#3e2c38" opacity="0.35"/>
<circle cx="194.97" cy="417.45" r="0.41" fill="#3e2c38" opacity="0.45"/>
<circle cx="209.11" cy="433.00" r="0.35" fill="#3e2c38" opacity="0.46"/>
<circle cx="195.93" cy="426.72" r="0.39" fill="#3e2c38" opacity="0.58"/>
<circle cx="210.62" cy="430.65" r="0.63" fill="#3e2c38" opacity="0.46"/>
<circle cx="188.86" cy="423.39" r="0.62" fill="#3e2c38" opacity="0.64"/>
<circle cx="197.17" cy="427.33" r="0.33" fill="#3e2c38" opacity="0.39"/>
<circle cx="216.92" cy="433.40" r="0.55" fill="#3e2c38" opacity="0.43"/>
<circle cx="203.65" cy="425.11" r="0.36" fill="#3e2c38" opacity="0.69"/>
<circle cx="213.36" cy="428.69" r="0.52" fill="#3e2c38" opacity="0.39"/>
<circle cx="199.73" cy="426.89" r="0.53" fill="#3e2c38" opacity="0.44"/>
<circle cx="204.36" cy="442.52" r="0.48" fill="#3e2c38" opacity="0.68"/>
<circle cx="205.24" cy="425.80" r="0.42" fill="#3e2c38" opacity="0.39"/>
<circle cx="206.80" cy="442.18" r="0.36" fill="#3e2c38" opacity="0.47"/>
<circle cx="215.52" cy="435.63" r="0.51" fill="#3e2c38" opacity="0.42"/>
<circle cx="197.49" cy="442.77" r="0.58" fill="#3e2c38" opacity="0.36"/>
<circle cx="205.02" cy="423.86" r="0.48" fill="#3e2c38" opacity="0.42"/>
<circle cx="207.84" cy="415.73" r="0.37" fill="#3e2c38" opacity="0.72"/>
<circle cx="198.71" cy="416.82" r="0.32" fill="#3e2c38" opacity="0.35"/>
<circle cx="205.44" cy="427.27" r="0.48" fill="#3e2c38" opacity="0.48"/>
<circle cx="214.52" cy="433.77" r="0.32" fill="#3e2c38" opacity="0.70"/>
<circle cx="212.11" cy="431.52" r="0.44" fill="#3e2c38" opacity="0.61"/>
<circle cx="215.19" cy="426.73" r="0.58" fill="#3e2c38" opacity="0.55"/>
<circle cx="205.25" cy="418.39" r="0.39" fill="#3e2c38" opacity="0.63"/>
<circle cx="202.91" cy="431.39" r="0.46" fill="#3e2c38" opacity="0.67"/>
<circle cx="201.49" cy="423.89" r="0.44" fill="#3e2c38" opacity="0.61"/>
<circle cx="213.71" cy="424.71" r="0.56" fill="#3e2c38" opacity="0.59"/>
<circle cx="196.98" cy="418.74" r="0.32" fill="#3e2c38" opacity="0.66"/>
<circle cx="208.15" cy="416.05" r="0.60" fill="#3e2c38" opacity="0.45"/>
<circle cx="194.15" cy="422.88" r="0.61" fill="#3e2c38" opacity="0.58"/>
<circle cx="217.42" cy="422.73" r="0.32" fill="#3e2c38" opacity="0.62"/>
<circle cx="194.26" cy="436.22" r="0.57" fill="#3e2c38" opacity="0.49"/>
<circle cx="192.57" cy="439.48" r="0.38" fill="#3e2c38" opacity="0.62"/>
<circle cx="207.05" cy="416.72" r="0.62" fill="#3e2c38" opacity="0.52"/>
<circle cx="201.18" cy="436.12" r="0.51" fill="#3e2c38" opacity="0.73"/>
<circle cx="211.19" cy="421.71" r="0.44" fill="#3e2c38" opacity="0.47"/>
<circle cx="210.57" cy="437.62" r="0.33" fill="#3e2c38" opacity="0.51"/>
<circle cx="201.80" cy="429.24" r="0.42" fill="#3e2c38" opacity="0.75"/>
<circle cx="209.53" cy="442.57" r="0.44" fill="#3e2c38" opacity="0.57"/>
<circle cx="204.13" cy="435.18" r="0.52" fill="#3e2c38" opacity="0.50"/>
<circle cx="211.03" cy="423.30" r="0.42" fill="#3e2c38" opacity="0.41"/>
<circle cx="208.04" cy="436.22" r="0.59" fill="#3e2c38" opacity="0.70"/>
<circle cx="211.46" cy="426.86" r="0.41" fill="#3e2c38" opacity="0.70"/>
<circle cx="206.80" cy="417.33" r="0.60" fill="#3e2c38" opacity="0.74"/>
<circle cx="203.06" cy="429.40" r="0.60" fill="#3e2c38" opacity="0.39"/>
<circle cx="204.09" cy="440.16" r="0.53" fill="#3e2c38" opacity="0.64"/>
<circle cx="196.71" cy="414.62" r="0.56" fill="#3e2c38" opacity="0.65"/>
<circle cx="201.38" cy="424.64" r="0.56" fill="#3e2c38" opacity="0.45"/>
<circle cx="194.52" cy="434.21" r="0.42" fill="#3e2c38" opacity="0.46"/>
<circle cx="201.57" cy="436.33" r="0.55" fill="#3e2c38" opacity="0.62"/>
<circle cx="216.82" cy="423.44" r="0.32" fill="#3e2c38" opacity="0.61"/>
<circle cx="190.99" cy="429.34" r="0.31" fill="#3e2c38" opacity="0.70"/>
<circle cx="207.20" cy="425.91" r="0.43" fill="#3e2c38" opacity="0.47"/>
<circle cx="198.64" cy="428.39" r="0.51" fill="#3e2c38" opacity="0.53"/>
<circle cx="213.59" cy="425.50" r="0.30" fill="#3e2c38" opacity="0.72"/>
<circle cx="203.01" cy="434.61" r="0.62" fill="#3e2c38" opacity="0.55"/>
<circle cx="209.39" cy="428.72" r="0.51" fill="#3e2c38" opacity="0.74"/>
<circle cx="199.04" cy="423.90" r="0.57" fill="#3e2c38" opacity="0.36"/>
<circle cx="194.89" cy="426.01" r="0.33" fill="#3e2c38" opacity="0.73"/>
<circle cx="197.10" cy="420.76" r="0.64" fill="#3e2c38" opacity="0.49"/>
<circle cx="210.47" cy="424.13" r="0.59" fill="#3e2c38" opacity="0.55"/>
<circle cx="214.26" cy="432.08" r="0.61" fill="#3e2c38" opacity="0.43"/>
<circle cx="204.86" cy="425.99" r="0.41" fill="#3e2c38" opacity="0.56"/>
<circle cx="197.49" cy="415.08" r="0.51" fill="#3e2c38" opacity="0.74"/>
<circle cx="205.27" cy="420.26" r="0.54" fill="#3e2c38" opacity="0.46"/>
<circle cx="211.74" cy="422.34" r="0.52" fill="#3e2c38" opacity="0.72"/>
<circle cx="193.37" cy="436.07" r="0.43" fill="#3e2c38" opacity="0.48"/>
<circle cx="206.54" cy="418.97" r="0.34" fill="#3e2c38" opacity="0.72"/>
<circle cx="196.22" cy="421.43" r="0.44" fill="#3e2c38" opacity="0.41"/>
<circle cx="205.71" cy="427.26" r="0.40" fill="#3e2c38" opacity="0.56"/>
<circle cx="196.14" cy="416.50" r="0.44" fill="#3e2c38" opacity="0.38"/>
<circle cx="193.61" cy="437.05" r="0.44" fill="#3e2c38" opacity="0.67"/>
<circle cx="206.48" cy="425.18" r="0.46" fill="#3e2c38" opacity="0.35"/>
<circle cx="191.17" cy="426.21" r="0.41" fill="#3e2c38" opacity="0.59"/>
<circle cx="193.74" cy="441.00" r="0.61" fill="#3e2c38" opacity="0.70"/>
<circle cx="213.51" cy="435.52" r="0.59" fill="#3e2c38" opacity="0.68"/>
<circle cx="200.16" cy="413.92" r="0.36" fill="#3e2c38" opacity="0.42"/>
<circle cx="201.53" cy="415.61" r="0.34" fill="#3e2c38" opacity="0.51"/>
<circle cx="211.36" cy="417.15" r="0.59" fill="#3e2c38" opacity="0.51"/>
<circle cx="195.47" cy="428.81" r="0.60" fill="#3e2c38" opacity="0.63"/>
<circle cx="212.06" cy="439.23" r="0.44" fill="#3e2c38" opacity="0.72"/>
<circle cx="202.27" cy="434.94" r="0.54" fill="#3e2c38" opacity="0.72"/>
<circle cx="204.26" cy="429.00" r="0.50" fill="#3e2c38" opacity="0.44"/>
<circle cx="198.02" cy="431.41" r="0.56" fill="#3e2c38" opacity="0.66"/>
<circle cx="197.57" cy="415.66" r="0.35" fill="#3e2c38" opacity="0.44"/>
<circle cx="207.77" cy="423.31" r="0.34" fill="#3e2c38" opacity="0.46"/>
<circle cx="219.16" cy="432.08" r="0.63" fill="#3e2c38" opacity="0.50"/>
<circle cx="200.92" cy="440.79" r="0.61" fill="#3e2c38" opacity="0.50"/>
<circle cx="214.17" cy="420.88" r="0.57" fill="#3e2c38" opacity="0.59"/>
<circle cx="191.95" cy="428.12" r="0.62" fill="#3e2c38" opacity="0.47"/>
<circle cx="196.54" cy="437.60" r="0.61" fill="#3e2c38" opacity="0.38"/>
<circle cx="214.46" cy="430.37" r="0.34" fill="#3e2c38" opacity="0.73"/>
<circle cx="205.78" cy="438.61" r="0.57" fill="#3e2c38" opacity="0.53"/>
<circle cx="188.02" cy="428.47" r="0.51" fill="#3e2c38" opacity="0.59"/>
<circle cx="214.60" cy="431.02" r="0.46" fill="#3e2c38" opacity="0.54"/>
<circle cx="199.59" cy="443.59" r="0.64" fill="#3e2c38" opacity="0.56"/>
<circle cx="205.19" cy="439.97" r="0.59" fill="#3e2c38" opacity="0.46"/>
<circle cx="215.16" cy="426.92" r="0.55" fill="#3e2c38" opacity="0.44"/>
<circle cx="210.36" cy="441.29" r="0.39" fill="#3e2c38" opacity="0.50"/>
<circle cx="210.86" cy="426.73" r="0.33" fill="#3e2c38" opacity="0.39"/>
<circle cx="191.79" cy="438.69" r="0.44" fill="#3e2c38" opacity="0.62"/>
<circle cx="205.86" cy="426.91" r="0.43" fill="#3e2c38" opacity="0.56"/>
<circle cx="199.97" cy="422.95" r="0.52" fill="#3e2c38" opacity="0.58"/>
<circle cx="189.54" cy="435.37" r="0.61" fill="#3e2c38" opacity="0.60"/>
<circle cx="208.15" cy="439.94" r="0.34" fill="#3e2c38" opacity="0.42"/>
<circle cx="204.01" cy="425.39" r="0.61" fill="#3e2c38" opacity="0.36"/>
<circle cx="206.18" cy="415.11" r="0.56" fill="#3e2c38" opacity="0.66"/>
<circle cx="207.88" cy="441.69" r="0.59" fill="#3e2c38" opacity="0.47"/>
<circle cx="204.17" cy="427.18" r="0.56" fill="#3e2c38" opacity="0.60"/>
<circle cx="212.34" cy="429.65" r="0.45" fill="#3e2c38" opacity="0.68"/>
<circle cx="195.34" cy="418.36" r="0.49" fill="#3e2c38" opacity="0.57"/>
<circle cx="195.90" cy="420.64" r="0.41" fill="#3e2c38" opacity="0.49"/>
<circle cx="214.33" cy="437.00" r="0.54" fill="#3e2c38" opacity="0.52"/>
<circle cx="216.64" cy="431.20" r="0.57" fill="#3e2c38" opacity="0.49"/>
<circle cx="209.28" cy="422.01" r="0.61" fill="#3e2c38" opacity="0.54"/>
<circle cx="211.04" cy="432.94" r="0.41" fill="#3e2c38" opacity="0.71"/>
<circle cx="218.15" cy="426.64" r="0.48" fill="#3e2c38" opacity="0.45"/>
<circle cx="197.23" cy="434.31" r="0.53" fill="#3e2c38" opacity="0.73"/>
<circle cx="206.40" cy="435.76" r="0.59" fill="#3e2c38" opacity="0.56"/>
<circle cx="205.82" cy="415.75" r="0.36" fill="#3e2c38" opacity="0.71"/>
<circle cx="199.30" cy="430.69" r="0.34" fill="#3e2c38" opacity="0.64"/>
<circle cx="201.98" cy="428.44" r="0.58" fill="#3e2c38" opacity="0.74"/>
<circle cx="215.62" cy="435.90" r="0.37" fill="#3e2c38" opacity="0.58"/>
<circle cx="216.31" cy="421.28" r="0.42" fill="#3e2c38" opacity="0.57"/>
<circle cx="190.53" cy="432.05" r="0.62" fill="#3e2c38" opacity="0.35"/>
<circle cx="206.23" cy="437.04" r="0.61" fill="#3e2c38" opacity="0.39"/>
<circle cx="214.91" cy="418.05" r="0.45" fill="#3e2c38" opacity="0.58"/>
<circle cx="215.00" cy="422.69" r="0.62" fill="#3e2c38" opacity="0.65"/>
<circle cx="191.93" cy="423.20" r="0.60" fill="#3e2c38" opacity="0.42"/>
<circle cx="195.34" cy="416.86" r="0.65" fill="#3e2c38" opacity="0.64"/>
<circle cx="189.25" cy="431.62" r="0.51" fill="#3e2c38" opacity="0.40"/>
<circle cx="194.82" cy="428.91" r="0.54" fill="#3e2c38" opacity="0.67"/>
<circle cx="204.30" cy="428.38" r="0.50" fill="#3e2c38" opacity="0.65"/>
<circle cx="205.95" cy="441.96" r="0.53" fill="#3e2c38" opacity="0.45"/>
<circle cx="208.90" cy="425.47" r="0.30" fill="#3e2c38" opacity="0.54"/>
<circle cx="191.21" cy="437.71" r="0.64" fill="#3e2c38" opacity="0.66"/>
<circle cx="214.62" cy="431.89" r="0.50" fill="#3e2c38" opacity="0.52"/>
<circle cx="213.60" cy="431.40" r="0.47" fill="#3e2c38" opacity="0.73"/>
<circle cx="204.69" cy="413.98" r="0.33" fill="#3e2c38" opacity="0.41"/>
<circle cx="192.04" cy="426.62" r="0.41" fill="#3e2c38" opacity="0.55"/>
<circle cx="212.45" cy="426.39" r="0.61" fill="#3e2c38" opacity="0.38"/>
<circle cx="215.92" cy="431.09" r="0.33" fill="#3e2c38" opacity="0.57"/>
<circle cx="193.24" cy="419.75" r="0.49" fill="#3e2c38" opacity="0.63"/>
<circle cx="197.49" cy="418.65" r="0.46" fill="#3e2c38" opacity="0.62"/>
<circle cx="197.99" cy="426.50" r="0.37" fill="#3e2c38" opacity="0.55"/>
<circle cx="207.06" cy="423.47" r="0.55" fill="#3e2c38" opacity="0.64"/>
<circle cx="196.32" cy="414.84" r="0.51" fill="#3e2c38" opacity="0.38"/>
<circle cx="191.23" cy="427.24" r="0.33" fill="#3e2c38" opacity="0.45"/>
<circle cx="215.44" cy="418.05" r="0.33" fill="#3e2c38" opacity="0.46"/>
<circle cx="201.00" cy="435.98" r="0.47" fill="#3e2c38" opacity="0.58"/>
<circle cx="200.78" cy="433.92" r="0.33" fill="#3e2c38" opacity="0.37"/>
<circle cx="198.21" cy="416.35" r="0.37" fill="#3e2c38" opacity="0.50"/>
<circle cx="218.98" cy="427.24" r="0.50" fill="#3e2c38" opacity="0.43"/>
<circle cx="204.53" cy="415.33" r="0.33" fill="#3e2c38" opacity="0.36"/>
<circle cx="216.14" cy="433.59" r="0.53" fill="#3e2c38" opacity="0.40"/>
<circle cx="215.68" cy="421.38" r="0.32" fill="#3e2c38" opacity="0.60"/>
<circle cx="201.90" cy="435.60" r="0.35" fill="#3e2c38" opacity="0.67"/>
<circle cx="204.87" cy="427.25" r="0.43" fill="#3e2c38" opacity="0.41"/>
<circle cx="211.85" cy="442.02" r="0.53" fill="#3e2c38" opacity="0.54"/>
<circle cx="194.14" cy="419.37" r="0.56" fill="#3e2c38" opacity="0.48"/>
<circle cx="204.19" cy="427.68" r="0.49" fill="#3e2c38" opacity="0.49"/>
<circle cx="195.51" cy="426.45" r="0.59" fill="#3e2c38" opacity="0.35"/>
<circle cx="204.69" cy="422.08" r="0.42" fill="#3e2c38" opacity="0.38"/>
<circle cx="204.94" cy="430.63" r="0.60" fill="#3e2c38" opacity="0.52"/>
<circle cx="202.20" cy="431.43" r="0.34" fill="#3e2c38" opacity="0.53"/>
<circle cx="204.46" cy="431.48" r="0.53" fill="#3e2c38" opacity="0.45"/>
<circle cx="217.11" cy="421.19" r="0.48" fill="#3e2c38" opacity="0.66"/>
<circle cx="195.44" cy="419.73" r="0.38" fill="#3e2c38" opacity="0.65"/>
<circle cx="213.64" cy="420.19" r="0.45" fill="#3e2c38" opacity="0.40"/>
<circle cx="215.06" cy="424.96" r="0.51" fill="#3e2c38" opacity="0.42"/>
<circle cx="210.93" cy="426.39" r="0.44" fill="#3e2c38" opacity="0.49"/>
<circle cx="207.50" cy="427.86" r="0.60" fill="#3e2c38" opacity="0.61"/>
<circle cx="194.65" cy="420.39" r="0.56" fill="#3e2c38" opacity="0.41"/>
<circle cx="206.69" cy="430.15" r="0.44" fill="#3e2c38" opacity="0.38"/>
<circle cx="202.39" cy="417.89" r="0.33" fill="#3e2c38" opacity="0.38"/>
<circle cx="191.48" cy="424.16" r="0.53" fill="#3e2c38" opacity="0.55"/>
<circle cx="214.75" cy="418.22" r="0.46" fill="#3e2c38" opacity="0.71"/>
<circle cx="203.52" cy="437.96" r="0.54" fill="#3e2c38" opacity="0.42"/>
<circle cx="218.57" cy="427.81" r="0.60" fill="#3e2c38" opacity="0.53"/>
<circle cx="201.06" cy="434.37" r="0.44" fill="#3e2c38" opacity="0.66"/>
<circle cx="208.70" cy="432.68" r="0.42" fill="#3e2c38" opacity="0.48"/>
<circle cx="193.56" cy="418.58" r="0.33" fill="#3e2c38" opacity="0.39"/>
<circle cx="206.33" cy="416.57" r="0.41" fill="#3e2c38" opacity="0.46"/>
<circle cx="213.70" cy="431.72" r="0.59" fill="#3e2c38" opacity="0.37"/>
<circle cx="203.71" cy="432.55" r="0.50" fill="#3e2c38" opacity="0.37"/>
<circle cx="201.73" cy="435.77" r="0.63" fill="#3e2c38" opacity="0.72"/>
<circle cx="196.99" cy="437.54" r="0.36" fill="#3e2c38" opacity="0.50"/>
<circle cx="203.09" cy="420.01" r="0.36" fill="#3e2c38" opacity="0.62"/>
<circle cx="214.31" cy="417.94" r="0.36" fill="#3e2c38" opacity="0.65"/>
<circle cx="205.58" cy="427.99" r="0.53" fill="#3e2c38" opacity="0.70"/>
<circle cx="204.95" cy="414.30" r="0.38" fill="#3e2c38" opacity="0.71"/>
<circle cx="203.73" cy="429.65" r="0.33" fill="#3e2c38" opacity="0.50"/>
<circle cx="198.70" cy="434.28" r="0.47" fill="#3e2c38" opacity="0.54"/>
<circle cx="212.47" cy="435.96" r="0.47" fill="#3e2c38" opacity="0.51"/>
<circle cx="188.62" cy="430.24" r="0.62" fill="#3e2c38" opacity="0.52"/>
<circle cx="209.30" cy="431.00" r="0.39" fill="#3e2c38" opacity="0.53"/>
<circle cx="204.37" cy="437.13" r="0.32" fill="#3e2c38" opacity="0.55"/>
<circle cx="197.46" cy="429.44" r="0.51" fill="#3e2c38" opacity="0.75"/>
<circle cx="211.81" cy="424.93" r="0.32" fill="#3e2c38" opacity="0.52"/>
<circle cx="213.96" cy="432.53" r="0.48" fill="#3e2c38" opacity="0.48"/>
<circle cx="212.05" cy="434.91" r="0.46" fill="#3e2c38" opacity="0.73"/>
<circle cx="204.84" cy="424.17" r="0.58" fill="#3e2c38" opacity="0.60"/>
<circle cx="209.90" cy="433.11" r="0.58" fill="#3e2c38" opacity="0.38"/>
<circle cx="200.85" cy="419.00" r="0.39" fill="#3e2c38" opacity="0.55"/>
<circle cx="193.98" cy="418.66" r="0.62" fill="#3e2c38" opacity="0.61"/>
<circle cx="203.01" cy="426.92" r="0.53" fill="#3e2c38" opacity="0.66"/>
<circle cx="201.29" cy="424.59" r="0.43" fill="#3e2c38" opacity="0.50"/>
<circle cx="209.95" cy="423.51" r="0.31" fill="#3e2c38" opacity="0.69"/>
<circle cx="196.94" cy="418.51" r="0.54" fill="#3e2c38" opacity="0.36"/>
<circle cx="191.07" cy="432.20" r="0.46" fill="#3e2c38" opacity="0.69"/>
<circle cx="200.34" cy="444.18" r="0.59" fill="#3e2c38" opacity="0.47"/>
<circle cx="201.42" cy="434.39" r="0.32" fill="#3e2c38" opacity="0.36"/>
<circle cx="208.20" cy="436.26" r="0.47" fill="#3e2c38" opacity="0.38"/>
<circle cx="193.60" cy="439.17" r="0.56" fill="#3e2c38" opacity="0.62"/>
<circle cx="207.34" cy="443.46" r="0.37" fill="#3e2c38" opacity="0.54"/>
<circle cx="198.72" cy="441.66" r="0.39" fill="#3e2c38" opacity="0.74"/>
<circle cx="203.87" cy="426.78" r="0.36" fill="#3e2c38" opacity="0.52"/>
<circle cx="200.89" cy="417.78" r="0.57" fill="#3e2c38" opacity="0.45"/>
<circle cx="206.51" cy="424.34" r="0.58" fill="#3e2c38" opacity="0.59"/>
<circle cx="192.79" cy="430.54" r="0.44" fill="#3e2c38" opacity="0.45"/>
<circle cx="197.00" cy="426.00" r="0.45" fill="#3e2c38" opacity="0.71"/>
<circle cx="208.62" cy="428.75" r="0.41" fill="#3e2c38" opacity="0.65"/>
<circle cx="208.52" cy="437.10" r="0.33" fill="#3e2c38" opacity="0.68"/>
<circle cx="205.55" cy="422.00" r="0.50" fill="#3e2c38" opacity="0.44"/>
<circle cx="211.63" cy="439.68" r="0.64" fill="#3e2c38" opacity="0.63"/>
<circle cx="211.84" cy="434.25" r="0.59" fill="#3e2c38" opacity="0.74"/>
<circle cx="206.48" cy="426.95" r="0.56" fill="#3e2c38" opacity="0.42"/>
<circle cx="205.95" cy="431.35" r="0.43" fill="#3e2c38" opacity="0.47"/>
<circle cx="197.06" cy="417.71" r="0.50" fill="#3e2c38" opacity="0.53"/>
<circle cx="192.86" cy="428.83" r="0.54" fill="#3e2c38" opacity="0.50"/>
<circle cx="192.63" cy="427.25" r="0.45" fill="#3e2c38" opacity="0.59"/>
<circle cx="203.61" cy="437.78" r="0.60" fill="#3e2c38" opacity="0.73"/>
<circle cx="197.97" cy="421.43" r="0.63" fill="#3e2c38" opacity="0.45"/>
<circle cx="209.46" cy="417.17" r="0.32" fill="#3e2c38" opacity="0.62"/>
<circle cx="205.72" cy="436.77" r="0.62" fill="#3e2c38" opacity="0.53"/>
<circle cx="196.52" cy="440.26" r="0.63" fill="#3e2c38" opacity="0.71"/>
<circle cx="195.85" cy="430.55" r="0.64" fill="#3e2c38" opacity="0.74"/>
<circle cx="217.13" cy="437.14" r="0.49" fill="#3e2c38" opacity="0.51"/>
<circle cx="212.75" cy="438.82" r="0.43" fill="#3e2c38" opacity="0.63"/>
<circle cx="196.15" cy="435.97" r="0.43" fill="#3e2c38" opacity="0.75"/>
<circle cx="194.35" cy="417.40" r="0.34" fill="#3e2c38" opacity="0.55"/>
<circle cx="212.75" cy="420.86" r="0.53" fill="#3e2c38" opacity="0.54"/>
<circle cx="195.88" cy="431.15" r="0.49" fill="#3e2c38" opacity="0.49"/>
<circle cx="204.22" cy="420.82" r="0.58" fill="#3e2c38" opacity="0.63"/>
<circle cx="197.65" cy="416.45" r="0.44" fill="#3e2c38" opacity="0.40"/>
<circle cx="198.54" cy="423.25" r="0.49" fill="#3e2c38" opacity="0.43"/>
<circle cx="203.90" cy="440.48" r="0.57" fill="#3e2c38" opacity="0.50"/>
<circle cx="211.07" cy="418.83" r="0.36" fill="#3e2c38" opacity="0.38"/>
<circle cx="191.76" cy="432.30" r="0.57" fill="#3e2c38" opacity="0.37"/>
<circle cx="213.16" cy="421.74" r="0.44" fill="#3e2c38" opacity="0.57"/>
<circle cx="217.55" cy="431.34" r="0.59" fill="#3e2c38" opacity="0.38"/>
<circle cx="203.84" cy="434.40" r="0.36" fill="#3e2c38" opacity="0.71"/>
<circle cx="205.28" cy="422.23" r="0.31" fill="#3e2c38" opacity="0.38"/>
<circle cx="208.95" cy="432.00" r="0.46" fill="#3e2c38" opacity="0.38"/>
<circle cx="199.35" cy="435.01" r="0.56" fill="#3e2c38" opacity="0.70"/>
<circle cx="196.18" cy="442.06" r="0.39" fill="#3e2c38" opacity="0.46"/>
<circle cx="206.31" cy="429.86" r="0.64" fill="#3e2c38" opacity="0.40"/>
<circle cx="209.35" cy="422.75" r="0.48" fill="#3e2c38" opacity="0.41"/>
<circle cx="191.25" cy="419.04" r="0.58" fill="#3e2c38" opacity="0.65"/>
<circle cx="208.86" cy="420.71" r="0.40" fill="#3e2c38" opacity="0.36"/>
<circle cx="202.56" cy="431.86" r="0.47" fill="#3e2c38" opacity="0.38"/>
<circle cx="211.83" cy="440.18" r="0.46" fill="#3e2c38" opacity="0.54"/>
<circle cx="208.56" cy="417.74" r="0.59" fill="#3e2c38" opacity="0.54"/>
<circle cx="202.71" cy="429.27" r="0.63" fill="#3e2c38" opacity="0.44"/>
<circle cx="209.16" cy="420.35" r="0.56" fill="#3e2c38" opacity="0.55"/>
<circle cx="195.62" cy="427.67" r="0.32" fill="#3e2c38" opacity="0.44"/>
<circle cx="214.40" cy="430.38" r="0.37" fill="#3e2c38" opacity="0.64"/>
<circle cx="198.09" cy="430.49" r="0.36" fill="#3e2c38" opacity="0.74"/>
<circle cx="218.80" cy="428.36" r="0.35" fill="#3e2c38" opacity="0.37"/>
<circle cx="195.67" cy="430.73" r="0.55" fill="#3e2c38" opacity="0.62"/>
<circle cx="199.62" cy="415.39" r="0.44" fill="#3e2c38" opacity="0.56"/>
<circle cx="199.04" cy="441.67" r="0.41" fill="#3e2c38" opacity="0.47"/>
<circle cx="200.74" cy="434.80" r="0.36" fill="#3e2c38" opacity="0.60"/>
<circle cx="203.86" cy="430.76" r="0.41" fill="#3e2c38" opacity="0.66"/>
<circle cx="200.89" cy="414.37" r="0.54" fill="#3e2c38" opacity="0.54"/>
<circle cx="202.54" cy="431.94" r="0.53" fill="#3e2c38" opacity="0.60"/>
<circle cx="200.89" cy="430.01" r="0.58" fill="#3e2c38" opacity="0.56"/>
<circle cx="189.99" cy="433.32" r="0.63" fill="#3e2c38" opacity="0.52"/>
<circle cx="200.74" cy="418.24" r="0.57" fill="#3e2c38" opacity="0.64"/>
<circle cx="202.74" cy="431.27" r="0.57" fill="#3e2c38" opacity="0.39"/>
<circle cx="208.02" cy="426.57" r="0.60" fill="#3e2c38" opacity="0.73"/>
<circle cx="200.95" cy="427.72" r="0.54" fill="#3e2c38" opacity="0.36"/>
<circle cx="195.83" cy="416.64" r="0.53" fill="#3e2c38" opacity="0.49"/>
<circle cx="198.82" cy="428.18" r="0.54" fill="#3e2c38" opacity="0.64"/>
<circle cx="203.62" cy="426.78" r="0.62" fill="#3e2c38" opacity="0.62"/>
<circle cx="191.11" cy="426.38" r="0.41" fill="#3e2c38" opacity="0.68"/>
<circle cx="196.39" cy="423.15" r="0.38" fill="#3e2c38" opacity="0.50"/>
<circle cx="208.35" cy="416.62" r="0.43" fill="#3e2c38" opacity="0.71"/>
<circle cx="192.99" cy="431.72" r="0.33" fill="#3e2c38" opacity="0.73"/>
<circle cx="216.01" cy="423.95" r="0.44" fill="#3e2c38" opacity="0.44"/>
<circle cx="209.41" cy="441.75" r="0.57" fill="#3e2c38" opacity="0.51"/>
<circle cx="207.93" cy="442.03" r="0.56" fill="#3e2c38" opacity="0.72"/>
<circle cx="189.13" cy="429.63" r="0.48" fill="#3e2c38" opacity="0.67"/>
<circle cx="214.36" cy="430.65" r="0.58" fill="#3e2c38" opacity="0.63"/>
<circle cx="215.62" cy="427.02" r="0.41" fill="#3e2c38" opacity="0.64"/>
<circle cx="211.19" cy="418.44" r="0.53" fill="#3e2c38" opacity="0.37"/>
<circle cx="210.45" cy="428.80" r="0.42" fill="#3e2c38" opacity="0.66"/>
<circle cx="203.74" cy="431.10" r="0.31" fill="#3e2c38" opacity="0.75"/>
<circle cx="204.91" cy="436.77" r="0.61" fill="#3e2c38" opacity="0.73"/>
<circle cx="199.98" cy="440.16" r="0.44" fill="#3e2c38" opacity="0.46"/>
<circle cx="204.89" cy="428.39" r="0.54" fill="#3e2c38" opacity="0.65"/>
<circle cx="205.21" cy="417.50" r="0.62" fill="#3e2c38" opacity="0.68"/>
<circle cx="202.12" cy="426.66" r="0.61" fill="#3e2c38" opacity="0.42"/>
<circle cx="208.41" cy="435.19" r="0.48" fill="#3e2c38" opacity="0.48"/>
<circle cx="196.53" cy="431.84" r="0.38" fill="#3e2c38" opacity="0.64"/>
<circle cx="202.46" cy="426.34" r="0.61" fill="#3e2c38" opacity="0.42"/>
<circle cx="197.98" cy="441.23" r="0.60" fill="#3e2c38" opacity="0.73"/>
<circle cx="211.55" cy="420.87" r="0.62" fill="#3e2c38" opacity="0.67"/>
<circle cx="212.49" cy="415.60" r="0.63" fill="#3e2c38" opacity="0.54"/>
<circle cx="190.73" cy="432.00" r="0.59" fill="#3e2c38" opacity="0.64"/>
<circle cx="201.83" cy="431.16" r="0.34" fill="#3e2c38" opacity="0.70"/>
<circle cx="205.25" cy="427.79" r="0.43" fill="#3e2c38" opacity="0.60"/>
<circle cx="201.07" cy="428.84" r="0.60" fill="#3e2c38" opacity="0.61"/>
<circle cx="199.96" cy="438.31" r="0.43" fill="#3e2c38" opacity="0.61"/>
<circle cx="212.52" cy="421.31" r="0.41" fill="#3e2c38" opacity="0.49"/>
<circle cx="210.87" cy="417.48" r="0.42" fill="#3e2c38" opacity="0.72"/>
<circle cx="190.87" cy="419.42" r="0.61" fill="#3e2c38" opacity="0.38"/>
<circle cx="202.75" cy="429.17" r="0.63" fill="#3e2c38" opacity="0.44"/>
<circle cx="206.66" cy="439.51" r="0.62" fill="#3e2c38" opacity="0.61"/>
<circle cx="211.90" cy="419.40" r="0.50" fill="#3e2c38" opacity="0.53"/>
<circle cx="202.27" cy="428.09" r="0.35" fill="#3e2c38" opacity="0.75"/>
<circle cx="206.88" cy="435.78" r="0.48" fill="#3e2c38" opacity="0.65"/>
<circle cx="214.99" cy="437.10" r="0.51" fill="#3e2c38" opacity="0.37"/>
<circle cx="193.47" cy="440.27" r="0.56" fill="#3e2c38" opacity="0.41"/>
<circle cx="201.56" cy="426.20" r="0.45" fill="#3e2c38" opacity="0.48"/>
<circle cx="214.54" cy="428.23" r="0.64" fill="#3e2c38" opacity="0.55"/>
<circle cx="203.81" cy="427.74" r="0.60" fill="#3e2c38" opacity="0.59"/>
<circle cx="193.48" cy="438.74" r="0.62" fill="#3e2c38" opacity="0.42"/>
<circle cx="216.07" cy="430.16" r="0.61" fill="#3e2c38" opacity="0.40"/>
<circle cx="203.80" cy="429.30" r="11.88" fill="url(#hc4)"/>
<circle cx="203.80" cy="429.30" r="4.59" fill="#2a2020" opacity="0.85"/>
</g>
</g>
<g clip-path="url(#clipc5)">
<rect x="234.2" y="403.8" width="49.60" height="50.00" fill="url(#gc5)"/>
<g filter="url(#soft)">
<circle cx="256.50" cy="427.64" r="0.32" fill="#3e2c38" opacity="0.55"/>
<circle cx="270.82" cy="420.36" r="0.55" fill="#3e2c38" opacity="0.64"/>
<circle cx="261.19" cy="438.63" r="0.35" fill="#3e2c38" opacity="0.44"/>
<circle cx="264.57" cy="436.80" r="0.31" fill="#3e2c38" opacity="0.40"/>
<circle cx="254.48" cy="417.87" r="0.38" fill="#3e2c38" opacity="0.44"/>
<circle cx="257.08" cy="426.79" r="0.57" fill="#3e2c38" opacity="0.67"/>
<circle cx="263.46" cy="425.69" r="0.57" fill="#3e2c38" opacity="0.57"/>
<circle cx="260.60" cy="442.93" r="0.38" fill="#3e2c38" opacity="0.42"/>
<circle cx="269.97" cy="417.47" r="0.55" fill="#3e2c38" opacity="0.39"/>
<circle cx="247.62" cy="431.54" r="0.38" fill="#3e2c38" opacity="0.68"/>
<circle cx="249.49" cy="433.69" r="0.47" fill="#3e2c38" opacity="0.35"/>
<circle cx="269.01" cy="418.04" r="0.61" fill="#3e2c38" opacity="0.57"/>
<circle cx="252.05" cy="432.91" r="0.36" fill="#3e2c38" opacity="0.44"/>
<circle cx="249.99" cy="426.30" r="0.55" fill="#3e2c38" opacity="0.75"/>
<circle cx="261.06" cy="443.37" r="0.42" fill="#3e2c38" opacity="0.52"/>
<circle cx="254.51" cy="440.13" r="0.46" fill="#3e2c38" opacity="0.41"/>
<circle cx="255.13" cy="426.35" r="0.40" fill="#3e2c38" opacity="0.52"/>
<circle cx="266.32" cy="417.26" r="0.51" fill="#3e2c38" opacity="0.54"/>
<circle cx="257.17" cy="439.43" r="0.47" fill="#3e2c38" opacity="0.55"/>
<circle cx="252.33" cy="428.79" r="0.42" fill="#3e2c38" opacity="0.50"/>
<circle cx="262.65" cy="430.51" r="0.56" fill="#3e2c38" opacity="0.48"/>
<circle cx="254.98" cy="414.96" r="0.53" fill="#3e2c38" opacity="0.54"/>
<circle cx="264.65" cy="419.19" r="0.31" fill="#3e2c38" opacity="0.66"/>
<circle cx="248.44" cy="430.35" r="0.55" fill="#3e2c38" opacity="0.62"/>
<circle cx="270.47" cy="425.24" r="0.35" fill="#3e2c38" opacity="0.61"/>
<circle cx="258.99" cy="428.22" r="0.54" fill="#3e2c38" opacity="0.60"/>
<circle cx="254.96" cy="420.51" r="0.41" fill="#3e2c38" opacity="0.58"/>
<circle cx="261.65" cy="442.55" r="0.35" fill="#3e2c38" opacity="0.57"/>
<circle cx="254.60" cy="422.67" r="0.35" fill="#3e2c38" opacity="0.71"/>
<circle cx="270.83" cy="426.96" r="0.58" fill="#3e2c38" opacity="0.53"/>
<circle cx="257.33" cy="439.50" r="0.31" fill="#3e2c38" opacity="0.57"/>
<circle cx="261.11" cy="420.93" r="0.63" fill="#3e2c38" opacity="0.40"/>
<circle cx="258.66" cy="440.69" r="0.50" fill="#3e2c38" opacity="0.69"/>
<circle cx="272.92" cy="430.27" r="0.32" fill="#3e2c38" opacity="0.67"/>
<circle cx="258.22" cy="427.99" r="0.61" fill="#3e2c38" opacity="0.47"/>
<circle cx="243.60" cy="429.28" r="0.43" fill="#3e2c38" opacity="0.38"/>
<circle cx="262.34" cy="441.70" r="0.35" fill="#3e2c38" opacity="0.47"/>
<circle cx="260.87" cy="438.35" r="0.34" fill="#3e2c38" opacity="0.74"/>
<circle cx="262.49" cy="426.49" r="0.35" fill="#3e2c38" opacity="0.57"/>
<circle cx="272.52" cy="426.53" r="0.35" fill="#3e2c38" opacity="0.69"/>
<circle cx="269.19" cy="431.41" r="0.56" fill="#3e2c38" opacity="0.52"/>
<circle cx="250.06" cy="419.34" r="0.36" fill="#3e2c38" opacity="0.40"/>
<circle cx="257.84" cy="432.23" r="0.36" fill="#3e2c38" opacity="0.37"/>
<circle cx="252.96" cy="440.15" r="0.36" fill="#3e2c38" opacity="0.54"/>
<circle cx="263.73" cy="432.57" r="0.43" fill="#3e2c38" opacity="0.73"/>
<circle cx="260.44" cy="433.07" r="0.60" fill="#3e2c38" opacity="0.48"/>
<circle cx="250.71" cy="434.13" r="0.47" fill="#3e2c38" opacity="0.36"/>
<circle cx="252.04" cy="415.49" r="0.36" fill="#3e2c38" opacity="0.71"/>
<circle cx="262.28" cy="417.17" r="0.53" fill="#3e2c38" opacity="0.53"/>
<circle cx="248.16" cy="418.33" r="0.57" fill="#3e2c38" opacity="0.57"/>
<circle cx="259.92" cy="427.99" r="0.45" fill="#3e2c38" opacity="0.36"/>
<circle cx="250.65" cy="419.53" r="0.48" fill="#3e2c38" opacity="0.41"/>
<circle cx="272.22" cy="432.92" r="0.48" fill="#3e2c38" opacity="0.55"/>
<circle cx="257.01" cy="423.93" r="0.53" fill="#3e2c38" opacity="0.55"/>
<circle cx="270.44" cy="422.77" r="0.63" fill="#3e2c38" opacity="0.69"/>
<circle cx="250.60" cy="438.70" r="0.37" fill="#3e2c38" opacity="0.50"/>
<circle cx="254.68" cy="421.73" r="0.47" fill="#3e2c38" opacity="0.58"/>
<circle cx="264.31" cy="428.10" r="0.61" fill="#3e2c38" opacity="0.43"/>
<circle cx="265.28" cy="428.54" r="0.53" fill="#3e2c38" opacity="0.60"/>
<circle cx="270.53" cy="429.11" r="0.41" fill="#3e2c38" opacity="0.61"/>
<circle cx="245.97" cy="423.66" r="0.42" fill="#3e2c38" opacity="0.58"/>
<circle cx="244.11" cy="424.37" r="0.60" fill="#3e2c38" opacity="0.75"/>
<circle cx="244.72" cy="429.51" r="0.32" fill="#3e2c38" opacity="0.52"/>
<circle cx="267.19" cy="433.48" r="0.40" fill="#3e2c38" opacity="0.55"/>
<circle cx="258.83" cy="428.21" r="0.51" fill="#3e2c38" opacity="0.40"/>
<circle cx="248.45" cy="439.16" r="0.51" fill="#3e2c38" opacity="0.52"/>
<circle cx="269.43" cy="419.32" r="0.33" fill="#3e2c38" opacity="0.53"/>
<circle cx="257.53" cy="430.39" r="0.59" fill="#3e2c38" opacity="0.47"/>
<circle cx="265.52" cy="431.62" r="0.57" fill="#3e2c38" opacity="0.43"/>
<circle cx="248.45" cy="428.27" r="0.48" fill="#3e2c38" opacity="0.66"/>
<circle cx="254.65" cy="417.26" r="0.40" fill="#3e2c38" opacity="0.61"/>
<circle cx="253.75" cy="440.40" r="0.54" fill="#3e2c38" opacity="0.73"/>
<circle cx="272.77" cy="432.92" r="0.58" fill="#3e2c38" opacity="0.47"/>
<circle cx="247.24" cy="420.04" r="0.56" fill="#3e2c38" opacity="0.73"/>
<circle cx="250.34" cy="440.46" r="0.60" fill="#3e2c38" opacity="0.45"/>
<circle cx="249.17" cy="428.41" r="0.31" fill="#3e2c38" opacity="0.38"/>
<circle cx="262.79" cy="414.44" r="0.38" fill="#3e2c38" opacity="0.59"/>
<circle cx="261.51" cy="426.32" r="0.40" fill="#3e2c38" opacity="0.69"/>
<circle cx="246.92" cy="418.96" r="0.53" fill="#3e2c38" opacity="0.65"/>
<circle cx="250.18" cy="417.42" r="0.39" fill="#3e2c38" opacity="0.42"/>
<circle cx="264.41" cy="425.19" r="0.60" fill="#3e2c38" opacity="0.44"/>
<circle cx="258.82" cy="431.78" r="0.36" fill="#3e2c38" opacity="0.75"/>
<circle cx="253.89" cy="443.90" r="0.32" fill="#3e2c38" opacity="0.50"/>
<circle cx="247.88" cy="417.73" r="0.37" fill="#3e2c38" opacity="0.52"/>
<circle cx="251.18" cy="430.31" r="0.32" fill="#3e2c38" opacity="0.50"/>
<circle cx="253.08" cy="420.36" r="0.49" fill="#3e2c38" opacity="0.43"/>
<circle cx="258.40" cy="439.60" r="0.34" fill="#3e2c38" opacity="0.48"/>
<circle cx="270.65" cy="419.09" r="0.61" fill="#3e2c38" opacity="0.54"/>
<circle cx="269.35" cy="424.18" r="0.33" fill="#3e2c38" opacity="0.55"/>
<circle cx="267.10" cy="427.47" r="0.42" fill="#3e2c38" opacity="0.39"/>
<circle cx="255.87" cy="431.75" r="0.64" fill="#3e2c38" opacity="0.55"/>
<circle cx="257.33" cy="436.86" r="0.50" fill="#3e2c38" opacity="0.42"/>
<circle cx="260.03" cy="420.82" r="0.46" fill="#3e2c38" opacity="0.73"/>
<circle cx="250.54" cy="431.24" r="0.57" fill="#3e2c38" opacity="0.73"/>
<circle cx="255.54" cy="419.09" r="0.63" fill="#3e2c38" opacity="0.43"/>
<circle cx="271.09" cy="425.54" r="0.36" fill="#3e2c38" opacity="0.43"/>
<circle cx="261.80" cy="435.93" r="0.55" fill="#3e2c38" opacity="0.63"/>
<circle cx="250.86" cy="423.88" r="0.37" fill="#3e2c38" opacity="0.38"/>
<circle cx="246.56" cy="427.63" r="0.56" fill="#3e2c38" opacity="0.44"/>
<circle cx="264.81" cy="433.63" r="0.34" fill="#3e2c38" opacity="0.43"/>
<circle cx="248.02" cy="422.71" r="0.39" fill="#3e2c38" opacity="0.74"/>
<circle cx="265.36" cy="432.70" r="0.61" fill="#3e2c38" opacity="0.63"/>
<circle cx="250.52" cy="427.99" r="0.55" fill="#3e2c38" opacity="0.56"/>
<circle cx="263.83" cy="439.19" r="0.65" fill="#3e2c38" opacity="0.71"/>
<circle cx="260.02" cy="435.00" r="0.34" fill="#3e2c38" opacity="0.58"/>
<circle cx="257.99" cy="413.26" r="0.54" fill="#3e2c38" opacity="0.50"/>
<circle cx="260.83" cy="428.72" r="0.51" fill="#3e2c38" opacity="0.63"/>
<circle cx="246.28" cy="435.34" r="0.61" fill="#3e2c38" opacity="0.56"/>
<circle cx="245.76" cy="435.25" r="0.31" fill="#3e2c38" opacity="0.36"/>
<circle cx="268.05" cy="432.02" r="0.49" fill="#3e2c38" opacity="0.50"/>
<circle cx="252.94" cy="435.11" r="0.35" fill="#3e2c38" opacity="0.72"/>
<circle cx="251.40" cy="436.89" r="0.36" fill="#3e2c38" opacity="0.41"/>
<circle cx="269.74" cy="437.73" r="0.34" fill="#3e2c38" opacity="0.47"/>
<circle cx="255.42" cy="427.19" r="0.47" fill="#3e2c38" opacity="0.54"/>
<circle cx="259.00" cy="415.58" r="0.38" fill="#3e2c38" opacity="0.41"/>
<circle cx="259.65" cy="428.47" r="0.61" fill="#3e2c38" opacity="0.49"/>
<circle cx="261.12" cy="414.60" r="0.51" fill="#3e2c38" opacity="0.52"/>
<circle cx="256.65" cy="429.15" r="0.64" fill="#3e2c38" opacity="0.75"/>
<circle cx="274.14" cy="433.61" r="0.38" fill="#3e2c38" opacity="0.37"/>
<circle cx="264.40" cy="426.05" r="0.39" fill="#3e2c38" opacity="0.66"/>
<circle cx="259.24" cy="420.45" r="0.33" fill="#3e2c38" opacity="0.65"/>
<circle cx="271.30" cy="434.99" r="0.46" fill="#3e2c38" opacity="0.62"/>
<circle cx="263.55" cy="437.33" r="0.63" fill="#3e2c38" opacity="0.39"/>
<circle cx="243.75" cy="427.50" r="0.51" fill="#3e2c38" opacity="0.55"/>
<circle cx="272.27" cy="427.95" r="0.56" fill="#3e2c38" opacity="0.68"/>
<circle cx="260.88" cy="421.51" r="0.31" fill="#3e2c38" opacity="0.37"/>
<circle cx="245.67" cy="427.04" r="0.37" fill="#3e2c38" opacity="0.51"/>
<circle cx="259.83" cy="435.01" r="0.39" fill="#3e2c38" opacity="0.53"/>
<circle cx="259.63" cy="438.91" r="0.55" fill="#3e2c38" opacity="0.61"/>
<circle cx="266.52" cy="434.34" r="0.49" fill="#3e2c38" opacity="0.47"/>
<circle cx="254.44" cy="434.02" r="0.53" fill="#3e2c38" opacity="0.48"/>
<circle cx="268.19" cy="431.03" r="0.60" fill="#3e2c38" opacity="0.38"/>
<circle cx="261.47" cy="430.26" r="0.37" fill="#3e2c38" opacity="0.46"/>
<circle cx="252.78" cy="422.31" r="0.54" fill="#3e2c38" opacity="0.45"/>
<circle cx="271.40" cy="437.71" r="0.50" fill="#3e2c38" opacity="0.53"/>
<circle cx="269.74" cy="433.32" r="0.61" fill="#3e2c38" opacity="0.40"/>
<circle cx="267.89" cy="432.79" r="0.53" fill="#3e2c38" opacity="0.36"/>
<circle cx="265.31" cy="443.35" r="0.55" fill="#3e2c38" opacity="0.67"/>
<circle cx="259.85" cy="425.53" r="0.58" fill="#3e2c38" opacity="0.45"/>
<circle cx="261.81" cy="444.04" r="0.39" fill="#3e2c38" opacity="0.42"/>
<circle cx="263.49" cy="420.63" r="0.59" fill="#3e2c38" opacity="0.41"/>
<circle cx="253.72" cy="430.98" r="0.35" fill="#3e2c38" opacity="0.57"/>
<circle cx="252.91" cy="431.63" r="0.62" fill="#3e2c38" opacity="0.61"/>
<circle cx="258.70" cy="433.21" r="0.58" fill="#3e2c38" opacity="0.39"/>
<circle cx="259.94" cy="433.90" r="0.61" fill="#3e2c38" opacity="0.38"/>
<circle cx="254.98" cy="439.74" r="0.60" fill="#3e2c38" opacity="0.65"/>
<circle cx="244.68" cy="423.23" r="0.45" fill="#3e2c38" opacity="0.73"/>
<circle cx="262.15" cy="414.74" r="0.49" fill="#3e2c38" opacity="0.47"/>
<circle cx="262.75" cy="441.47" r="0.34" fill="#3e2c38" opacity="0.49"/>
<circle cx="244.18" cy="423.03" r="0.52" fill="#3e2c38" opacity="0.61"/>
<circle cx="260.13" cy="429.98" r="0.45" fill="#3e2c38" opacity="0.59"/>
<circle cx="266.38" cy="430.87" r="0.34" fill="#3e2c38" opacity="0.60"/>
<circle cx="250.63" cy="431.76" r="0.47" fill="#3e2c38" opacity="0.63"/>
<circle cx="266.67" cy="420.80" r="0.49" fill="#3e2c38" opacity="0.47"/>
<circle cx="259.97" cy="427.03" r="0.39" fill="#3e2c38" opacity="0.48"/>
<circle cx="253.49" cy="416.76" r="0.60" fill="#3e2c38" opacity="0.63"/>
<circle cx="255.47" cy="429.83" r="0.43" fill="#3e2c38" opacity="0.61"/>
<circle cx="266.28" cy="414.73" r="0.45" fill="#3e2c38" opacity="0.64"/>
<circle cx="258.68" cy="437.55" r="0.31" fill="#3e2c38" opacity="0.57"/>
<circle cx="253.89" cy="436.65" r="0.45" fill="#3e2c38" opacity="0.59"/>
<circle cx="270.33" cy="419.43" r="0.41" fill="#3e2c38" opacity="0.67"/>
<circle cx="253.51" cy="437.40" r="0.55" fill="#3e2c38" opacity="0.64"/>
<circle cx="260.59" cy="432.54" r="0.37" fill="#3e2c38" opacity="0.71"/>
<circle cx="263.56" cy="430.07" r="0.42" fill="#3e2c38" opacity="0.52"/>
<circle cx="266.33" cy="426.81" r="0.35" fill="#3e2c38" opacity="0.41"/>
<circle cx="250.76" cy="418.67" r="0.42" fill="#3e2c38" opacity="0.37"/>
<circle cx="255.86" cy="422.67" r="0.31" fill="#3e2c38" opacity="0.42"/>
<circle cx="268.02" cy="431.98" r="0.35" fill="#3e2c38" opacity="0.66"/>
<circle cx="254.72" cy="428.55" r="0.40" fill="#3e2c38" opacity="0.55"/>
<circle cx="274.88" cy="428.32" r="0.65" fill="#3e2c38" opacity="0.51"/>
<circle cx="264.42" cy="441.50" r="0.56" fill="#3e2c38" opacity="0.40"/>
<circle cx="257.00" cy="432.98" r="0.31" fill="#3e2c38" opacity="0.64"/>
<circle cx="262.09" cy="439.91" r="0.50" fill="#3e2c38" opacity="0.44"/>
<circle cx="269.60" cy="436.33" r="0.60" fill="#3e2c38" opacity="0.45"/>
<circle cx="245.52" cy="431.26" r="0.61" fill="#3e2c38" opacity="0.40"/>
<circle cx="249.31" cy="424.12" r="0.60" fill="#3e2c38" opacity="0.39"/>
<circle cx="252.46" cy="430.47" r="0.45" fill="#3e2c38" opacity="0.75"/>
<circle cx="260.13" cy="428.14" r="0.38" fill="#3e2c38" opacity="0.48"/>
<circle cx="248.99" cy="436.12" r="0.45" fill="#3e2c38" opacity="0.48"/>
<circle cx="259.72" cy="440.95" r="0.48" fill="#3e2c38" opacity="0.57"/>
<circle cx="255.63" cy="438.39" r="0.55" fill="#3e2c38" opacity="0.54"/>
<circle cx="271.46" cy="429.87" r="0.46" fill="#3e2c38" opacity="0.59"/>
<circle cx="264.33" cy="439.29" r="0.46" fill="#3e2c38" opacity="0.73"/>
<circle cx="267.36" cy="441.94" r="0.64" fill="#3e2c38" opacity="0.65"/>
<circle cx="258.80" cy="413.40" r="0.61" fill="#3e2c38" opacity="0.47"/>
<circle cx="267.86" cy="419.50" r="0.32" fill="#3e2c38" opacity="0.71"/>
<circle cx="259.26" cy="429.39" r="0.44" fill="#3e2c38" opacity="0.53"/>
<circle cx="266.42" cy="424.67" r="0.43" fill="#3e2c38" opacity="0.64"/>
<circle cx="267.81" cy="435.22" r="0.34" fill="#3e2c38" opacity="0.47"/>
<circle cx="252.76" cy="427.15" r="0.44" fill="#3e2c38" opacity="0.69"/>
<circle cx="249.95" cy="422.05" r="0.40" fill="#3e2c38" opacity="0.65"/>
<circle cx="249.35" cy="419.94" r="0.60" fill="#3e2c38" opacity="0.50"/>
<circle cx="271.20" cy="427.59" r="0.35" fill="#3e2c38" opacity="0.62"/>
<circle cx="263.04" cy="432.32" r="0.31" fill="#3e2c38" opacity="0.71"/>
<circle cx="259.10" cy="429.34" r="0.65" fill="#3e2c38" opacity="0.43"/>
<circle cx="250.49" cy="427.09" r="0.39" fill="#3e2c38" opacity="0.42"/>
<circle cx="257.47" cy="423.60" r="0.62" fill="#3e2c38" opacity="0.68"/>
<circle cx="267.32" cy="431.99" r="0.61" fill="#3e2c38" opacity="0.48"/>
<circle cx="257.05" cy="430.19" r="0.49" fill="#3e2c38" opacity="0.67"/>
<circle cx="255.93" cy="427.98" r="0.36" fill="#3e2c38" opacity="0.42"/>
<circle cx="262.97" cy="419.00" r="0.55" fill="#3e2c38" opacity="0.66"/>
<circle cx="251.01" cy="416.44" r="0.40" fill="#3e2c38" opacity="0.56"/>
<circle cx="256.23" cy="415.82" r="0.34" fill="#3e2c38" opacity="0.46"/>
<circle cx="257.07" cy="434.60" r="0.64" fill="#3e2c38" opacity="0.67"/>
<circle cx="272.35" cy="423.54" r="0.54" fill="#3e2c38" opacity="0.65"/>
<circle cx="257.04" cy="432.99" r="0.60" fill="#3e2c38" opacity="0.55"/>
<circle cx="253.85" cy="427.13" r="0.32" fill="#3e2c38" opacity="0.72"/>
<circle cx="269.54" cy="434.66" r="0.51" fill="#3e2c38" opacity="0.63"/>
<circle cx="253.94" cy="428.41" r="0.58" fill="#3e2c38" opacity="0.38"/>
<circle cx="271.87" cy="420.14" r="0.31" fill="#3e2c38" opacity="0.60"/>
<circle cx="259.47" cy="432.47" r="0.59" fill="#3e2c38" opacity="0.53"/>
<circle cx="259.41" cy="434.55" r="0.41" fill="#3e2c38" opacity="0.60"/>
<circle cx="255.22" cy="425.93" r="0.43" fill="#3e2c38" opacity="0.71"/>
<circle cx="272.00" cy="430.65" r="0.32" fill="#3e2c38" opacity="0.63"/>
<circle cx="255.32" cy="421.95" r="0.56" fill="#3e2c38" opacity="0.38"/>
<circle cx="263.37" cy="443.81" r="0.51" fill="#3e2c38" opacity="0.74"/>
<circle cx="258.33" cy="428.57" r="0.32" fill="#3e2c38" opacity="0.46"/>
<circle cx="253.48" cy="443.29" r="0.53" fill="#3e2c38" opacity="0.54"/>
<circle cx="247.02" cy="420.02" r="0.43" fill="#3e2c38" opacity="0.57"/>
<circle cx="248.95" cy="438.64" r="0.59" fill="#3e2c38" opacity="0.73"/>
<circle cx="260.35" cy="435.98" r="0.63" fill="#3e2c38" opacity="0.55"/>
<circle cx="264.26" cy="434.63" r="0.32" fill="#3e2c38" opacity="0.39"/>
<circle cx="246.08" cy="433.93" r="0.46" fill="#3e2c38" opacity="0.49"/>
<circle cx="247.00" cy="429.96" r="0.57" fill="#3e2c38" opacity="0.67"/>
<circle cx="256.58" cy="419.87" r="0.36" fill="#3e2c38" opacity="0.55"/>
<circle cx="272.08" cy="420.76" r="0.35" fill="#3e2c38" opacity="0.66"/>
<circle cx="253.83" cy="431.43" r="0.64" fill="#3e2c38" opacity="0.43"/>
<circle cx="270.72" cy="424.76" r="0.39" fill="#3e2c38" opacity="0.58"/>
<circle cx="264.84" cy="424.60" r="0.42" fill="#3e2c38" opacity="0.40"/>
<circle cx="256.67" cy="440.26" r="0.59" fill="#3e2c38" opacity="0.48"/>
<circle cx="264.21" cy="415.01" r="0.41" fill="#3e2c38" opacity="0.67"/>
<circle cx="266.26" cy="437.34" r="0.50" fill="#3e2c38" opacity="0.71"/>
<circle cx="257.32" cy="423.54" r="0.54" fill="#3e2c38" opacity="0.39"/>
<circle cx="268.55" cy="427.03" r="0.46" fill="#3e2c38" opacity="0.68"/>
<circle cx="256.78" cy="419.32" r="0.60" fill="#3e2c38" opacity="0.41"/>
<circle cx="266.03" cy="442.04" r="0.41" fill="#3e2c38" opacity="0.61"/>
<circle cx="252.21" cy="431.79" r="0.33" fill="#3e2c38" opacity="0.64"/>
<circle cx="261.89" cy="424.29" r="0.51" fill="#3e2c38" opacity="0.43"/>
<circle cx="252.68" cy="420.57" r="0.33" fill="#3e2c38" opacity="0.74"/>
<circle cx="265.79" cy="421.69" r="0.61" fill="#3e2c38" opacity="0.61"/>
<circle cx="266.79" cy="434.60" r="0.60" fill="#3e2c38" opacity="0.74"/>
<circle cx="251.01" cy="420.24" r="0.63" fill="#3e2c38" opacity="0.42"/>
<circle cx="256.65" cy="432.18" r="0.58" fill="#3e2c38" opacity="0.74"/>
<circle cx="263.32" cy="435.39" r="0.39" fill="#3e2c38" opacity="0.67"/>
<circle cx="259.94" cy="426.00" r="0.50" fill="#3e2c38" opacity="0.71"/>
<circle cx="261.01" cy="434.66" r="0.39" fill="#3e2c38" opacity="0.68"/>
<circle cx="258.53" cy="434.55" r="0.30" fill="#3e2c38" opacity="0.72"/>
<circle cx="260.15" cy="435.54" r="0.61" fill="#3e2c38" opacity="0.52"/>
<circle cx="259.40" cy="414.16" r="0.34" fill="#3e2c38" opacity="0.65"/>
<circle cx="249.03" cy="431.88" r="0.31" fill="#3e2c38" opacity="0.44"/>
<circle cx="254.28" cy="435.23" r="0.44" fill="#3e2c38" opacity="0.61"/>
<circle cx="252.63" cy="427.44" r="0.45" fill="#3e2c38" opacity="0.60"/>
<circle cx="263.79" cy="416.24" r="0.54" fill="#3e2c38" opacity="0.58"/>
<circle cx="245.71" cy="426.19" r="0.40" fill="#3e2c38" opacity="0.68"/>
<circle cx="270.79" cy="420.86" r="0.37" fill="#3e2c38" opacity="0.37"/>
<circle cx="262.32" cy="443.98" r="0.62" fill="#3e2c38" opacity="0.75"/>
<circle cx="254.56" cy="428.56" r="0.54" fill="#3e2c38" opacity="0.71"/>
<circle cx="258.15" cy="429.20" r="0.39" fill="#3e2c38" opacity="0.55"/>
<circle cx="262.26" cy="433.78" r="0.59" fill="#3e2c38" opacity="0.70"/>
<circle cx="247.84" cy="433.71" r="0.63" fill="#3e2c38" opacity="0.41"/>
<circle cx="258.65" cy="429.08" r="0.40" fill="#3e2c38" opacity="0.50"/>
<circle cx="256.99" cy="418.18" r="0.38" fill="#3e2c38" opacity="0.38"/>
<circle cx="262.33" cy="429.85" r="0.32" fill="#3e2c38" opacity="0.47"/>
<circle cx="262.61" cy="416.53" r="0.36" fill="#3e2c38" opacity="0.39"/>
<circle cx="249.01" cy="416.35" r="0.40" fill="#3e2c38" opacity="0.66"/>
<circle cx="270.23" cy="422.31" r="0.52" fill="#3e2c38" opacity="0.60"/>
<circle cx="258.06" cy="413.86" r="0.34" fill="#3e2c38" opacity="0.54"/>
<circle cx="249.20" cy="429.59" r="0.34" fill="#3e2c38" opacity="0.72"/>
<circle cx="254.56" cy="432.97" r="0.47" fill="#3e2c38" opacity="0.63"/>
<circle cx="251.19" cy="436.25" r="0.49" fill="#3e2c38" opacity="0.68"/>
<circle cx="248.40" cy="422.41" r="0.39" fill="#3e2c38" opacity="0.72"/>
<circle cx="264.18" cy="436.27" r="0.51" fill="#3e2c38" opacity="0.49"/>
<circle cx="254.58" cy="425.44" r="0.35" fill="#3e2c38" opacity="0.46"/>
<circle cx="261.39" cy="424.93" r="0.31" fill="#3e2c38" opacity="0.38"/>
<circle cx="249.56" cy="420.59" r="0.58" fill="#3e2c38" opacity="0.71"/>
<circle cx="246.36" cy="433.82" r="0.34" fill="#3e2c38" opacity="0.67"/>
<circle cx="250.20" cy="434.77" r="0.59" fill="#3e2c38" opacity="0.67"/>
<circle cx="249.81" cy="439.34" r="0.33" fill="#3e2c38" opacity="0.36"/>
<circle cx="246.78" cy="428.51" r="0.59" fill="#3e2c38" opacity="0.57"/>
<circle cx="256.42" cy="426.81" r="0.40" fill="#3e2c38" opacity="0.74"/>
<circle cx="248.18" cy="433.00" r="0.41" fill="#3e2c38" opacity="0.74"/>
<circle cx="244.46" cy="422.69" r="0.49" fill="#3e2c38" opacity="0.61"/>
<circle cx="258.01" cy="431.54" r="0.34" fill="#3e2c38" opacity="0.52"/>
<circle cx="253.28" cy="426.02" r="0.59" fill="#3e2c38" opacity="0.70"/>
<circle cx="255.66" cy="421.97" r="0.50" fill="#3e2c38" opacity="0.36"/>
<circle cx="251.15" cy="431.01" r="0.49" fill="#3e2c38" opacity="0.61"/>
<circle cx="255.13" cy="428.58" r="0.48" fill="#3e2c38" opacity="0.49"/>
<circle cx="253.55" cy="434.69" r="0.59" fill="#3e2c38" opacity="0.47"/>
<circle cx="256.53" cy="435.27" r="0.62" fill="#3e2c38" opacity="0.56"/>
<circle cx="249.28" cy="422.19" r="0.38" fill="#3e2c38" opacity="0.52"/>
<circle cx="243.89" cy="432.16" r="0.60" fill="#3e2c38" opacity="0.67"/>
<circle cx="266.38" cy="437.16" r="0.34" fill="#3e2c38" opacity="0.67"/>
<circle cx="266.05" cy="429.48" r="0.55" fill="#3e2c38" opacity="0.49"/>
<circle cx="253.35" cy="414.57" r="0.44" fill="#3e2c38" opacity="0.42"/>
<circle cx="254.46" cy="422.49" r="0.58" fill="#3e2c38" opacity="0.42"/>
<circle cx="252.15" cy="420.30" r="0.45" fill="#3e2c38" opacity="0.71"/>
<circle cx="267.81" cy="426.42" r="0.54" fill="#3e2c38" opacity="0.43"/>
<circle cx="253.33" cy="419.00" r="0.64" fill="#3e2c38" opacity="0.46"/>
<circle cx="253.98" cy="421.06" r="0.44" fill="#3e2c38" opacity="0.51"/>
<circle cx="265.78" cy="437.09" r="0.42" fill="#3e2c38" opacity="0.57"/>
<circle cx="262.46" cy="429.61" r="0.54" fill="#3e2c38" opacity="0.38"/>
<circle cx="253.80" cy="426.80" r="0.43" fill="#3e2c38" opacity="0.66"/>
<circle cx="266.81" cy="422.51" r="0.42" fill="#3e2c38" opacity="0.59"/>
<circle cx="273.85" cy="427.29" r="0.36" fill="#3e2c38" opacity="0.57"/>
<circle cx="260.66" cy="432.15" r="0.61" fill="#3e2c38" opacity="0.56"/>
<circle cx="244.47" cy="430.78" r="0.48" fill="#3e2c38" opacity="0.41"/>
<circle cx="244.00" cy="423.83" r="0.58" fill="#3e2c38" opacity="0.74"/>
<circle cx="258.14" cy="432.27" r="0.37" fill="#3e2c38" opacity="0.72"/>
<circle cx="265.12" cy="426.77" r="0.46" fill="#3e2c38" opacity="0.53"/>
<circle cx="249.60" cy="418.62" r="0.33" fill="#3e2c38" opacity="0.73"/>
<circle cx="253.42" cy="432.69" r="0.51" fill="#3e2c38" opacity="0.53"/>
<circle cx="248.02" cy="434.88" r="0.33" fill="#3e2c38" opacity="0.53"/>
<circle cx="259.67" cy="431.63" r="0.50" fill="#3e2c38" opacity="0.36"/>
<circle cx="266.51" cy="417.43" r="0.51" fill="#3e2c38" opacity="0.60"/>
<circle cx="246.29" cy="421.10" r="0.47" fill="#3e2c38" opacity="0.41"/>
<circle cx="246.97" cy="437.71" r="0.46" fill="#3e2c38" opacity="0.49"/>
<circle cx="261.01" cy="431.99" r="0.64" fill="#3e2c38" opacity="0.66"/>
<circle cx="254.71" cy="421.68" r="0.45" fill="#3e2c38" opacity="0.43"/>
<circle cx="255.86" cy="441.13" r="0.32" fill="#3e2c38" opacity="0.55"/>
<circle cx="256.75" cy="428.70" r="0.39" fill="#3e2c38" opacity="0.65"/>
<circle cx="265.68" cy="426.30" r="0.40" fill="#3e2c38" opacity="0.52"/>
<circle cx="249.21" cy="427.32" r="0.46" fill="#3e2c38" opacity="0.58"/>
<circle cx="270.21" cy="422.64" r="0.36" fill="#3e2c38" opacity="0.40"/>
<circle cx="258.44" cy="416.15" r="0.55" fill="#3e2c38" opacity="0.43"/>
<circle cx="262.19" cy="440.94" r="0.37" fill="#3e2c38" opacity="0.48"/>
<circle cx="257.55" cy="418.57" r="0.32" fill="#3e2c38" opacity="0.69"/>
<circle cx="260.13" cy="426.13" r="0.46" fill="#3e2c38" opacity="0.38"/>
<circle cx="273.58" cy="431.66" r="0.56" fill="#3e2c38" opacity="0.55"/>
<circle cx="264.71" cy="432.23" r="0.35" fill="#3e2c38" opacity="0.37"/>
<circle cx="251.91" cy="433.24" r="0.52" fill="#3e2c38" opacity="0.52"/>
<circle cx="272.89" cy="434.03" r="0.30" fill="#3e2c38" opacity="0.36"/>
<circle cx="261.28" cy="419.41" r="0.38" fill="#3e2c38" opacity="0.74"/>
<circle cx="273.23" cy="431.22" r="0.60" fill="#3e2c38" opacity="0.69"/>
<circle cx="248.55" cy="429.46" r="0.43" fill="#3e2c38" opacity="0.39"/>
<circle cx="253.21" cy="434.34" r="0.64" fill="#3e2c38" opacity="0.60"/>
<circle cx="245.86" cy="437.21" r="0.47" fill="#3e2c38" opacity="0.56"/>
<circle cx="262.16" cy="431.21" r="0.53" fill="#3e2c38" opacity="0.55"/>
<circle cx="249.33" cy="433.18" r="0.31" fill="#3e2c38" opacity="0.64"/>
<circle cx="245.60" cy="431.39" r="0.60" fill="#3e2c38" opacity="0.47"/>
<circle cx="251.50" cy="422.93" r="0.51" fill="#3e2c38" opacity="0.62"/>
<circle cx="269.23" cy="428.98" r="0.61" fill="#3e2c38" opacity="0.49"/>
<circle cx="254.98" cy="429.61" r="0.52" fill="#3e2c38" opacity="0.59"/>
<circle cx="266.45" cy="431.35" r="0.38" fill="#3e2c38" opacity="0.68"/>
<circle cx="246.98" cy="437.59" r="0.58" fill="#3e2c38" opacity="0.61"/>
<circle cx="245.55" cy="435.08" r="0.52" fill="#3e2c38" opacity="0.58"/>
<circle cx="267.06" cy="439.36" r="0.41" fill="#3e2c38" opacity="0.71"/>
<circle cx="266.30" cy="430.93" r="0.53" fill="#3e2c38" opacity="0.41"/>
<circle cx="255.76" cy="416.28" r="0.57" fill="#3e2c38" opacity="0.45"/>
<circle cx="263.58" cy="425.91" r="0.39" fill="#3e2c38" opacity="0.64"/>
<circle cx="265.99" cy="417.35" r="0.55" fill="#3e2c38" opacity="0.74"/>
<circle cx="260.48" cy="416.94" r="0.35" fill="#3e2c38" opacity="0.67"/>
<circle cx="260.71" cy="425.13" r="0.45" fill="#3e2c38" opacity="0.70"/>
<circle cx="263.96" cy="427.25" r="0.46" fill="#3e2c38" opacity="0.69"/>
<circle cx="266.38" cy="427.01" r="0.43" fill="#3e2c38" opacity="0.56"/>
<circle cx="259.78" cy="426.19" r="0.34" fill="#3e2c38" opacity="0.69"/>
<circle cx="273.36" cy="428.89" r="0.54" fill="#3e2c38" opacity="0.65"/>
<circle cx="257.49" cy="431.71" r="0.43" fill="#3e2c38" opacity="0.72"/>
<circle cx="256.75" cy="428.19" r="0.61" fill="#3e2c38" opacity="0.69"/>
<circle cx="245.96" cy="432.19" r="0.47" fill="#3e2c38" opacity="0.68"/>
<circle cx="269.81" cy="439.04" r="0.35" fill="#3e2c38" opacity="0.47"/>
<circle cx="261.28" cy="427.20" r="0.62" fill="#3e2c38" opacity="0.45"/>
<circle cx="263.62" cy="425.37" r="0.45" fill="#3e2c38" opacity="0.56"/>
<circle cx="264.54" cy="414.00" r="0.64" fill="#3e2c38" opacity="0.40"/>
<circle cx="264.15" cy="440.72" r="0.44" fill="#3e2c38" opacity="0.41"/>
<circle cx="254.60" cy="419.95" r="0.58" fill="#3e2c38" opacity="0.59"/>
<circle cx="263.85" cy="439.72" r="0.43" fill="#3e2c38" opacity="0.41"/>
<circle cx="258.47" cy="427.35" r="0.61" fill="#3e2c38" opacity="0.43"/>
<circle cx="258.73" cy="429.52" r="0.41" fill="#3e2c38" opacity="0.65"/>
<circle cx="270.11" cy="422.70" r="0.58" fill="#3e2c38" opacity="0.57"/>
<circle cx="255.40" cy="430.15" r="0.44" fill="#3e2c38" opacity="0.42"/>
<circle cx="263.06" cy="443.60" r="0.30" fill="#3e2c38" opacity="0.71"/>
<circle cx="255.25" cy="431.48" r="0.46" fill="#3e2c38" opacity="0.37"/>
<circle cx="270.32" cy="424.60" r="0.34" fill="#3e2c38" opacity="0.51"/>
<circle cx="262.52" cy="439.89" r="0.45" fill="#3e2c38" opacity="0.49"/>
<circle cx="250.67" cy="431.29" r="0.60" fill="#3e2c38" opacity="0.70"/>
<circle cx="267.66" cy="432.68" r="0.40" fill="#3e2c38" opacity="0.40"/>
<circle cx="249.93" cy="432.61" r="0.37" fill="#3e2c38" opacity="0.70"/>
<circle cx="261.20" cy="421.29" r="0.52" fill="#3e2c38" opacity="0.39"/>
<circle cx="261.23" cy="430.86" r="0.46" fill="#3e2c38" opacity="0.52"/>
<circle cx="249.84" cy="429.12" r="0.38" fill="#3e2c38" opacity="0.63"/>
<circle cx="259.00" cy="429.30" r="12.32" fill="url(#hc5)"/>
<circle cx="259.00" cy="429.30" r="4.76" fill="#2a2020" opacity="0.85"/>
</g>
</g>
<g clip-path="url(#clipc6)">
<rect x="285.5" y="403.8" width="49.00" height="50.00" fill="url(#gc6)"/>
<g filter="url(#soft)">
<circle cx="303.24" cy="420.51" r="0.37" fill="#3e2c38" opacity="0.35"/>
<circle cx="320.49" cy="418.98" r="0.64" fill="#3e2c38" opacity="0.49"/>
<circle cx="302.89" cy="420.06" r="0.55" fill="#3e2c38" opacity="0.38"/>
<circle cx="305.91" cy="432.08" r="0.44" fill="#3e2c38" opacity="0.40"/>
<circle cx="303.54" cy="441.57" r="0.40" fill="#3e2c38" opacity="0.70"/>
<circle cx="311.81" cy="417.29" r="0.51" fill="#3e2c38" opacity="0.60"/>
<circle cx="313.26" cy="435.03" r="0.48" fill="#3e2c38" opacity="0.36"/>
<circle cx="306.47" cy="415.28" r="0.40" fill="#3e2c38" opacity="0.56"/>
<circle cx="295.22" cy="429.08" r="0.61" fill="#3e2c38" opacity="0.52"/>
<circle cx="325.83" cy="430.82" r="0.55" fill="#3e2c38" opacity="0.63"/>
<circle cx="308.42" cy="425.30" r="0.52" fill="#3e2c38" opacity="0.75"/>
<circle cx="307.73" cy="434.51" r="0.43" fill="#3e2c38" opacity="0.61"/>
<circle cx="306.10" cy="419.63" r="0.45" fill="#3e2c38" opacity="0.51"/>
<circle cx="311.20" cy="436.61" r="0.34" fill="#3e2c38" opacity="0.65"/>
<circle cx="310.97" cy="413.45" r="0.53" fill="#3e2c38" opacity="0.58"/>
<circle cx="305.44" cy="423.77" r="0.52" fill="#3e2c38" opacity="0.55"/>
<circle cx="318.20" cy="428.31" r="0.43" fill="#3e2c38" opacity="0.75"/>
<circle cx="309.74" cy="426.60" r="0.47" fill="#3e2c38" opacity="0.55"/>
<circle cx="302.54" cy="416.79" r="0.32" fill="#3e2c38" opacity="0.47"/>
<circle cx="315.61" cy="431.82" r="0.47" fill="#3e2c38" opacity="0.47"/>
<circle cx="317.58" cy="423.31" r="0.33" fill="#3e2c38" opacity="0.64"/>
<circle cx="312.90" cy="434.30" r="0.33" fill="#3e2c38" opacity="0.41"/>
<circle cx="296.77" cy="426.48" r="0.43" fill="#3e2c38" opacity="0.41"/>
<circle cx="305.65" cy="437.38" r="0.34" fill="#3e2c38" opacity="0.38"/>
<circle cx="303.37" cy="441.84" r="0.44" fill="#3e2c38" opacity="0.64"/>
<circle cx="299.05" cy="440.26" r="0.39" fill="#3e2c38" opacity="0.54"/>
<circle cx="317.34" cy="440.25" r="0.63" fill="#3e2c38" opacity="0.71"/>
<circle cx="310.27" cy="424.01" r="0.55" fill="#3e2c38" opacity="0.67"/>
<circle cx="310.24" cy="425.70" r="0.41" fill="#3e2c38" opacity="0.50"/>
<circle cx="309.01" cy="435.46" r="0.58" fill="#3e2c38" opacity="0.57"/>
<circle cx="301.05" cy="436.80" r="0.41" fill="#3e2c38" opacity="0.35"/>
<circle cx="306.48" cy="419.81" r="0.52" fill="#3e2c38" opacity="0.50"/>
<circle cx="298.55" cy="428.86" r="0.38" fill="#3e2c38" opacity="0.43"/>
<circle cx="302.45" cy="420.38" r="0.47" fill="#3e2c38" opacity="0.49"/>
<circle cx="305.00" cy="414.42" r="0.33" fill="#3e2c38" opacity="0.70"/>
<circle cx="297.99" cy="422.65" r="0.51" fill="#3e2c38" opacity="0.63"/>
<circle cx="301.58" cy="419.79" r="0.47" fill="#3e2c38" opacity="0.52"/>
<circle cx="303.02" cy="419.35" r="0.37" fill="#3e2c38" opacity="0.74"/>
<circle cx="295.36" cy="431.63" r="0.41" fill="#3e2c38" opacity="0.66"/>
<circle cx="307.42" cy="421.60" r="0.54" fill="#3e2c38" opacity="0.40"/>
<circle cx="310.71" cy="414.81" r="0.52" fill="#3e2c38" opacity="0.69"/>
<circle cx="307.72" cy="439.00" r="0.36" fill="#3e2c38" opacity="0.71"/>
<circle cx="319.18" cy="428.10" r="0.31" fill="#3e2c38" opacity="0.47"/>
<circle cx="315.14" cy="425.78" r="0.35" fill="#3e2c38" opacity="0.52"/>
<circle cx="308.04" cy="437.44" r="0.51" fill="#3e2c38" opacity="0.74"/>
<circle cx="305.53" cy="441.62" r="0.44" fill="#3e2c38" opacity="0.61"/>
<circle cx="295.65" cy="432.97" r="0.57" fill="#3e2c38" opacity="0.62"/>
<circle cx="317.40" cy="424.77" r="0.53" fill="#3e2c38" opacity="0.74"/>
<circle cx="309.14" cy="422.37" r="0.38" fill="#3e2c38" opacity="0.66"/>
<circle cx="312.11" cy="421.94" r="0.42" fill="#3e2c38" opacity="0.64"/>
<circle cx="305.49" cy="422.82" r="0.48" fill="#3e2c38" opacity="0.73"/>
<circle cx="315.69" cy="435.44" r="0.52" fill="#3e2c38" opacity="0.49"/>
<circle cx="300.41" cy="428.31" r="0.33" fill="#3e2c38" opacity="0.72"/>
<circle cx="301.24" cy="428.86" r="0.48" fill="#3e2c38" opacity="0.68"/>
<circle cx="319.18" cy="431.31" r="0.52" fill="#3e2c38" opacity="0.45"/>
<circle cx="314.39" cy="438.38" r="0.62" fill="#3e2c38" opacity="0.45"/>
<circle cx="309.36" cy="441.59" r="0.38" fill="#3e2c38" opacity="0.45"/>
<circle cx="310.12" cy="434.84" r="0.48" fill="#3e2c38" opacity="0.40"/>
<circle cx="305.58" cy="419.29" r="0.60" fill="#3e2c38" opacity="0.50"/>
<circle cx="321.71" cy="433.25" r="0.38" fill="#3e2c38" opacity="0.56"/>
<circle cx="307.53" cy="429.17" r="0.42" fill="#3e2c38" opacity="0.38"/>
<circle cx="303.94" cy="437.22" r="0.48" fill="#3e2c38" opacity="0.71"/>
<circle cx="321.63" cy="425.32" r="0.48" fill="#3e2c38" opacity="0.41"/>
<circle cx="304.43" cy="434.30" r="0.50" fill="#3e2c38" opacity="0.48"/>
<circle cx="319.04" cy="433.70" r="0.57" fill="#3e2c38" opacity="0.43"/>
<circle cx="310.22" cy="427.29" r="0.47" fill="#3e2c38" opacity="0.55"/>
<circle cx="313.33" cy="438.85" r="0.64" fill="#3e2c38" opacity="0.63"/>
<circle cx="294.81" cy="432.66" r="0.38" fill="#3e2c38" opacity="0.66"/>
<circle cx="307.34" cy="433.17" r="0.37" fill="#3e2c38" opacity="0.57"/>
<circle cx="304.56" cy="422.02" r="0.33" fill="#3e2c38" opacity="0.39"/>
<circle cx="302.53" cy="426.84" r="0.52" fill="#3e2c38" opacity="0.67"/>
<circle cx="302.90" cy="430.49" r="0.42" fill="#3e2c38" opacity="0.68"/>
<circle cx="312.85" cy="423.68" r="0.36" fill="#3e2c38" opacity="0.43"/>
<circle cx="303.55" cy="438.39" r="0.37" fill="#3e2c38" opacity="0.64"/>
<circle cx="321.59" cy="433.69" r="0.48" fill="#3e2c38" opacity="0.69"/>
<circle cx="314.45" cy="430.06" r="0.48" fill="#3e2c38" opacity="0.55"/>
<circle cx="321.63" cy="424.29" r="0.39" fill="#3e2c38" opacity="0.72"/>
<circle cx="300.38" cy="434.86" r="0.48" fill="#3e2c38" opacity="0.46"/>
<circle cx="303.96" cy="430.30" r="0.60" fill="#3e2c38" opacity="0.45"/>
<circle cx="322.01" cy="430.93" r="0.54" fill="#3e2c38" opacity="0.46"/>
<circle cx="301.34" cy="429.52" r="0.61" fill="#3e2c38" opacity="0.52"/>
<circle cx="306.55" cy="418.74" r="0.65" fill="#3e2c38" opacity="0.55"/>
<circle cx="297.50" cy="421.46" r="0.61" fill="#3e2c38" opacity="0.51"/>
<circle cx="318.99" cy="439.13" r="0.36" fill="#3e2c38" opacity="0.66"/>
<circle cx="297.83" cy="437.19" r="0.48" fill="#3e2c38" opacity="0.72"/>
<circle cx="309.36" cy="432.39" r="0.34" fill="#3e2c38" opacity="0.72"/>
<circle cx="307.39" cy="431.79" r="0.60" fill="#3e2c38" opacity="0.56"/>
<circle cx="314.40" cy="438.64" r="0.35" fill="#3e2c38" opacity="0.39"/>
<circle cx="310.77" cy="435.35" r="0.32" fill="#3e2c38" opacity="0.42"/>
<circle cx="318.58" cy="434.44" r="0.60" fill="#3e2c38" opacity="0.61"/>
<circle cx="314.47" cy="424.37" r="0.44" fill="#3e2c38" opacity="0.65"/>
<circle cx="306.66" cy="425.10" r="0.54" fill="#3e2c38" opacity="0.54"/>
<circle cx="307.64" cy="429.25" r="0.49" fill="#3e2c38" opacity="0.43"/>
<circle cx="302.40" cy="441.81" r="0.56" fill="#3e2c38" opacity="0.53"/>
<circle cx="319.95" cy="437.83" r="0.42" fill="#3e2c38" opacity="0.56"/>
<circle cx="320.81" cy="424.82" r="0.35" fill="#3e2c38" opacity="0.62"/>
<circle cx="316.95" cy="430.94" r="0.30" fill="#3e2c38" opacity="0.58"/>
<circle cx="307.57" cy="430.12" r="0.42" fill="#3e2c38" opacity="0.60"/>
<circle cx="316.21" cy="431.58" r="0.48" fill="#3e2c38" opacity="0.56"/>
<circle cx="314.30" cy="434.52" r="0.40" fill="#3e2c38" opacity="0.59"/>
<circle cx="302.43" cy="431.76" r="0.34" fill="#3e2c38" opacity="0.55"/>
<circle cx="312.03" cy="432.79" r="0.31" fill="#3e2c38" opacity="0.58"/>
<circle cx="311.57" cy="430.99" r="0.55" fill="#3e2c38" opacity="0.70"/>
<circle cx="303.02" cy="415.39" r="0.62" fill="#3e2c38" opacity="0.44"/>
<circle cx="305.20" cy="420.16" r="0.59" fill="#3e2c38" opacity="0.70"/>
<circle cx="318.07" cy="423.18" r="0.34" fill="#3e2c38" opacity="0.42"/>
<circle cx="314.94" cy="415.82" r="0.43" fill="#3e2c38" opacity="0.49"/>
<circle cx="315.34" cy="416.97" r="0.57" fill="#3e2c38" opacity="0.72"/>
<circle cx="319.38" cy="426.90" r="0.38" fill="#3e2c38" opacity="0.64"/>
<circle cx="299.14" cy="432.70" r="0.58" fill="#3e2c38" opacity="0.72"/>
<circle cx="310.44" cy="424.11" r="0.54" fill="#3e2c38" opacity="0.35"/>
<circle cx="301.09" cy="434.54" r="0.55" fill="#3e2c38" opacity="0.75"/>
<circle cx="301.67" cy="423.69" r="0.38" fill="#3e2c38" opacity="0.71"/>
<circle cx="320.05" cy="435.20" r="0.60" fill="#3e2c38" opacity="0.64"/>
<circle cx="294.42" cy="427.04" r="0.55" fill="#3e2c38" opacity="0.38"/>
<circle cx="311.03" cy="427.73" r="0.39" fill="#3e2c38" opacity="0.72"/>
<circle cx="314.78" cy="438.21" r="0.60" fill="#3e2c38" opacity="0.53"/>
<circle cx="307.29" cy="434.36" r="0.60" fill="#3e2c38" opacity="0.56"/>
<circle cx="319.39" cy="441.52" r="0.39" fill="#3e2c38" opacity="0.71"/>
<circle cx="306.02" cy="419.78" r="0.55" fill="#3e2c38" opacity="0.47"/>
<circle cx="308.09" cy="422.77" r="0.51" fill="#3e2c38" opacity="0.58"/>
<circle cx="296.12" cy="433.89" r="0.55" fill="#3e2c38" opacity="0.42"/>
<circle cx="313.28" cy="421.67" r="0.60" fill="#3e2c38" opacity="0.74"/>
<circle cx="314.92" cy="436.02" r="0.32" fill="#3e2c38" opacity="0.68"/>
<circle cx="306.53" cy="424.35" r="0.62" fill="#3e2c38" opacity="0.48"/>
<circle cx="314.23" cy="444.04" r="0.59" fill="#3e2c38" opacity="0.40"/>
<circle cx="323.68" cy="420.53" r="0.59" fill="#3e2c38" opacity="0.56"/>
<circle cx="306.02" cy="426.01" r="0.53" fill="#3e2c38" opacity="0.74"/>
<circle cx="310.90" cy="421.64" r="0.54" fill="#3e2c38" opacity="0.65"/>
<circle cx="316.08" cy="443.20" r="0.33" fill="#3e2c38" opacity="0.39"/>
<circle cx="306.94" cy="438.89" r="0.51" fill="#3e2c38" opacity="0.74"/>
<circle cx="316.27" cy="416.44" r="0.54" fill="#3e2c38" opacity="0.63"/>
<circle cx="322.63" cy="433.30" r="0.50" fill="#3e2c38" opacity="0.61"/>
<circle cx="308.51" cy="428.07" r="0.50" fill="#3e2c38" opacity="0.70"/>
<circle cx="320.69" cy="434.51" r="0.60" fill="#3e2c38" opacity="0.43"/>
<circle cx="298.92" cy="429.58" r="0.58" fill="#3e2c38" opacity="0.53"/>
<circle cx="314.56" cy="422.41" r="0.65" fill="#3e2c38" opacity="0.66"/>
<circle cx="298.97" cy="437.07" r="0.57" fill="#3e2c38" opacity="0.57"/>
<circle cx="306.60" cy="415.81" r="0.63" fill="#3e2c38" opacity="0.69"/>
<circle cx="299.72" cy="420.79" r="0.41" fill="#3e2c38" opacity="0.46"/>
<circle cx="304.84" cy="424.53" r="0.57" fill="#3e2c38" opacity="0.38"/>
<circle cx="301.55" cy="436.55" r="0.53" fill="#3e2c38" opacity="0.49"/>
<circle cx="308.55" cy="440.79" r="0.60" fill="#3e2c38" opacity="0.73"/>
<circle cx="302.34" cy="428.02" r="0.50" fill="#3e2c38" opacity="0.71"/>
<circle cx="308.13" cy="428.16" r="0.43" fill="#3e2c38" opacity="0.56"/>
<circle cx="320.21" cy="440.50" r="0.45" fill="#3e2c38" opacity="0.58"/>
<circle cx="314.48" cy="436.42" r="0.33" fill="#3e2c38" opacity="0.61"/>
<circle cx="310.92" cy="427.28" r="0.32" fill="#3e2c38" opacity="0.42"/>
<circle cx="305.24" cy="442.18" r="0.60" fill="#3e2c38" opacity="0.74"/>
<circle cx="304.72" cy="428.58" r="0.61" fill="#3e2c38" opacity="0.61"/>
<circle cx="302.58" cy="426.77" r="0.36" fill="#3e2c38" opacity="0.53"/>
<circle cx="304.61" cy="430.73" r="0.41" fill="#3e2c38" opacity="0.40"/>
<circle cx="306.95" cy="434.88" r="0.43" fill="#3e2c38" opacity="0.67"/>
<circle cx="298.35" cy="426.63" r="0.46" fill="#3e2c38" opacity="0.65"/>
<circle cx="321.16" cy="436.35" r="0.49" fill="#3e2c38" opacity="0.60"/>
<circle cx="317.68" cy="420.39" r="0.51" fill="#3e2c38" opacity="0.41"/>
<circle cx="303.08" cy="441.72" r="0.31" fill="#3e2c38" opacity="0.39"/>
<circle cx="316.54" cy="442.73" r="0.45" fill="#3e2c38" opacity="0.73"/>
<circle cx="309.82" cy="431.61" r="0.56" fill="#3e2c38" opacity="0.46"/>
<circle cx="316.00" cy="434.80" r="0.53" fill="#3e2c38" opacity="0.72"/>
<circle cx="298.07" cy="432.12" r="0.32" fill="#3e2c38" opacity="0.47"/>
<circle cx="308.97" cy="424.88" r="0.41" fill="#3e2c38" opacity="0.37"/>
<circle cx="307.36" cy="418.18" r="0.54" fill="#3e2c38" opacity="0.49"/>
<circle cx="299.00" cy="424.92" r="0.46" fill="#3e2c38" opacity="0.41"/>
<circle cx="323.29" cy="435.08" r="0.52" fill="#3e2c38" opacity="0.63"/>
<circle cx="304.67" cy="420.75" r="0.31" fill="#3e2c38" opacity="0.72"/>
<circle cx="306.88" cy="443.67" r="0.36" fill="#3e2c38" opacity="0.72"/>
<circle cx="305.36" cy="427.66" r="0.39" fill="#3e2c38" opacity="0.62"/>
<circle cx="319.39" cy="425.99" r="0.52" fill="#3e2c38" opacity="0.68"/>
<circle cx="316.76" cy="428.85" r="0.38" fill="#3e2c38" opacity="0.64"/>
<circle cx="310.39" cy="413.50" r="0.43" fill="#3e2c38" opacity="0.70"/>
<circle cx="318.60" cy="440.51" r="0.60" fill="#3e2c38" opacity="0.65"/>
<circle cx="296.07" cy="421.57" r="0.58" fill="#3e2c38" opacity="0.35"/>
<circle cx="313.45" cy="423.10" r="0.41" fill="#3e2c38" opacity="0.57"/>
<circle cx="313.20" cy="413.88" r="0.31" fill="#3e2c38" opacity="0.52"/>
<circle cx="318.45" cy="437.39" r="0.35" fill="#3e2c38" opacity="0.59"/>
<circle cx="305.63" cy="421.81" r="0.53" fill="#3e2c38" opacity="0.63"/>
<circle cx="322.75" cy="426.38" r="0.49" fill="#3e2c38" opacity="0.57"/>
<circle cx="320.26" cy="429.38" r="0.59" fill="#3e2c38" opacity="0.51"/>
<circle cx="308.31" cy="428.04" r="0.47" fill="#3e2c38" opacity="0.72"/>
<circle cx="306.34" cy="429.52" r="0.44" fill="#3e2c38" opacity="0.44"/>
<circle cx="303.06" cy="418.61" r="0.46" fill="#3e2c38" opacity="0.57"/>
<circle cx="318.61" cy="416.11" r="0.50" fill="#3e2c38" opacity="0.56"/>
<circle cx="299.93" cy="426.26" r="0.60" fill="#3e2c38" opacity="0.74"/>
<circle cx="311.97" cy="438.25" r="0.44" fill="#3e2c38" opacity="0.55"/>
<circle cx="307.40" cy="418.03" r="0.62" fill="#3e2c38" opacity="0.62"/>
<circle cx="311.74" cy="435.34" r="0.38" fill="#3e2c38" opacity="0.49"/>
<circle cx="303.85" cy="433.19" r="0.31" fill="#3e2c38" opacity="0.52"/>
<circle cx="322.13" cy="422.08" r="0.44" fill="#3e2c38" opacity="0.64"/>
<circle cx="310.75" cy="417.36" r="0.52" fill="#3e2c38" opacity="0.42"/>
<circle cx="296.01" cy="432.93" r="0.44" fill="#3e2c38" opacity="0.39"/>
<circle cx="317.68" cy="426.16" r="0.52" fill="#3e2c38" opacity="0.55"/>
<circle cx="322.97" cy="431.07" r="0.63" fill="#3e2c38" opacity="0.70"/>
<circle cx="311.05" cy="437.54" r="0.51" fill="#3e2c38" opacity="0.59"/>
<circle cx="304.51" cy="438.98" r="0.62" fill="#3e2c38" opacity="0.50"/>
<circle cx="310.15" cy="413.33" r="0.61" fill="#3e2c38" opacity="0.48"/>
<circle cx="307.14" cy="414.93" r="0.35" fill="#3e2c38" opacity="0.67"/>
<circle cx="324.34" cy="430.90" r="0.60" fill="#3e2c38" opacity="0.53"/>
<circle cx="317.94" cy="427.95" r="0.38" fill="#3e2c38" opacity="0.55"/>
<circle cx="316.37" cy="428.89" r="0.44" fill="#3e2c38" opacity="0.45"/>
<circle cx="304.63" cy="438.39" r="0.33" fill="#3e2c38" opacity="0.56"/>
<circle cx="305.94" cy="417.24" r="0.33" fill="#3e2c38" opacity="0.57"/>
<circle cx="307.76" cy="420.09" r="0.50" fill="#3e2c38" opacity="0.71"/>
<circle cx="310.39" cy="420.34" r="0.31" fill="#3e2c38" opacity="0.47"/>
<circle cx="312.62" cy="429.07" r="0.32" fill="#3e2c38" opacity="0.57"/>
<circle cx="300.14" cy="426.98" r="0.51" fill="#3e2c38" opacity="0.49"/>
<circle cx="303.10" cy="427.38" r="0.33" fill="#3e2c38" opacity="0.73"/>
<circle cx="309.32" cy="414.99" r="0.60" fill="#3e2c38" opacity="0.53"/>
<circle cx="310.50" cy="434.47" r="0.55" fill="#3e2c38" opacity="0.67"/>
<circle cx="317.70" cy="425.50" r="0.59" fill="#3e2c38" opacity="0.54"/>
<circle cx="311.32" cy="421.95" r="0.52" fill="#3e2c38" opacity="0.58"/>
<circle cx="311.53" cy="425.49" r="0.64" fill="#3e2c38" opacity="0.57"/>
<circle cx="311.80" cy="426.55" r="0.58" fill="#3e2c38" opacity="0.68"/>
<circle cx="304.81" cy="436.58" r="0.60" fill="#3e2c38" opacity="0.47"/>
<circle cx="314.49" cy="440.70" r="0.59" fill="#3e2c38" opacity="0.57"/>
<circle cx="316.81" cy="435.87" r="0.51" fill="#3e2c38" opacity="0.62"/>
<circle cx="307.22" cy="416.02" r="0.64" fill="#3e2c38" opacity="0.36"/>
<circle cx="314.59" cy="422.16" r="0.32" fill="#3e2c38" opacity="0.46"/>
<circle cx="310.22" cy="432.95" r="0.46" fill="#3e2c38" opacity="0.72"/>
<circle cx="305.76" cy="423.72" r="0.38" fill="#3e2c38" opacity="0.39"/>
<circle cx="306.27" cy="426.60" r="0.45" fill="#3e2c38" opacity="0.75"/>
<circle cx="322.78" cy="423.22" r="0.46" fill="#3e2c38" opacity="0.41"/>
<circle cx="302.78" cy="435.55" r="0.49" fill="#3e2c38" opacity="0.62"/>
<circle cx="319.29" cy="435.26" r="0.47" fill="#3e2c38" opacity="0.38"/>
<circle cx="310.84" cy="442.73" r="0.60" fill="#3e2c38" opacity="0.38"/>
<circle cx="305.79" cy="420.39" r="0.64" fill="#3e2c38" opacity="0.50"/>
<circle cx="319.57" cy="439.91" r="0.47" fill="#3e2c38" opacity="0.72"/>
<circle cx="309.08" cy="432.59" r="0.51" fill="#3e2c38" opacity="0.71"/>
<circle cx="314.75" cy="436.26" r="0.51" fill="#3e2c38" opacity="0.68"/>
<circle cx="310.82" cy="438.62" r="0.59" fill="#3e2c38" opacity="0.69"/>
<circle cx="299.52" cy="428.57" r="0.49" fill="#3e2c38" opacity="0.67"/>
<circle cx="314.10" cy="433.95" r="0.59" fill="#3e2c38" opacity="0.48"/>
<circle cx="314.00" cy="430.72" r="0.36" fill="#3e2c38" opacity="0.53"/>
<circle cx="324.51" cy="425.81" r="0.46" fill="#3e2c38" opacity="0.51"/>
<circle cx="300.50" cy="423.61" r="0.37" fill="#3e2c38" opacity="0.74"/>
<circle cx="314.30" cy="427.09" r="0.56" fill="#3e2c38" opacity="0.49"/>
<circle cx="307.14" cy="434.37" r="0.53" fill="#3e2c38" opacity="0.43"/>
<circle cx="315.57" cy="426.26" r="0.62" fill="#3e2c38" opacity="0.73"/>
<circle cx="322.89" cy="425.13" r="0.60" fill="#3e2c38" opacity="0.37"/>
<circle cx="309.38" cy="427.74" r="0.55" fill="#3e2c38" opacity="0.73"/>
<circle cx="325.44" cy="431.20" r="0.64" fill="#3e2c38" opacity="0.68"/>
<circle cx="309.79" cy="420.19" r="0.59" fill="#3e2c38" opacity="0.36"/>
<circle cx="302.03" cy="419.78" r="0.46" fill="#3e2c38" opacity="0.59"/>
<circle cx="317.86" cy="440.80" r="0.55" fill="#3e2c38" opacity="0.54"/>
<circle cx="297.70" cy="422.91" r="0.60" fill="#3e2c38" opacity="0.54"/>
<circle cx="306.52" cy="443.32" r="0.31" fill="#3e2c38" opacity="0.66"/>
<circle cx="318.80" cy="433.12" r="0.57" fill="#3e2c38" opacity="0.56"/>
<circle cx="318.63" cy="417.93" r="0.47" fill="#3e2c38" opacity="0.68"/>
<circle cx="322.48" cy="436.86" r="0.39" fill="#3e2c38" opacity="0.51"/>
<circle cx="317.87" cy="421.18" r="0.52" fill="#3e2c38" opacity="0.73"/>
<circle cx="304.86" cy="432.75" r="0.54" fill="#3e2c38" opacity="0.59"/>
<circle cx="305.92" cy="418.80" r="0.54" fill="#3e2c38" opacity="0.74"/>
<circle cx="305.05" cy="426.55" r="0.49" fill="#3e2c38" opacity="0.60"/>
<circle cx="309.41" cy="428.14" r="0.36" fill="#3e2c38" opacity="0.44"/>
<circle cx="317.32" cy="443.00" r="0.44" fill="#3e2c38" opacity="0.69"/>
<circle cx="302.91" cy="439.13" r="0.48" fill="#3e2c38" opacity="0.68"/>
<circle cx="312.46" cy="436.24" r="0.30" fill="#3e2c38" opacity="0.43"/>
<circle cx="316.16" cy="428.05" r="0.46" fill="#3e2c38" opacity="0.72"/>
<circle cx="310.26" cy="431.14" r="0.42" fill="#3e2c38" opacity="0.51"/>
<circle cx="311.96" cy="444.01" r="0.43" fill="#3e2c38" opacity="0.39"/>
<circle cx="318.72" cy="435.63" r="0.47" fill="#3e2c38" opacity="0.70"/>
<circle cx="320.95" cy="435.52" r="0.31" fill="#3e2c38" opacity="0.36"/>
<circle cx="320.51" cy="439.33" r="0.49" fill="#3e2c38" opacity="0.60"/>
<circle cx="304.04" cy="432.04" r="0.42" fill="#3e2c38" opacity="0.61"/>
<circle cx="304.67" cy="437.26" r="0.65" fill="#3e2c38" opacity="0.53"/>
<circle cx="319.84" cy="426.43" r="0.60" fill="#3e2c38" opacity="0.44"/>
<circle cx="311.10" cy="436.52" r="0.62" fill="#3e2c38" opacity="0.62"/>
<circle cx="297.82" cy="422.12" r="0.49" fill="#3e2c38" opacity="0.61"/>
<circle cx="308.87" cy="417.78" r="0.56" fill="#3e2c38" opacity="0.38"/>
<circle cx="323.28" cy="428.18" r="0.52" fill="#3e2c38" opacity="0.69"/>
<circle cx="312.83" cy="433.32" r="0.49" fill="#3e2c38" opacity="0.50"/>
<circle cx="314.36" cy="419.42" r="0.59" fill="#3e2c38" opacity="0.62"/>
<circle cx="312.98" cy="425.03" r="0.39" fill="#3e2c38" opacity="0.48"/>
<circle cx="316.41" cy="437.27" r="0.41" fill="#3e2c38" opacity="0.59"/>
<circle cx="303.55" cy="418.26" r="0.33" fill="#3e2c38" opacity="0.54"/>
<circle cx="302.09" cy="416.85" r="0.47" fill="#3e2c38" opacity="0.40"/>
<circle cx="319.32" cy="425.31" r="0.65" fill="#3e2c38" opacity="0.35"/>
<circle cx="314.45" cy="438.94" r="0.37" fill="#3e2c38" opacity="0.59"/>
<circle cx="313.96" cy="418.60" r="0.53" fill="#3e2c38" opacity="0.43"/>
<circle cx="297.07" cy="422.32" r="0.40" fill="#3e2c38" opacity="0.70"/>
<circle cx="317.36" cy="435.33" r="0.34" fill="#3e2c38" opacity="0.58"/>
<circle cx="325.07" cy="425.87" r="0.64" fill="#3e2c38" opacity="0.46"/>
<circle cx="313.03" cy="437.60" r="0.34" fill="#3e2c38" opacity="0.52"/>
<circle cx="309.82" cy="438.18" r="0.45" fill="#3e2c38" opacity="0.56"/>
<circle cx="317.64" cy="441.31" r="0.35" fill="#3e2c38" opacity="0.61"/>
<circle cx="318.65" cy="439.53" r="0.54" fill="#3e2c38" opacity="0.75"/>
<circle cx="294.47" cy="429.42" r="0.37" fill="#3e2c38" opacity="0.42"/>
<circle cx="302.14" cy="435.24" r="0.54" fill="#3e2c38" opacity="0.48"/>
<circle cx="301.67" cy="415.39" r="0.32" fill="#3e2c38" opacity="0.72"/>
<circle cx="322.55" cy="430.21" r="0.50" fill="#3e2c38" opacity="0.73"/>
<circle cx="310.13" cy="424.66" r="0.43" fill="#3e2c38" opacity="0.72"/>
<circle cx="296.24" cy="436.25" r="0.43" fill="#3e2c38" opacity="0.64"/>
<circle cx="299.63" cy="424.29" r="0.65" fill="#3e2c38" opacity="0.63"/>
<circle cx="316.66" cy="439.63" r="0.62" fill="#3e2c38" opacity="0.67"/>
<circle cx="312.22" cy="427.69" r="0.40" fill="#3e2c38" opacity="0.43"/>
<circle cx="314.72" cy="436.71" r="0.62" fill="#3e2c38" opacity="0.52"/>
<circle cx="296.94" cy="431.35" r="0.33" fill="#3e2c38" opacity="0.66"/>
<circle cx="303.79" cy="432.58" r="0.41" fill="#3e2c38" opacity="0.74"/>
<circle cx="297.69" cy="433.94" r="0.55" fill="#3e2c38" opacity="0.70"/>
<circle cx="309.19" cy="426.51" r="0.47" fill="#3e2c38" opacity="0.55"/>
<circle cx="306.92" cy="424.36" r="0.59" fill="#3e2c38" opacity="0.47"/>
<circle cx="306.63" cy="429.02" r="0.61" fill="#3e2c38" opacity="0.53"/>
<circle cx="320.10" cy="426.90" r="0.40" fill="#3e2c38" opacity="0.49"/>
<circle cx="302.64" cy="421.99" r="0.52" fill="#3e2c38" opacity="0.38"/>
<circle cx="306.57" cy="432.61" r="0.57" fill="#3e2c38" opacity="0.48"/>
<circle cx="299.92" cy="435.01" r="0.59" fill="#3e2c38" opacity="0.41"/>
<circle cx="324.73" cy="425.61" r="0.38" fill="#3e2c38" opacity="0.48"/>
<circle cx="317.73" cy="437.11" r="0.50" fill="#3e2c38" opacity="0.56"/>
<circle cx="321.31" cy="431.77" r="0.59" fill="#3e2c38" opacity="0.44"/>
<circle cx="305.17" cy="416.58" r="0.35" fill="#3e2c38" opacity="0.75"/>
<circle cx="296.20" cy="422.87" r="0.41" fill="#3e2c38" opacity="0.52"/>
<circle cx="301.12" cy="429.36" r="0.48" fill="#3e2c38" opacity="0.43"/>
<circle cx="303.37" cy="428.11" r="0.47" fill="#3e2c38" opacity="0.42"/>
<circle cx="309.49" cy="417.66" r="0.63" fill="#3e2c38" opacity="0.54"/>
<circle cx="320.58" cy="416.92" r="0.48" fill="#3e2c38" opacity="0.63"/>
<circle cx="309.88" cy="432.07" r="0.57" fill="#3e2c38" opacity="0.39"/>
<circle cx="303.48" cy="429.12" r="0.33" fill="#3e2c38" opacity="0.70"/>
<circle cx="300.15" cy="439.49" r="0.62" fill="#3e2c38" opacity="0.40"/>
<circle cx="316.24" cy="417.51" r="0.37" fill="#3e2c38" opacity="0.55"/>
<circle cx="304.77" cy="424.89" r="0.39" fill="#3e2c38" opacity="0.35"/>
<circle cx="299.47" cy="436.70" r="0.55" fill="#3e2c38" opacity="0.44"/>
<circle cx="314.35" cy="422.67" r="0.34" fill="#3e2c38" opacity="0.47"/>
<circle cx="314.19" cy="423.23" r="0.52" fill="#3e2c38" opacity="0.71"/>
<circle cx="302.63" cy="419.37" r="0.62" fill="#3e2c38" opacity="0.73"/>
<circle cx="310.65" cy="429.53" r="0.37" fill="#3e2c38" opacity="0.66"/>
<circle cx="305.77" cy="435.04" r="0.63" fill="#3e2c38" opacity="0.37"/>
<circle cx="305.85" cy="438.00" r="0.38" fill="#3e2c38" opacity="0.45"/>
<circle cx="317.66" cy="440.25" r="0.61" fill="#3e2c38" opacity="0.40"/>
<circle cx="310.33" cy="444.54" r="0.38" fill="#3e2c38" opacity="0.70"/>
<circle cx="313.98" cy="435.72" r="0.41" fill="#3e2c38" opacity="0.50"/>
<circle cx="312.17" cy="433.52" r="0.63" fill="#3e2c38" opacity="0.51"/>
<circle cx="311.45" cy="418.56" r="0.32" fill="#3e2c38" opacity="0.38"/>
<circle cx="315.33" cy="428.65" r="0.56" fill="#3e2c38" opacity="0.39"/>
<circle cx="310.75" cy="436.89" r="0.53" fill="#3e2c38" opacity="0.66"/>
<circle cx="320.56" cy="426.43" r="0.33" fill="#3e2c38" opacity="0.63"/>
<circle cx="311.95" cy="424.64" r="0.48" fill="#3e2c38" opacity="0.54"/>
<circle cx="309.67" cy="414.43" r="0.33" fill="#3e2c38" opacity="0.48"/>
<circle cx="317.92" cy="433.55" r="0.42" fill="#3e2c38" opacity="0.44"/>
<circle cx="300.69" cy="422.48" r="0.32" fill="#3e2c38" opacity="0.48"/>
<circle cx="302.70" cy="438.43" r="0.58" fill="#3e2c38" opacity="0.68"/>
<circle cx="316.60" cy="426.95" r="0.47" fill="#3e2c38" opacity="0.44"/>
<circle cx="309.77" cy="428.20" r="0.35" fill="#3e2c38" opacity="0.66"/>
<circle cx="304.28" cy="414.29" r="0.33" fill="#3e2c38" opacity="0.42"/>
<circle cx="304.40" cy="426.00" r="0.62" fill="#3e2c38" opacity="0.39"/>
<circle cx="306.50" cy="434.61" r="0.64" fill="#3e2c38" opacity="0.68"/>
<circle cx="312.51" cy="434.26" r="0.45" fill="#3e2c38" opacity="0.55"/>
<circle cx="313.93" cy="429.73" r="0.36" fill="#3e2c38" opacity="0.37"/>
<circle cx="309.55" cy="421.22" r="0.56" fill="#3e2c38" opacity="0.50"/>
<circle cx="301.74" cy="434.88" r="0.31" fill="#3e2c38" opacity="0.71"/>
<circle cx="318.98" cy="433.02" r="0.32" fill="#3e2c38" opacity="0.62"/>
<circle cx="301.27" cy="430.83" r="0.51" fill="#3e2c38" opacity="0.52"/>
<circle cx="323.64" cy="433.46" r="0.50" fill="#3e2c38" opacity="0.36"/>
<circle cx="318.62" cy="440.72" r="0.39" fill="#3e2c38" opacity="0.56"/>
<circle cx="295.33" cy="428.95" r="0.62" fill="#3e2c38" opacity="0.39"/>
<circle cx="313.55" cy="431.91" r="0.31" fill="#3e2c38" opacity="0.70"/>
<circle cx="299.39" cy="438.14" r="0.38" fill="#3e2c38" opacity="0.48"/>
<circle cx="315.09" cy="434.69" r="0.54" fill="#3e2c38" opacity="0.50"/>
<circle cx="305.77" cy="439.62" r="0.52" fill="#3e2c38" opacity="0.36"/>
<circle cx="315.78" cy="423.61" r="0.52" fill="#3e2c38" opacity="0.46"/>
<circle cx="307.34" cy="437.32" r="0.38" fill="#3e2c38" opacity="0.39"/>
<circle cx="296.59" cy="432.24" r="0.34" fill="#3e2c38" opacity="0.56"/>
<circle cx="314.91" cy="422.73" r="0.53" fill="#3e2c38" opacity="0.55"/>
<circle cx="297.13" cy="430.03" r="0.45" fill="#3e2c38" opacity="0.36"/>
<circle cx="308.80" cy="430.42" r="0.32" fill="#3e2c38" opacity="0.73"/>
<circle cx="303.66" cy="433.84" r="0.64" fill="#3e2c38" opacity="0.38"/>
<circle cx="321.06" cy="430.16" r="0.43" fill="#3e2c38" opacity="0.45"/>
<circle cx="314.87" cy="436.50" r="0.43" fill="#3e2c38" opacity="0.50"/>
<circle cx="319.64" cy="435.98" r="0.32" fill="#3e2c38" opacity="0.50"/>
<circle cx="308.58" cy="428.62" r="0.35" fill="#3e2c38" opacity="0.49"/>
<circle cx="308.37" cy="425.42" r="0.57" fill="#3e2c38" opacity="0.43"/>
<circle cx="318.56" cy="415.29" r="0.62" fill="#3e2c38" opacity="0.73"/>
<circle cx="317.17" cy="427.61" r="0.64" fill="#3e2c38" opacity="0.51"/>
<circle cx="307.36" cy="423.67" r="0.50" fill="#3e2c38" opacity="0.49"/>
<circle cx="321.30" cy="439.23" r="0.60" fill="#3e2c38" opacity="0.66"/>
<circle cx="295.65" cy="434.44" r="0.51" fill="#3e2c38" opacity="0.48"/>
<circle cx="310.30" cy="413.65" r="0.61" fill="#3e2c38" opacity="0.63"/>
<circle cx="321.53" cy="419.99" r="0.38" fill="#3e2c38" opacity="0.41"/>
<circle cx="320.92" cy="437.31" r="0.50" fill="#3e2c38" opacity="0.50"/>
<circle cx="299.86" cy="441.03" r="0.41" fill="#3e2c38" opacity="0.71"/>
<circle cx="313.38" cy="414.86" r="0.56" fill="#3e2c38" opacity="0.41"/>
<circle cx="310.00" cy="429.30" r="12.32" fill="url(#hc6)"/>
<circle cx="310.00" cy="429.30" r="4.76" fill="#2a2020" opacity="0.85"/>
</g>
</g>
<g clip-path="url(#clipc7)">
<rect x="335.2" y="403.8" width="49.60" height="50.00" fill="url(#gc7)"/>
<g filter="url(#soft)">
<circle cx="353.96" cy="427.41" r="0.40" fill="#4a3444" opacity="0.44"/>
<circle cx="348.36" cy="424.17" r="0.41" fill="#4a3444" opacity="0.57"/>
<circle cx="362.52" cy="433.89" r="0.43" fill="#4a3444" opacity="0.50"/>
<circle cx="359.93" cy="420.79" r="0.32" fill="#4a3444" opacity="0.70"/>
<circle cx="357.17" cy="426.34" r="0.33" fill="#4a3444" opacity="0.41"/>
<circle cx="365.62" cy="428.72" r="0.65" fill="#4a3444" opacity="0.73"/>
<circle cx="349.45" cy="433.56" r="0.37" fill="#4a3444" opacity="0.58"/>
<circle cx="366.42" cy="432.34" r="0.53" fill="#4a3444" opacity="0.47"/>
<circle cx="367.62" cy="436.12" r="0.59" fill="#4a3444" opacity="0.54"/>
<circle cx="367.67" cy="437.55" r="0.53" fill="#4a3444" opacity="0.62"/>
<circle cx="355.21" cy="432.52" r="0.48" fill="#4a3444" opacity="0.38"/>
<circle cx="353.74" cy="434.75" r="0.38" fill="#4a3444" opacity="0.53"/>
<circle cx="362.42" cy="431.51" r="0.64" fill="#4a3444" opacity="0.61"/>
<circle cx="356.23" cy="439.40" r="0.59" fill="#4a3444" opacity="0.69"/>
<circle cx="359.44" cy="429.64" r="0.43" fill="#4a3444" opacity="0.57"/>
<circle cx="360.07" cy="419.90" r="0.39" fill="#4a3444" opacity="0.52"/>
<circle cx="351.58" cy="428.29" r="0.32" fill="#4a3444" opacity="0.38"/>
<circle cx="360.73" cy="430.67" r="0.53" fill="#4a3444" opacity="0.69"/>
<circle cx="360.06" cy="426.59" r="0.31" fill="#4a3444" opacity="0.60"/>
<circle cx="357.21" cy="422.60" r="0.51" fill="#4a3444" opacity="0.43"/>
<circle cx="364.14" cy="432.27" r="0.49" fill="#4a3444" opacity="0.40"/>
<circle cx="354.09" cy="430.01" r="0.63" fill="#4a3444" opacity="0.69"/>
<circle cx="366.13" cy="421.14" r="0.51" fill="#4a3444" opacity="0.45"/>
<circle cx="355.12" cy="419.68" r="0.37" fill="#4a3444" opacity="0.74"/>
<circle cx="356.75" cy="435.19" r="0.58" fill="#4a3444" opacity="0.50"/>
<circle cx="354.58" cy="427.42" r="0.58" fill="#4a3444" opacity="0.57"/>
<circle cx="358.09" cy="419.85" r="0.47" fill="#4a3444" opacity="0.43"/>
<circle cx="357.76" cy="420.69" r="0.65" fill="#4a3444" opacity="0.36"/>
<circle cx="354.99" cy="426.54" r="0.41" fill="#4a3444" opacity="0.56"/>
<circle cx="355.64" cy="428.37" r="0.60" fill="#4a3444" opacity="0.50"/>
<circle cx="362.68" cy="427.14" r="0.42" fill="#4a3444" opacity="0.43"/>
<circle cx="348.03" cy="431.17" r="0.64" fill="#4a3444" opacity="0.67"/>
<circle cx="348.57" cy="424.73" r="0.32" fill="#4a3444" opacity="0.54"/>
<circle cx="359.08" cy="424.05" r="0.47" fill="#4a3444" opacity="0.57"/>
<circle cx="366.75" cy="431.35" r="0.56" fill="#4a3444" opacity="0.58"/>
<circle cx="364.93" cy="439.90" r="0.43" fill="#4a3444" opacity="0.38"/>
<circle cx="362.15" cy="440.08" r="0.49" fill="#4a3444" opacity="0.68"/>
<circle cx="350.14" cy="425.64" r="0.54" fill="#4a3444" opacity="0.75"/>
<circle cx="361.64" cy="437.01" r="0.33" fill="#4a3444" opacity="0.51"/>
<circle cx="366.33" cy="430.75" r="0.62" fill="#4a3444" opacity="0.69"/>
<circle cx="355.83" cy="416.97" r="0.49" fill="#4a3444" opacity="0.69"/>
<circle cx="356.00" cy="428.75" r="0.46" fill="#4a3444" opacity="0.64"/>
<circle cx="354.22" cy="438.50" r="0.60" fill="#4a3444" opacity="0.37"/>
<circle cx="349.21" cy="427.94" r="0.57" fill="#4a3444" opacity="0.72"/>
<circle cx="361.61" cy="435.01" r="0.42" fill="#4a3444" opacity="0.68"/>
<circle cx="364.32" cy="439.73" r="0.62" fill="#4a3444" opacity="0.44"/>
<circle cx="355.88" cy="428.00" r="0.61" fill="#4a3444" opacity="0.55"/>
<circle cx="355.07" cy="423.96" r="0.38" fill="#4a3444" opacity="0.58"/>
<circle cx="353.62" cy="436.22" r="0.64" fill="#4a3444" opacity="0.52"/>
<circle cx="357.01" cy="436.53" r="0.42" fill="#4a3444" opacity="0.60"/>
<circle cx="367.27" cy="421.89" r="0.38" fill="#4a3444" opacity="0.69"/>
<circle cx="362.74" cy="418.13" r="0.46" fill="#4a3444" opacity="0.63"/>
<circle cx="359.05" cy="418.24" r="0.33" fill="#4a3444" opacity="0.38"/>
<circle cx="347.84" cy="429.29" r="0.57" fill="#4a3444" opacity="0.57"/>
<circle cx="358.58" cy="417.49" r="0.47" fill="#4a3444" opacity="0.72"/>
<circle cx="361.25" cy="430.56" r="0.44" fill="#4a3444" opacity="0.38"/>
<circle cx="364.41" cy="425.29" r="0.65" fill="#4a3444" opacity="0.75"/>
<circle cx="370.64" cy="430.29" r="0.32" fill="#4a3444" opacity="0.70"/>
<circle cx="359.83" cy="435.72" r="0.64" fill="#4a3444" opacity="0.53"/>
<circle cx="363.10" cy="435.34" r="0.60" fill="#4a3444" opacity="0.43"/>
<circle cx="355.13" cy="432.98" r="0.39" fill="#4a3444" opacity="0.48"/>
<circle cx="365.15" cy="435.68" r="0.53" fill="#4a3444" opacity="0.55"/>
<circle cx="361.02" cy="434.38" r="0.45" fill="#4a3444" opacity="0.58"/>
<circle cx="360.52" cy="417.71" r="0.53" fill="#4a3444" opacity="0.37"/>
<circle cx="369.31" cy="433.84" r="0.35" fill="#4a3444" opacity="0.66"/>
<circle cx="363.14" cy="430.23" r="0.63" fill="#4a3444" opacity="0.65"/>
<circle cx="355.28" cy="423.12" r="0.48" fill="#4a3444" opacity="0.43"/>
<circle cx="364.07" cy="430.30" r="0.35" fill="#4a3444" opacity="0.55"/>
<circle cx="367.90" cy="427.74" r="0.43" fill="#4a3444" opacity="0.56"/>
<circle cx="354.04" cy="439.98" r="0.55" fill="#4a3444" opacity="0.36"/>
<circle cx="356.19" cy="420.63" r="0.44" fill="#4a3444" opacity="0.63"/>
<circle cx="360.68" cy="427.44" r="0.63" fill="#4a3444" opacity="0.66"/>
<circle cx="353.49" cy="419.91" r="0.63" fill="#4a3444" opacity="0.37"/>
<circle cx="355.01" cy="421.30" r="0.35" fill="#4a3444" opacity="0.69"/>
<circle cx="367.58" cy="428.23" r="0.44" fill="#4a3444" opacity="0.68"/>
<circle cx="361.39" cy="440.87" r="0.34" fill="#4a3444" opacity="0.57"/>
<circle cx="355.24" cy="430.53" r="0.44" fill="#4a3444" opacity="0.67"/>
<circle cx="367.75" cy="419.77" r="0.37" fill="#4a3444" opacity="0.73"/>
<circle cx="362.37" cy="430.56" r="0.58" fill="#4a3444" opacity="0.58"/>
<circle cx="357.47" cy="429.22" r="0.46" fill="#4a3444" opacity="0.51"/>
<circle cx="356.52" cy="429.12" r="0.45" fill="#4a3444" opacity="0.58"/>
<circle cx="357.43" cy="429.17" r="0.43" fill="#4a3444" opacity="0.55"/>
<circle cx="351.79" cy="424.26" r="0.38" fill="#4a3444" opacity="0.55"/>
<circle cx="362.49" cy="430.12" r="0.35" fill="#4a3444" opacity="0.56"/>
<circle cx="367.37" cy="429.59" r="0.52" fill="#4a3444" opacity="0.58"/>
<circle cx="364.72" cy="426.31" r="0.45" fill="#4a3444" opacity="0.69"/>
<circle cx="355.69" cy="425.36" r="0.64" fill="#4a3444" opacity="0.45"/>
<circle cx="352.56" cy="423.55" r="0.34" fill="#4a3444" opacity="0.36"/>
<circle cx="356.77" cy="427.20" r="0.43" fill="#4a3444" opacity="0.65"/>
<circle cx="368.99" cy="423.92" r="0.31" fill="#4a3444" opacity="0.49"/>
<circle cx="358.96" cy="425.48" r="0.45" fill="#4a3444" opacity="0.42"/>
<circle cx="363.41" cy="438.13" r="0.57" fill="#4a3444" opacity="0.53"/>
<circle cx="357.19" cy="426.64" r="0.47" fill="#4a3444" opacity="0.50"/>
<circle cx="352.75" cy="423.36" r="0.56" fill="#4a3444" opacity="0.63"/>
<circle cx="353.82" cy="424.78" r="0.46" fill="#4a3444" opacity="0.43"/>
<circle cx="364.18" cy="435.07" r="0.37" fill="#4a3444" opacity="0.59"/>
<circle cx="364.59" cy="428.11" r="0.45" fill="#4a3444" opacity="0.68"/>
<circle cx="358.35" cy="428.81" r="0.44" fill="#4a3444" opacity="0.70"/>
<circle cx="352.00" cy="431.95" r="0.60" fill="#4a3444" opacity="0.65"/>
<circle cx="359.96" cy="423.89" r="0.42" fill="#4a3444" opacity="0.66"/>
<circle cx="358.27" cy="432.93" r="0.63" fill="#4a3444" opacity="0.39"/>
<circle cx="351.92" cy="438.18" r="0.33" fill="#4a3444" opacity="0.41"/>
<circle cx="353.30" cy="418.56" r="0.41" fill="#4a3444" opacity="0.62"/>
<circle cx="364.03" cy="440.36" r="0.50" fill="#4a3444" opacity="0.68"/>
<circle cx="366.79" cy="435.04" r="0.30" fill="#4a3444" opacity="0.59"/>
<circle cx="361.87" cy="421.55" r="0.49" fill="#4a3444" opacity="0.71"/>
<circle cx="363.80" cy="438.56" r="0.48" fill="#4a3444" opacity="0.51"/>
<circle cx="368.30" cy="434.14" r="0.35" fill="#4a3444" opacity="0.56"/>
<circle cx="371.29" cy="431.71" r="0.57" fill="#4a3444" opacity="0.55"/>
<circle cx="360.28" cy="428.05" r="0.48" fill="#4a3444" opacity="0.38"/>
<circle cx="361.27" cy="423.54" r="0.33" fill="#4a3444" opacity="0.63"/>
<circle cx="363.94" cy="435.35" r="0.58" fill="#4a3444" opacity="0.35"/>
<circle cx="357.96" cy="418.60" r="0.52" fill="#4a3444" opacity="0.72"/>
<circle cx="349.09" cy="424.74" r="0.35" fill="#4a3444" opacity="0.38"/>
<circle cx="358.57" cy="426.69" r="0.37" fill="#4a3444" opacity="0.46"/>
<circle cx="357.68" cy="424.14" r="0.41" fill="#4a3444" opacity="0.55"/>
<circle cx="364.56" cy="434.39" r="0.34" fill="#4a3444" opacity="0.66"/>
<circle cx="356.72" cy="428.62" r="0.47" fill="#4a3444" opacity="0.38"/>
<circle cx="360.23" cy="438.55" r="0.35" fill="#4a3444" opacity="0.44"/>
<circle cx="366.64" cy="435.99" r="0.42" fill="#4a3444" opacity="0.36"/>
<circle cx="365.56" cy="431.64" r="0.63" fill="#4a3444" opacity="0.49"/>
<circle cx="355.54" cy="433.34" r="0.42" fill="#4a3444" opacity="0.74"/>
<circle cx="370.00" cy="423.25" r="0.51" fill="#4a3444" opacity="0.73"/>
<circle cx="358.92" cy="433.89" r="0.59" fill="#4a3444" opacity="0.68"/>
<circle cx="365.84" cy="437.72" r="0.39" fill="#4a3444" opacity="0.38"/>
<circle cx="367.68" cy="429.14" r="0.50" fill="#4a3444" opacity="0.66"/>
<circle cx="363.39" cy="428.67" r="0.62" fill="#4a3444" opacity="0.63"/>
<circle cx="355.13" cy="429.11" r="0.46" fill="#4a3444" opacity="0.60"/>
<circle cx="359.29" cy="428.37" r="0.64" fill="#4a3444" opacity="0.46"/>
<circle cx="359.55" cy="416.52" r="0.56" fill="#4a3444" opacity="0.69"/>
<circle cx="355.76" cy="417.12" r="0.46" fill="#4a3444" opacity="0.65"/>
<circle cx="350.52" cy="428.35" r="0.46" fill="#4a3444" opacity="0.42"/>
<circle cx="355.61" cy="428.85" r="0.39" fill="#4a3444" opacity="0.39"/>
<circle cx="358.30" cy="429.53" r="0.58" fill="#4a3444" opacity="0.45"/>
<circle cx="367.77" cy="430.49" r="0.37" fill="#4a3444" opacity="0.51"/>
<circle cx="370.47" cy="424.79" r="0.64" fill="#4a3444" opacity="0.48"/>
<circle cx="363.51" cy="436.19" r="0.64" fill="#4a3444" opacity="0.60"/>
<circle cx="350.73" cy="427.84" r="0.63" fill="#4a3444" opacity="0.55"/>
<circle cx="362.86" cy="434.28" r="0.40" fill="#4a3444" opacity="0.38"/>
<circle cx="356.41" cy="425.38" r="0.48" fill="#4a3444" opacity="0.72"/>
<circle cx="357.13" cy="436.09" r="0.42" fill="#4a3444" opacity="0.37"/>
<circle cx="357.58" cy="436.40" r="0.35" fill="#4a3444" opacity="0.47"/>
<circle cx="353.27" cy="424.62" r="0.34" fill="#4a3444" opacity="0.56"/>
<circle cx="351.47" cy="432.20" r="0.53" fill="#4a3444" opacity="0.74"/>
<circle cx="358.83" cy="429.48" r="0.33" fill="#4a3444" opacity="0.64"/>
<circle cx="356.98" cy="430.20" r="0.58" fill="#4a3444" opacity="0.57"/>
<circle cx="352.46" cy="420.40" r="0.56" fill="#4a3444" opacity="0.63"/>
<circle cx="365.25" cy="418.67" r="0.55" fill="#4a3444" opacity="0.37"/>
<circle cx="363.91" cy="431.55" r="0.60" fill="#4a3444" opacity="0.44"/>
<circle cx="366.51" cy="420.53" r="0.45" fill="#4a3444" opacity="0.42"/>
<circle cx="369.22" cy="435.29" r="0.33" fill="#4a3444" opacity="0.57"/>
<circle cx="366.59" cy="435.36" r="0.39" fill="#4a3444" opacity="0.65"/>
<circle cx="353.49" cy="437.49" r="0.60" fill="#4a3444" opacity="0.65"/>
<circle cx="357.41" cy="427.83" r="0.49" fill="#4a3444" opacity="0.55"/>
<circle cx="354.52" cy="425.21" r="0.65" fill="#4a3444" opacity="0.61"/>
<circle cx="366.72" cy="419.01" r="0.61" fill="#4a3444" opacity="0.65"/>
<circle cx="366.57" cy="435.63" r="0.62" fill="#4a3444" opacity="0.59"/>
<circle cx="370.34" cy="426.06" r="0.40" fill="#4a3444" opacity="0.50"/>
<circle cx="358.25" cy="422.15" r="0.57" fill="#4a3444" opacity="0.39"/>
<circle cx="365.83" cy="422.69" r="0.64" fill="#4a3444" opacity="0.48"/>
<circle cx="366.78" cy="436.90" r="0.54" fill="#4a3444" opacity="0.53"/>
<circle cx="356.91" cy="440.28" r="0.52" fill="#4a3444" opacity="0.57"/>
<circle cx="364.54" cy="429.73" r="0.55" fill="#4a3444" opacity="0.36"/>
<circle cx="364.36" cy="421.85" r="0.41" fill="#4a3444" opacity="0.47"/>
<circle cx="348.01" cy="428.81" r="0.38" fill="#4a3444" opacity="0.75"/>
<circle cx="350.22" cy="422.14" r="0.50" fill="#4a3444" opacity="0.65"/>
<circle cx="362.99" cy="421.33" r="0.62" fill="#4a3444" opacity="0.40"/>
<circle cx="355.67" cy="417.88" r="0.61" fill="#4a3444" opacity="0.59"/>
<circle cx="352.62" cy="424.10" r="0.38" fill="#4a3444" opacity="0.59"/>
<circle cx="364.86" cy="433.42" r="0.47" fill="#4a3444" opacity="0.40"/>
<circle cx="356.92" cy="431.52" r="0.58" fill="#4a3444" opacity="0.63"/>
<circle cx="352.87" cy="425.00" r="0.58" fill="#4a3444" opacity="0.65"/>
<circle cx="357.02" cy="436.56" r="0.44" fill="#4a3444" opacity="0.74"/>
<circle cx="349.90" cy="436.93" r="0.53" fill="#4a3444" opacity="0.68"/>
<circle cx="362.35" cy="434.54" r="0.52" fill="#4a3444" opacity="0.74"/>
<circle cx="361.70" cy="437.64" r="0.56" fill="#4a3444" opacity="0.57"/>
<circle cx="358.83" cy="433.77" r="0.58" fill="#4a3444" opacity="0.53"/>
<circle cx="351.71" cy="434.96" r="0.59" fill="#4a3444" opacity="0.41"/>
<circle cx="349.34" cy="427.00" r="0.55" fill="#4a3444" opacity="0.37"/>
<circle cx="369.36" cy="421.96" r="0.46" fill="#4a3444" opacity="0.35"/>
<circle cx="361.20" cy="428.90" r="0.45" fill="#4a3444" opacity="0.65"/>
<circle cx="354.31" cy="431.95" r="0.38" fill="#4a3444" opacity="0.73"/>
<circle cx="354.06" cy="430.01" r="0.41" fill="#4a3444" opacity="0.56"/>
<circle cx="353.03" cy="428.78" r="0.57" fill="#4a3444" opacity="0.47"/>
<circle cx="363.45" cy="421.42" r="0.34" fill="#4a3444" opacity="0.69"/>
<circle cx="356.57" cy="421.30" r="0.51" fill="#4a3444" opacity="0.53"/>
<circle cx="352.42" cy="436.88" r="0.44" fill="#4a3444" opacity="0.51"/>
<circle cx="352.53" cy="428.68" r="0.61" fill="#4a3444" opacity="0.41"/>
<circle cx="365.18" cy="430.97" r="0.62" fill="#4a3444" opacity="0.62"/>
<circle cx="349.11" cy="429.25" r="0.53" fill="#4a3444" opacity="0.44"/>
<circle cx="359.03" cy="429.39" r="0.40" fill="#4a3444" opacity="0.68"/>
<circle cx="361.88" cy="438.70" r="0.56" fill="#4a3444" opacity="0.71"/>
<circle cx="359.31" cy="436.07" r="0.30" fill="#4a3444" opacity="0.70"/>
<circle cx="364.43" cy="429.46" r="0.33" fill="#4a3444" opacity="0.70"/>
<circle cx="352.34" cy="421.07" r="0.52" fill="#4a3444" opacity="0.61"/>
<circle cx="359.96" cy="423.69" r="0.58" fill="#4a3444" opacity="0.74"/>
<circle cx="362.28" cy="433.35" r="0.33" fill="#4a3444" opacity="0.69"/>
<circle cx="358.50" cy="423.93" r="0.60" fill="#4a3444" opacity="0.37"/>
<circle cx="362.20" cy="428.64" r="0.35" fill="#4a3444" opacity="0.38"/>
<circle cx="357.84" cy="426.32" r="0.52" fill="#4a3444" opacity="0.47"/>
<circle cx="359.45" cy="428.58" r="0.40" fill="#4a3444" opacity="0.71"/>
<circle cx="359.29" cy="427.05" r="0.49" fill="#4a3444" opacity="0.40"/>
<circle cx="358.26" cy="416.57" r="0.43" fill="#4a3444" opacity="0.63"/>
<circle cx="362.59" cy="419.23" r="0.34" fill="#4a3444" opacity="0.40"/>
<circle cx="360.72" cy="419.79" r="0.56" fill="#4a3444" opacity="0.41"/>
<circle cx="347.70" cy="425.94" r="0.31" fill="#4a3444" opacity="0.45"/>
<circle cx="352.59" cy="429.89" r="0.46" fill="#4a3444" opacity="0.42"/>
<circle cx="361.96" cy="420.33" r="0.61" fill="#4a3444" opacity="0.40"/>
<circle cx="348.58" cy="434.94" r="0.56" fill="#4a3444" opacity="0.53"/>
<circle cx="371.51" cy="428.22" r="0.37" fill="#4a3444" opacity="0.55"/>
<circle cx="362.19" cy="439.41" r="0.31" fill="#4a3444" opacity="0.69"/>
<circle cx="360.78" cy="424.05" r="0.54" fill="#4a3444" opacity="0.44"/>
<circle cx="356.45" cy="428.55" r="0.38" fill="#4a3444" opacity="0.39"/>
<circle cx="365.58" cy="424.23" r="0.62" fill="#4a3444" opacity="0.63"/>
<circle cx="356.30" cy="428.84" r="0.60" fill="#4a3444" opacity="0.36"/>
<circle cx="363.94" cy="439.11" r="0.41" fill="#4a3444" opacity="0.41"/>
<circle cx="350.75" cy="425.88" r="0.51" fill="#4a3444" opacity="0.67"/>
<circle cx="364.79" cy="435.86" r="0.35" fill="#4a3444" opacity="0.72"/>
<circle cx="358.26" cy="439.50" r="0.57" fill="#4a3444" opacity="0.59"/>
<circle cx="370.71" cy="423.69" r="0.41" fill="#4a3444" opacity="0.51"/>
<circle cx="365.20" cy="427.45" r="0.32" fill="#4a3444" opacity="0.73"/>
<circle cx="354.50" cy="439.53" r="0.40" fill="#4a3444" opacity="0.64"/>
<circle cx="368.91" cy="434.31" r="0.61" fill="#4a3444" opacity="0.59"/>
<circle cx="367.25" cy="423.56" r="0.56" fill="#4a3444" opacity="0.57"/>
<circle cx="348.48" cy="426.96" r="0.36" fill="#4a3444" opacity="0.70"/>
<circle cx="363.46" cy="434.01" r="0.64" fill="#4a3444" opacity="0.42"/>
<circle cx="351.65" cy="435.84" r="0.57" fill="#4a3444" opacity="0.38"/>
<circle cx="362.48" cy="430.08" r="0.63" fill="#4a3444" opacity="0.42"/>
<circle cx="368.25" cy="428.33" r="0.41" fill="#4a3444" opacity="0.45"/>
<circle cx="354.70" cy="428.22" r="0.37" fill="#4a3444" opacity="0.37"/>
<circle cx="350.33" cy="423.93" r="0.58" fill="#4a3444" opacity="0.67"/>
<circle cx="357.13" cy="427.17" r="0.51" fill="#4a3444" opacity="0.57"/>
<circle cx="366.33" cy="430.00" r="0.38" fill="#4a3444" opacity="0.56"/>
<circle cx="364.29" cy="426.57" r="0.31" fill="#4a3444" opacity="0.54"/>
<circle cx="357.67" cy="422.96" r="0.49" fill="#4a3444" opacity="0.37"/>
<circle cx="350.54" cy="435.69" r="0.35" fill="#4a3444" opacity="0.39"/>
<circle cx="363.04" cy="420.64" r="0.40" fill="#4a3444" opacity="0.51"/>
<circle cx="361.57" cy="428.97" r="0.56" fill="#4a3444" opacity="0.45"/>
<circle cx="360.36" cy="437.63" r="0.64" fill="#4a3444" opacity="0.47"/>
<circle cx="362.44" cy="427.30" r="0.61" fill="#4a3444" opacity="0.74"/>
<circle cx="364.70" cy="432.70" r="0.63" fill="#4a3444" opacity="0.74"/>
<circle cx="367.73" cy="432.59" r="0.59" fill="#4a3444" opacity="0.36"/>
<circle cx="362.93" cy="437.75" r="0.41" fill="#4a3444" opacity="0.48"/>
<circle cx="360.17" cy="428.85" r="0.44" fill="#4a3444" opacity="0.56"/>
<circle cx="348.53" cy="434.90" r="0.42" fill="#4a3444" opacity="0.44"/>
<circle cx="361.81" cy="434.76" r="0.56" fill="#4a3444" opacity="0.71"/>
<circle cx="370.75" cy="424.83" r="0.52" fill="#4a3444" opacity="0.44"/>
<circle cx="349.54" cy="424.21" r="0.62" fill="#4a3444" opacity="0.54"/>
<circle cx="351.61" cy="426.32" r="0.55" fill="#4a3444" opacity="0.68"/>
<circle cx="369.03" cy="422.74" r="0.47" fill="#4a3444" opacity="0.35"/>
<circle cx="363.11" cy="425.82" r="0.60" fill="#4a3444" opacity="0.51"/>
<circle cx="364.64" cy="427.12" r="0.56" fill="#4a3444" opacity="0.41"/>
<circle cx="365.21" cy="422.68" r="0.45" fill="#4a3444" opacity="0.56"/>
<circle cx="366.12" cy="437.75" r="0.43" fill="#4a3444" opacity="0.73"/>
<circle cx="360.61" cy="422.45" r="0.56" fill="#4a3444" opacity="0.52"/>
<circle cx="358.39" cy="430.25" r="0.37" fill="#4a3444" opacity="0.59"/>
<circle cx="357.79" cy="426.25" r="0.62" fill="#4a3444" opacity="0.72"/>
<circle cx="356.80" cy="417.71" r="0.43" fill="#4a3444" opacity="0.68"/>
<circle cx="358.88" cy="437.91" r="0.38" fill="#4a3444" opacity="0.48"/>
<circle cx="361.67" cy="420.44" r="0.58" fill="#4a3444" opacity="0.39"/>
<circle cx="359.66" cy="422.35" r="0.54" fill="#4a3444" opacity="0.51"/>
<circle cx="354.66" cy="429.11" r="0.61" fill="#4a3444" opacity="0.63"/>
<circle cx="361.46" cy="433.49" r="0.41" fill="#4a3444" opacity="0.49"/>
<circle cx="370.86" cy="427.08" r="0.45" fill="#4a3444" opacity="0.68"/>
<circle cx="357.83" cy="425.69" r="0.52" fill="#4a3444" opacity="0.59"/>
<circle cx="359.21" cy="420.01" r="0.33" fill="#4a3444" opacity="0.63"/>
<circle cx="353.51" cy="436.06" r="0.52" fill="#4a3444" opacity="0.72"/>
<circle cx="354.02" cy="431.05" r="0.43" fill="#4a3444" opacity="0.42"/>
<circle cx="362.06" cy="418.38" r="0.41" fill="#4a3444" opacity="0.59"/>
<circle cx="353.41" cy="439.69" r="0.33" fill="#4a3444" opacity="0.62"/>
<circle cx="357.13" cy="432.96" r="0.50" fill="#4a3444" opacity="0.66"/>
<circle cx="359.54" cy="439.75" r="0.57" fill="#4a3444" opacity="0.52"/>
<circle cx="362.51" cy="435.77" r="0.45" fill="#4a3444" opacity="0.69"/>
<circle cx="356.68" cy="427.29" r="0.35" fill="#4a3444" opacity="0.64"/>
<circle cx="369.85" cy="425.70" r="0.31" fill="#4a3444" opacity="0.41"/>
<circle cx="349.77" cy="432.02" r="0.64" fill="#4a3444" opacity="0.47"/>
<circle cx="347.48" cy="431.34" r="0.60" fill="#4a3444" opacity="0.43"/>
<circle cx="370.72" cy="432.54" r="0.63" fill="#4a3444" opacity="0.35"/>
<circle cx="361.73" cy="426.63" r="0.52" fill="#4a3444" opacity="0.42"/>
<circle cx="361.59" cy="429.15" r="0.39" fill="#4a3444" opacity="0.43"/>
<circle cx="366.81" cy="425.55" r="0.65" fill="#4a3444" opacity="0.72"/>
<circle cx="356.05" cy="433.55" r="0.42" fill="#4a3444" opacity="0.56"/>
<circle cx="358.70" cy="426.56" r="0.55" fill="#4a3444" opacity="0.55"/>
<circle cx="359.47" cy="431.11" r="0.43" fill="#4a3444" opacity="0.41"/>
<circle cx="353.86" cy="426.40" r="0.46" fill="#4a3444" opacity="0.35"/>
<circle cx="365.19" cy="433.83" r="0.42" fill="#4a3444" opacity="0.49"/>
<circle cx="354.39" cy="419.46" r="0.49" fill="#4a3444" opacity="0.45"/>
<circle cx="358.03" cy="423.78" r="0.42" fill="#4a3444" opacity="0.37"/>
<circle cx="351.19" cy="435.73" r="0.53" fill="#4a3444" opacity="0.43"/>
<circle cx="361.95" cy="433.92" r="0.35" fill="#4a3444" opacity="0.53"/>
<circle cx="368.69" cy="432.69" r="0.53" fill="#4a3444" opacity="0.64"/>
<circle cx="367.12" cy="426.52" r="0.35" fill="#4a3444" opacity="0.74"/>
<circle cx="353.65" cy="420.90" r="0.35" fill="#4a3444" opacity="0.56"/>
<circle cx="367.81" cy="435.12" r="0.50" fill="#4a3444" opacity="0.72"/>
<circle cx="369.00" cy="435.21" r="0.46" fill="#4a3444" opacity="0.41"/>
<circle cx="364.41" cy="426.93" r="0.39" fill="#4a3444" opacity="0.42"/>
<circle cx="367.13" cy="427.23" r="0.47" fill="#4a3444" opacity="0.54"/>
<circle cx="350.90" cy="421.98" r="0.44" fill="#4a3444" opacity="0.57"/>
<circle cx="356.69" cy="433.28" r="0.58" fill="#4a3444" opacity="0.66"/>
<circle cx="366.02" cy="437.30" r="0.45" fill="#4a3444" opacity="0.41"/>
<circle cx="359.50" cy="428.50" r="5.50" fill="url(#hc7)"/>
<circle cx="359.50" cy="428.50" r="2.12" fill="#2a2020" opacity="0.85"/>
</g>
</g>
<g clip-path="url(#clipd1)">
<rect x="26.8" y="492.5" width="48.40" height="49.00" fill="url(#gd1)"/>
<g filter="url(#soft)">
<circle cx="48.20" cy="516.20" r="7.50" fill="#ffffff" opacity="0.6"/>
<circle cx="48.20" cy="516.20" r="6.0" fill="#4e4038"/>
<circle cx="50.14" cy="517.99" r="0.61" fill="#2e2420" opacity="0.8"/>
<circle cx="48.31" cy="513.01" r="0.66" fill="#2e2420" opacity="0.8"/>
<circle cx="51.70" cy="517.53" r="0.68" fill="#2e2420" opacity="0.8"/>
<circle cx="50.66" cy="513.23" r="0.75" fill="#9a8470" opacity="0.8"/>
<circle cx="45.10" cy="519.05" r="0.85" fill="#9a8470" opacity="0.8"/>
<circle cx="50.31" cy="519.69" r="0.59" fill="#9a8470" opacity="0.8"/>
<circle cx="48.24" cy="513.00" r="0.71" fill="#9a8470" opacity="0.8"/>
<circle cx="51.05" cy="520.36" r="0.65" fill="#2e2420" opacity="0.8"/>
<circle cx="51.07" cy="520.23" r="0.53" fill="#2e2420" opacity="0.8"/>
<circle cx="46.82" cy="515.53" r="0.89" fill="#2e2420" opacity="0.8"/>
<circle cx="50.27" cy="514.21" r="0.43" fill="#2e2420" opacity="0.8"/>
<circle cx="46.06" cy="519.71" r="0.49" fill="#9a8470" opacity="0.8"/>
<circle cx="51.41" cy="519.89" r="0.56" fill="#9a8470" opacity="0.8"/>
<circle cx="43.81" cy="515.70" r="0.71" fill="#8a7262" opacity="0.8"/>
<circle cx="44.48" cy="518.33" r="0.67" fill="#9a8470" opacity="0.8"/>
<circle cx="50.99" cy="515.04" r="0.83" fill="#8a7262" opacity="0.8"/>
<circle cx="44.21" cy="516.42" r="0.65" fill="#8a7262" opacity="0.8"/>
<circle cx="44.96" cy="517.34" r="0.65" fill="#9a8470" opacity="0.8"/>
<circle cx="50.86" cy="518.42" r="0.51" fill="#9a8470" opacity="0.8"/>
<circle cx="50.70" cy="517.09" r="0.87" fill="#9a8470" opacity="0.8"/>
<circle cx="46.86" cy="516.42" r="0.42" fill="#2e2420" opacity="0.8"/>
<circle cx="52.98" cy="514.57" r="0.46" fill="#8a7262" opacity="0.8"/>
</g>
</g>
<rect x="53.9" y="537.9" width="19.8" height="1.7" fill="#fff"/>
<g clip-path="url(#clipd2)">
<rect x="81.4" y="492.5" width="50.20" height="49.20" fill="url(#gd2)"/>
<g filter="url(#soft)">
<circle cx="107.90" cy="513.80" r="7.10" fill="#ffffff" opacity="0.6"/>
<circle cx="107.90" cy="513.80" r="5.6" fill="#4e4038"/>
<circle cx="105.46" cy="516.14" r="0.82" fill="#2e2420" opacity="0.8"/>
<circle cx="105.85" cy="509.82" r="0.44" fill="#8a7262" opacity="0.8"/>
<circle cx="111.02" cy="514.18" r="0.64" fill="#8a7262" opacity="0.8"/>
<circle cx="105.29" cy="514.99" r="0.76" fill="#2e2420" opacity="0.8"/>
<circle cx="110.96" cy="513.37" r="0.72" fill="#8a7262" opacity="0.8"/>
<circle cx="106.08" cy="514.13" r="0.41" fill="#9a8470" opacity="0.8"/>
<circle cx="109.14" cy="515.30" r="0.85" fill="#2e2420" opacity="0.8"/>
<circle cx="112.17" cy="514.94" r="0.77" fill="#9a8470" opacity="0.8"/>
<circle cx="111.94" cy="514.39" r="0.80" fill="#9a8470" opacity="0.8"/>
<circle cx="106.85" cy="516.15" r="0.45" fill="#2e2420" opacity="0.8"/>
<circle cx="105.81" cy="511.82" r="0.56" fill="#9a8470" opacity="0.8"/>
<circle cx="106.42" cy="515.48" r="0.90" fill="#9a8470" opacity="0.8"/>
<circle cx="105.17" cy="512.02" r="0.80" fill="#8a7262" opacity="0.8"/>
<circle cx="111.14" cy="513.44" r="0.83" fill="#9a8470" opacity="0.8"/>
<circle cx="107.57" cy="517.82" r="0.82" fill="#9a8470" opacity="0.8"/>
<circle cx="108.03" cy="509.81" r="0.81" fill="#2e2420" opacity="0.8"/>
<circle cx="104.99" cy="513.22" r="0.40" fill="#2e2420" opacity="0.8"/>
<circle cx="106.35" cy="517.70" r="0.48" fill="#8a7262" opacity="0.8"/>
<circle cx="106.28" cy="518.10" r="0.41" fill="#9a8470" opacity="0.8"/>
<circle cx="108.01" cy="513.37" r="0.80" fill="#9a8470" opacity="0.8"/>
<circle cx="106.47" cy="513.91" r="0.82" fill="#2e2420" opacity="0.8"/>
<circle cx="104.37" cy="514.30" r="0.80" fill="#9a8470" opacity="0.8"/>
</g>
</g>
<g clip-path="url(#clipd3)">
<rect x="131.8" y="491.5" width="50.60" height="49.90" fill="url(#gd3)"/>
<g filter="url(#soft)">
<circle cx="157.80" cy="518.50" r="8.30" fill="#ffffff" opacity="0.6"/>
<circle cx="157.80" cy="518.50" r="6.8" fill="#4e4038"/>
<circle cx="156.10" cy="522.52" r="0.74" fill="#2e2420" opacity="0.8"/>
<circle cx="153.42" cy="519.09" r="0.51" fill="#2e2420" opacity="0.8"/>
<circle cx="156.16" cy="515.35" r="0.85" fill="#2e2420" opacity="0.8"/>
<circle cx="158.42" cy="514.99" r="0.58" fill="#9a8470" opacity="0.8"/>
<circle cx="161.22" cy="515.78" r="0.78" fill="#9a8470" opacity="0.8"/>
<circle cx="159.12" cy="517.86" r="0.85" fill="#2e2420" opacity="0.8"/>
<circle cx="158.58" cy="521.89" r="0.60" fill="#8a7262" opacity="0.8"/>
<circle cx="157.87" cy="514.75" r="0.46" fill="#2e2420" opacity="0.8"/>
<circle cx="161.32" cy="515.08" r="0.51" fill="#9a8470" opacity="0.8"/>
<circle cx="152.25" cy="519.84" r="0.79" fill="#9a8470" opacity="0.8"/>
<circle cx="154.16" cy="520.24" r="0.52" fill="#2e2420" opacity="0.8"/>
<circle cx="159.84" cy="517.17" r="0.79" fill="#9a8470" opacity="0.8"/>
<circle cx="154.02" cy="515.14" r="0.73" fill="#9a8470" opacity="0.8"/>
<circle cx="156.31" cy="523.02" r="0.58" fill="#9a8470" opacity="0.8"/>
<circle cx="153.52" cy="515.95" r="0.45" fill="#8a7262" opacity="0.8"/>
<circle cx="163.27" cy="518.66" r="0.66" fill="#2e2420" opacity="0.8"/>
<circle cx="158.65" cy="523.49" r="0.73" fill="#9a8470" opacity="0.8"/>
<circle cx="161.40" cy="518.21" r="0.76" fill="#8a7262" opacity="0.8"/>
<circle cx="155.36" cy="521.34" r="0.58" fill="#9a8470" opacity="0.8"/>
<circle cx="159.29" cy="520.65" r="0.73" fill="#8a7262" opacity="0.8"/>
<circle cx="162.93" cy="518.15" r="0.68" fill="#2e2420" opacity="0.8"/>
<circle cx="152.53" cy="516.58" r="0.47" fill="#9a8470" opacity="0.8"/>
</g>
</g>
<g clip-path="url(#clipd4)">
<rect x="182.6" y="491.5" width="50.40" height="49.90" fill="url(#gd4)"/>
<g filter="url(#soft)">
<circle cx="209.10" cy="515.90" r="8.30" fill="#ffffff" opacity="0.6"/>
<circle cx="209.10" cy="515.90" r="6.8" fill="#4e4038"/>
<circle cx="213.31" cy="512.97" r="0.78" fill="#8a7262" opacity="0.8"/>
<circle cx="211.87" cy="512.19" r="0.62" fill="#2e2420" opacity="0.8"/>
<circle cx="205.93" cy="511.15" r="0.78" fill="#2e2420" opacity="0.8"/>
<circle cx="206.89" cy="514.77" r="0.67" fill="#9a8470" opacity="0.8"/>
<circle cx="208.28" cy="511.49" r="0.89" fill="#2e2420" opacity="0.8"/>
<circle cx="210.80" cy="520.21" r="0.50" fill="#2e2420" opacity="0.8"/>
<circle cx="211.46" cy="512.32" r="0.69" fill="#2e2420" opacity="0.8"/>
<circle cx="209.65" cy="511.18" r="0.61" fill="#2e2420" opacity="0.8"/>
<circle cx="213.55" cy="515.01" r="0.60" fill="#8a7262" opacity="0.8"/>
<circle cx="212.63" cy="513.17" r="0.40" fill="#2e2420" opacity="0.8"/>
<circle cx="212.21" cy="520.75" r="0.79" fill="#8a7262" opacity="0.8"/>
<circle cx="206.45" cy="516.23" r="0.50" fill="#8a7262" opacity="0.8"/>
<circle cx="210.94" cy="516.34" r="0.53" fill="#2e2420" opacity="0.8"/>
<circle cx="212.28" cy="512.32" r="0.63" fill="#8a7262" opacity="0.8"/>
<circle cx="205.87" cy="519.21" r="0.58" fill="#2e2420" opacity="0.8"/>
<circle cx="206.06" cy="515.22" r="0.61" fill="#9a8470" opacity="0.8"/>
<circle cx="208.75" cy="513.81" r="0.42" fill="#2e2420" opacity="0.8"/>
<circle cx="207.55" cy="518.50" r="0.48" fill="#8a7262" opacity="0.8"/>
<circle cx="211.07" cy="519.03" r="0.43" fill="#8a7262" opacity="0.8"/>
<circle cx="212.81" cy="511.95" r="0.42" fill="#2e2420" opacity="0.8"/>
<circle cx="205.99" cy="516.84" r="0.65" fill="#9a8470" opacity="0.8"/>
<circle cx="214.66" cy="515.57" r="0.80" fill="#9a8470" opacity="0.8"/>
</g>
</g>
<g clip-path="url(#clipd5)">
<rect x="237.4" y="491.3" width="50.80" height="50.30" fill="url(#gd5)"/>
<g filter="url(#soft)">
<circle cx="262.50" cy="517.90" r="8.20" fill="#ffffff" opacity="0.6"/>
<circle cx="262.50" cy="517.90" r="6.7" fill="#4e4038"/>
<circle cx="258.66" cy="516.29" r="0.57" fill="#9a8470" opacity="0.8"/>
<circle cx="259.20" cy="519.37" r="0.51" fill="#9a8470" opacity="0.8"/>
<circle cx="266.68" cy="515.44" r="0.72" fill="#8a7262" opacity="0.8"/>
<circle cx="261.58" cy="522.13" r="0.79" fill="#8a7262" opacity="0.8"/>
<circle cx="259.23" cy="514.71" r="0.52" fill="#2e2420" opacity="0.8"/>
<circle cx="261.33" cy="515.49" r="0.52" fill="#9a8470" opacity="0.8"/>
<circle cx="267.53" cy="515.51" r="0.82" fill="#9a8470" opacity="0.8"/>
<circle cx="259.47" cy="520.28" r="0.50" fill="#9a8470" opacity="0.8"/>
<circle cx="259.69" cy="515.08" r="0.79" fill="#2e2420" opacity="0.8"/>
<circle cx="264.26" cy="522.83" r="0.55" fill="#9a8470" opacity="0.8"/>
<circle cx="260.33" cy="516.72" r="0.72" fill="#9a8470" opacity="0.8"/>
<circle cx="264.02" cy="513.31" r="0.77" fill="#9a8470" opacity="0.8"/>
<circle cx="259.46" cy="517.97" r="0.77" fill="#2e2420" opacity="0.8"/>
<circle cx="262.51" cy="523.21" r="0.86" fill="#2e2420" opacity="0.8"/>
<circle cx="263.61" cy="516.83" r="0.70" fill="#2e2420" opacity="0.8"/>
<circle cx="267.24" cy="516.53" r="0.63" fill="#8a7262" opacity="0.8"/>
<circle cx="264.75" cy="515.58" r="0.67" fill="#2e2420" opacity="0.8"/>
<circle cx="267.03" cy="520.69" r="0.86" fill="#8a7262" opacity="0.8"/>
<circle cx="263.70" cy="515.30" r="0.65" fill="#2e2420" opacity="0.8"/>
<circle cx="259.98" cy="513.29" r="0.52" fill="#8a7262" opacity="0.8"/>
<circle cx="260.35" cy="518.63" r="0.83" fill="#2e2420" opacity="0.8"/>
<circle cx="260.95" cy="516.75" r="0.51" fill="#2e2420" opacity="0.8"/>
</g>
</g>
<g clip-path="url(#clipd6)">
<rect x="288.6" y="491.3" width="49.80" height="50.30" fill="url(#gd6)"/>
<g filter="url(#soft)">
<circle cx="315.50" cy="520.20" r="8.10" fill="#ffffff" opacity="0.6"/>
<circle cx="315.50" cy="520.20" r="6.6" fill="#4e4038"/>
<circle cx="316.64" cy="519.52" r="0.57" fill="#8a7262" opacity="0.8"/>
<circle cx="314.15" cy="517.00" r="0.78" fill="#8a7262" opacity="0.8"/>
<circle cx="317.04" cy="521.97" r="0.67" fill="#9a8470" opacity="0.8"/>
<circle cx="313.35" cy="523.57" r="0.83" fill="#9a8470" opacity="0.8"/>
<circle cx="312.13" cy="524.01" r="0.40" fill="#9a8470" opacity="0.8"/>
<circle cx="320.85" cy="518.54" r="0.80" fill="#8a7262" opacity="0.8"/>
<circle cx="315.01" cy="514.97" r="0.56" fill="#8a7262" opacity="0.8"/>
<circle cx="320.38" cy="517.70" r="0.47" fill="#2e2420" opacity="0.8"/>
<circle cx="310.23" cy="520.77" r="0.47" fill="#2e2420" opacity="0.8"/>
<circle cx="313.70" cy="519.57" r="0.57" fill="#9a8470" opacity="0.8"/>
<circle cx="319.34" cy="521.01" r="0.47" fill="#8a7262" opacity="0.8"/>
<circle cx="315.47" cy="521.19" r="0.50" fill="#8a7262" opacity="0.8"/>
<circle cx="317.64" cy="519.33" r="0.50" fill="#2e2420" opacity="0.8"/>
<circle cx="320.10" cy="519.46" r="0.62" fill="#8a7262" opacity="0.8"/>
<circle cx="315.38" cy="517.21" r="0.78" fill="#8a7262" opacity="0.8"/>
<circle cx="310.64" cy="522.84" r="0.54" fill="#8a7262" opacity="0.8"/>
<circle cx="313.40" cy="517.98" r="0.74" fill="#8a7262" opacity="0.8"/>
<circle cx="313.03" cy="518.51" r="0.82" fill="#9a8470" opacity="0.8"/>
<circle cx="317.85" cy="522.35" r="0.54" fill="#8a7262" opacity="0.8"/>
<circle cx="318.62" cy="518.75" r="0.75" fill="#2e2420" opacity="0.8"/>
<circle cx="310.43" cy="521.92" r="0.82" fill="#9a8470" opacity="0.8"/>
<circle cx="315.68" cy="517.74" r="0.45" fill="#8a7262" opacity="0.8"/>
</g>
</g>
<g clip-path="url(#clipd7)">
<rect x="338.4" y="491.5" width="49.60" height="50.00" fill="url(#gd7)"/>
<g filter="url(#soft)">
<circle cx="361.20" cy="512.80" r="7.90" fill="#ffffff" opacity="0.6"/>
<circle cx="361.20" cy="512.80" r="6.4" fill="#4e4038"/>
<circle cx="359.48" cy="517.48" r="0.56" fill="#9a8470" opacity="0.8"/>
<circle cx="356.52" cy="515.55" r="0.77" fill="#9a8470" opacity="0.8"/>
<circle cx="366.36" cy="513.48" r="0.86" fill="#2e2420" opacity="0.8"/>
<circle cx="364.51" cy="508.87" r="0.56" fill="#8a7262" opacity="0.8"/>
<circle cx="364.13" cy="512.26" r="0.42" fill="#2e2420" opacity="0.8"/>
<circle cx="362.81" cy="508.17" r="0.71" fill="#9a8470" opacity="0.8"/>
<circle cx="364.94" cy="516.54" r="0.73" fill="#8a7262" opacity="0.8"/>
<circle cx="359.21" cy="517.44" r="0.45" fill="#2e2420" opacity="0.8"/>
<circle cx="360.51" cy="516.53" r="0.65" fill="#8a7262" opacity="0.8"/>
<circle cx="359.49" cy="517.65" r="0.76" fill="#2e2420" opacity="0.8"/>
<circle cx="363.71" cy="511.21" r="0.50" fill="#2e2420" opacity="0.8"/>
<circle cx="360.11" cy="512.48" r="0.51" fill="#2e2420" opacity="0.8"/>
<circle cx="359.31" cy="513.75" r="0.89" fill="#8a7262" opacity="0.8"/>
<circle cx="357.45" cy="516.01" r="0.82" fill="#2e2420" opacity="0.8"/>
<circle cx="364.62" cy="514.61" r="0.46" fill="#2e2420" opacity="0.8"/>
<circle cx="364.99" cy="510.90" r="0.44" fill="#8a7262" opacity="0.8"/>
<circle cx="360.75" cy="508.21" r="0.58" fill="#9a8470" opacity="0.8"/>
<circle cx="360.34" cy="510.76" r="0.85" fill="#2e2420" opacity="0.8"/>
<circle cx="358.22" cy="508.31" r="0.80" fill="#9a8470" opacity="0.8"/>
<circle cx="359.60" cy="509.15" r="0.61" fill="#2e2420" opacity="0.8"/>
<circle cx="364.07" cy="514.47" r="0.75" fill="#9a8470" opacity="0.8"/>
<circle cx="365.10" cy="514.85" r="0.88" fill="#2e2420" opacity="0.8"/>
</g>
</g>
<text x="26.3" y="400.7" font-size="8.0" text-anchor="start" fill="#111" stroke="#111" stroke-width="0.2" textLength="42.8" lengthAdjust="spacingAndGlyphs"><tspan font-weight="normal" font-style="normal">iCas9 (</tspan><tspan font-weight="bold" font-style="normal">day 1</tspan><tspan font-weight="normal" font-style="normal">)</tspan></text>
<line x1="76.7" y1="393.0" x2="228" y2="393.0" stroke="#222" stroke-width="0.9"/>
<line x1="234.2" y1="393.0" x2="383.6" y2="393.0" stroke="#222" stroke-width="0.9"/>
<text x="117.9" y="389.3" font-size="7.0" text-anchor="start" fill="#111" stroke="#111" stroke-width="0.2" textLength="68.1" lengthAdjust="spacingAndGlyphs"><tspan font-weight="normal" font-style="italic">PDGFRA</tspan><tspan font-weight="normal" font-style="normal">-KO (</tspan><tspan font-weight="bold" font-style="normal">day 1</tspan><tspan font-weight="normal" font-style="normal">)</tspan></text>
<text x="274.2" y="389.3" font-size="7.0" text-anchor="start" fill="#111" stroke="#111" stroke-width="0.2" textLength="68.5" lengthAdjust="spacingAndGlyphs"><tspan font-weight="normal" font-style="italic">PDGFRB</tspan><tspan font-weight="normal" font-style="normal">-KO (</tspan><tspan font-weight="bold" font-style="normal">day 1</tspan><tspan font-weight="normal" font-style="normal">)</tspan></text>
<text x="101.0" y="401.4" font-size="8.2" text-anchor="middle" font-weight="normal" font-style="normal" fill="#111" textLength="16.4" lengthAdjust="spacingAndGlyphs" stroke="#111" stroke-width="0.2">No. 1</text>
<text x="153.2" y="401.4" font-size="8.2" text-anchor="middle" font-weight="normal" font-style="normal" fill="#111" textLength="16.4" lengthAdjust="spacingAndGlyphs" stroke="#111" stroke-width="0.2">No. 2</text>
<text x="203.3" y="401.4" font-size="8.2" text-anchor="middle" font-weight="normal" font-style="normal" fill="#111" textLength="16.4" lengthAdjust="spacingAndGlyphs" stroke="#111" stroke-width="0.2">No. 3</text>
<text x="258.6" y="401.4" font-size="8.2" text-anchor="middle" font-weight="normal" font-style="normal" fill="#111" textLength="16.4" lengthAdjust="spacingAndGlyphs" stroke="#111" stroke-width="0.2">No. 1</text>
<text x="309" y="401.4" font-size="8.2" text-anchor="middle" font-weight="normal" font-style="normal" fill="#111" textLength="16.4" lengthAdjust="spacingAndGlyphs" stroke="#111" stroke-width="0.2">No. 2</text>
<text x="359.6" y="401.4" font-size="8.2" text-anchor="middle" font-weight="normal" font-style="normal" fill="#111" textLength="16.4" lengthAdjust="spacingAndGlyphs" stroke="#111" stroke-width="0.2">No. 3</text>
<text x="47.2" y="463.2" font-size="7.5" text-anchor="middle" font-weight="normal" font-style="normal" fill="#111" textLength="27.5" lengthAdjust="spacingAndGlyphs" stroke="#111" stroke-width="0.2">0/8 (0%)</text>
<text x="102.5" y="463.2" font-size="7.5" text-anchor="middle" font-weight="normal" font-style="normal" fill="#111" textLength="37.5" lengthAdjust="spacingAndGlyphs" stroke="#111" stroke-width="0.2">5/8 (62.5%)</text>
<text x="153.2" y="463.2" font-size="7.5" text-anchor="middle" font-weight="normal" font-style="normal" fill="#111" textLength="37.5" lengthAdjust="spacingAndGlyphs" stroke="#111" stroke-width="0.2">5/8 (62.5%)</text>
<text x="203.3" y="463.2" font-size="7.5" text-anchor="middle" font-weight="normal" font-style="normal" fill="#111" textLength="37.5" lengthAdjust="spacingAndGlyphs" stroke="#111" stroke-width="0.2">6/8 (75.0%)</text>
<text x="258.6" y="463.2" font-size="7.5" text-anchor="middle" font-weight="normal" font-style="normal" fill="#111" textLength="37.5" lengthAdjust="spacingAndGlyphs" stroke="#111" stroke-width="0.2">6/8 (75.0%)</text>
<text x="307.8" y="463.2" font-size="7.5" text-anchor="middle" font-weight="normal" font-style="normal" fill="#111" textLength="37.5" lengthAdjust="spacingAndGlyphs" stroke="#111" stroke-width="0.2">7/8 (87.5%)</text>
<text x="359.6" y="463.2" font-size="7.5" text-anchor="middle" font-weight="normal" font-style="normal" fill="#111" textLength="37.5" lengthAdjust="spacingAndGlyphs" stroke="#111" stroke-width="0.2">4/8 (50.0%)</text>
<text x="27.8" y="488.8" font-size="7.6" text-anchor="start" fill="#111" stroke="#111" stroke-width="0.2" textLength="47.6" lengthAdjust="spacingAndGlyphs"><tspan font-weight="normal" font-style="normal">iCas9 (</tspan><tspan font-weight="bold" font-style="normal">day 11</tspan><tspan font-weight="normal" font-style="normal">)</tspan></text>
<line x1="82.4" y1="481.2" x2="232.3" y2="481.2" stroke="#222" stroke-width="0.9"/>
<line x1="237.6" y1="481.1" x2="386.5" y2="481.1" stroke="#222" stroke-width="0.9"/>
<text x="121" y="477.4" font-size="7.0" text-anchor="start" fill="#111" stroke="#111" stroke-width="0.2" textLength="71.8" lengthAdjust="spacingAndGlyphs"><tspan font-weight="normal" font-style="italic">PDGFRA</tspan><tspan font-weight="normal" font-style="normal">-KO (</tspan><tspan font-weight="bold" font-style="normal">day 11</tspan><tspan font-weight="normal" font-style="normal">)</tspan></text>
<text x="276.3" y="477.4" font-size="7.0" text-anchor="start" fill="#111" stroke="#111" stroke-width="0.2" textLength="70.7" lengthAdjust="spacingAndGlyphs"><tspan font-weight="normal" font-style="italic">PDGFRB</tspan><tspan font-weight="normal" font-style="normal">-KO (</tspan><tspan font-weight="bold" font-style="normal">day 11</tspan><tspan font-weight="normal" font-style="normal">)</tspan></text>
<text x="106.5" y="489.5" font-size="8.2" text-anchor="middle" font-weight="normal" font-style="normal" fill="#111" textLength="15.8" lengthAdjust="spacingAndGlyphs" stroke="#111" stroke-width="0.2">No. 1</text>
<text x="158.2" y="489.5" font-size="8.2" text-anchor="middle" font-weight="normal" font-style="normal" fill="#111" textLength="15.8" lengthAdjust="spacingAndGlyphs" stroke="#111" stroke-width="0.2">No. 2</text>
<text x="208.3" y="489.5" font-size="8.2" text-anchor="middle" font-weight="normal" font-style="normal" fill="#111" textLength="15.8" lengthAdjust="spacingAndGlyphs" stroke="#111" stroke-width="0.2">No. 3</text>
<text x="262.8" y="489.5" font-size="8.2" text-anchor="middle" font-weight="normal" font-style="normal" fill="#111" textLength="15.8" lengthAdjust="spacingAndGlyphs" stroke="#111" stroke-width="0.2">No. 1</text>
<text x="314.1" y="489.5" font-size="8.2" text-anchor="middle" font-weight="normal" font-style="normal" fill="#111" textLength="15.8" lengthAdjust="spacingAndGlyphs" stroke="#111" stroke-width="0.2">No. 2</text>
<text x="364.2" y="489.5" font-size="8.2" text-anchor="middle" font-weight="normal" font-style="normal" fill="#111" textLength="15.8" lengthAdjust="spacingAndGlyphs" stroke="#111" stroke-width="0.2">No. 3</text>
</svg>
</body></html>
